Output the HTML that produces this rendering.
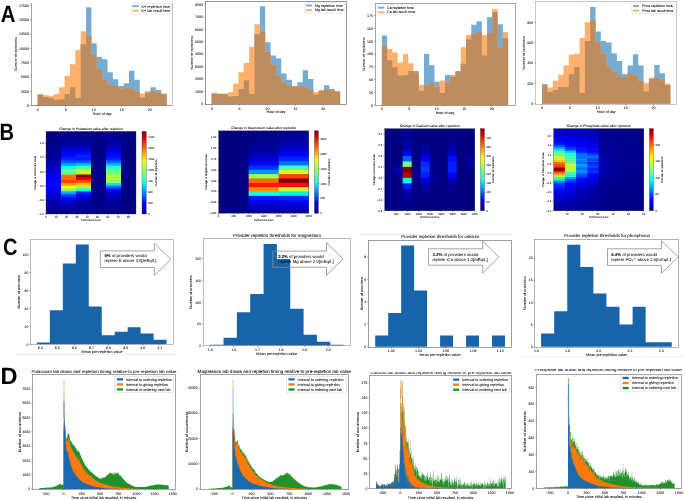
<!DOCTYPE html>
<html><head><meta charset="utf-8"><title>Electrolyte repletion figure</title>
<style>html,body{margin:0;padding:0;background:#fff}body{width:685px;height:501px;overflow:hidden;font-family:"Liberation Sans",sans-serif}svg{display:block}</style>
</head><body>
<svg width="685" height="501" viewBox="0 0 685 501" font-family="Liberation Sans, sans-serif" text-rendering="geometricPrecision">
<path d="M37.7 105.55V94.68H43.07V96.97H48.44V98.11H53.81V99.83H59.18V99.26H64.55V94.11H69.92V87.25H75.3V98.11H80.67V44.35H86.04V7.17H91.41V43.2H96.78V56.93H102.15V59.22H107.52V72.37H112.89V79.24H118.26V86.1H123.63V83.24H129V70.66H134.38V79.81H139.75V97.54H145.12V92.39H150.49V87.25H155.86V90.11H161.23V94.11H166.6V105.55Z" fill="#76acd3"/>
<path d="M37.7 105.55V94.11H43.07V95.25H48.44V95.83H53.81V94.11H59.18V87.25H64.55V75.81H69.92V64.37H75.3V50.07H80.67V31.19H86.04V35.77H91.41V54.64H96.78V68.94H102.15V79.24H107.52V84.96H112.89V86.1H118.26V88.39H123.63V87.82H129V88.39H134.38V91.82H139.75V93.54H145.12V91.25H150.49V90.68H155.86V92.39H161.23V93.54H166.6V105.55Z" fill="#ffb16c"/>
<path d="M37.7 105.55V94.68H43.07V96.97H48.44V98.11H53.81V99.83H59.18V99.26H64.55V94.11H69.92V87.25H75.3V98.11H80.67V44.35H86.04V35.77H91.41V54.64H96.78V68.94H102.15V79.24H107.52V84.96H112.89V86.1H118.26V88.39H123.63V87.82H129V88.39H134.38V91.82H139.75V97.54H145.12V92.39H150.49V90.68H155.86V92.39H161.23V94.11H166.6V105.55Z" fill="#bd8d5f"/>
<line x1="31.5" y1="3" x2="31.5" y2="105.8" stroke="#8c8c8c" stroke-width="0.8"/>
<line x1="31.1" y1="105.5" x2="172" y2="105.5" stroke="#777" stroke-width="0.75"/>
<line x1="37.7" y1="105.55" x2="37.7" y2="106.85" stroke="#444" stroke-width="0.45"/>
<text transform="translate(37.7 110.75) scale(0.1)" font-size="36" text-anchor="middle" fill="#000" stroke="#000" stroke-width="0.5">0</text>
<line x1="65.72" y1="105.55" x2="65.72" y2="106.85" stroke="#444" stroke-width="0.45"/>
<text transform="translate(65.72 110.75) scale(0.1)" font-size="36" text-anchor="middle" fill="#000" stroke="#000" stroke-width="0.5">5</text>
<line x1="93.74" y1="105.55" x2="93.74" y2="106.85" stroke="#444" stroke-width="0.45"/>
<text transform="translate(93.74 110.75) scale(0.1)" font-size="36" text-anchor="middle" fill="#000" stroke="#000" stroke-width="0.5">10</text>
<line x1="121.77" y1="105.55" x2="121.77" y2="106.85" stroke="#444" stroke-width="0.45"/>
<text transform="translate(121.77 110.75) scale(0.1)" font-size="36" text-anchor="middle" fill="#000" stroke="#000" stroke-width="0.5">15</text>
<line x1="149.79" y1="105.55" x2="149.79" y2="106.85" stroke="#444" stroke-width="0.45"/>
<text transform="translate(149.79 110.75) scale(0.1)" font-size="36" text-anchor="middle" fill="#000" stroke="#000" stroke-width="0.5">20</text>
<line x1="29.9" y1="105.55" x2="31.2" y2="105.55" stroke="#444" stroke-width="0.45"/>
<text transform="translate(28.9 106.85) scale(0.1)" font-size="36" text-anchor="end" fill="#000" stroke="#000" stroke-width="0.5">0</text>
<line x1="29.9" y1="91.25" x2="31.2" y2="91.25" stroke="#444" stroke-width="0.45"/>
<text transform="translate(28.9 92.55) scale(0.1)" font-size="36" text-anchor="end" fill="#000" stroke="#000" stroke-width="0.5">2500</text>
<line x1="29.9" y1="76.95" x2="31.2" y2="76.95" stroke="#444" stroke-width="0.45"/>
<text transform="translate(28.9 78.25) scale(0.1)" font-size="36" text-anchor="end" fill="#000" stroke="#000" stroke-width="0.5">5000</text>
<line x1="29.9" y1="62.65" x2="31.2" y2="62.65" stroke="#444" stroke-width="0.45"/>
<text transform="translate(28.9 63.95) scale(0.1)" font-size="36" text-anchor="end" fill="#000" stroke="#000" stroke-width="0.5">7500</text>
<line x1="29.9" y1="48.35" x2="31.2" y2="48.35" stroke="#444" stroke-width="0.45"/>
<text transform="translate(28.9 49.65) scale(0.1)" font-size="36" text-anchor="end" fill="#000" stroke="#000" stroke-width="0.5">10000</text>
<line x1="29.9" y1="34.05" x2="31.2" y2="34.05" stroke="#444" stroke-width="0.45"/>
<text transform="translate(28.9 35.35) scale(0.1)" font-size="36" text-anchor="end" fill="#000" stroke="#000" stroke-width="0.5">12500</text>
<line x1="29.9" y1="19.75" x2="31.2" y2="19.75" stroke="#444" stroke-width="0.45"/>
<text transform="translate(28.9 21.05) scale(0.1)" font-size="36" text-anchor="end" fill="#000" stroke="#000" stroke-width="0.5">15000</text>
<line x1="29.9" y1="5.45" x2="31.2" y2="5.45" stroke="#444" stroke-width="0.45"/>
<text transform="translate(28.9 6.75) scale(0.1)" font-size="36" text-anchor="end" fill="#000" stroke="#000" stroke-width="0.5">17500</text>
<text transform="translate(102.15 114.7) scale(0.1)" font-size="36" text-anchor="middle" fill="#000" stroke="#000" stroke-width="0.5">Hour of day</text>
<text transform="translate(16.8 54.27) rotate(-90) scale(0.1)" font-size="36" text-anchor="middle" fill="#000" stroke="#000" stroke-width="0.5">Number of repletions</text>
<rect x="131.2" y="3.3" width="40" height="10.7" fill="#fff" fill-opacity="0.8" stroke="#d4d4d4" stroke-width="0.5" rx="0.9"/>
<rect x="132.5" y="5.2" width="6.1" height="1.95" fill="#76acd3"/>
<rect x="132.5" y="9.8" width="6.1" height="1.95" fill="#ffb16c"/>
<text transform="translate(141.5 7.5) scale(0.1)" font-size="37.8" text-anchor="start" fill="#000" textLength="285" lengthAdjust="spacingAndGlyphs" stroke="#000" stroke-width="0.5">K+ repletion time</text>
<text transform="translate(141.5 11.85) scale(0.1)" font-size="37.3" text-anchor="start" fill="#000" textLength="289" lengthAdjust="spacingAndGlyphs" stroke="#000" stroke-width="0.5">K+ lab result time</text>
<line x1="172.5" y1="2.6" x2="172.5" y2="105.5" stroke="#c2c2c2" stroke-width="1.0"/>
<path d="M211.7 104V93.41H217.05V94.03H222.4V94.03H227.75V96.52H233.1V95.9H238.45V89.05H243.8V80.33H249.15V94.03H254.5V34.22H259.85V6.19H265.2V42.32H270.55V55.41H275.9V58.52H281.25V73.47H286.6V79.7H291.95V85.93H297.3V82.19H302.65V70.36H308V79.08H313.35V94.66H318.7V90.92H324.05V85.31H329.4V89.05H334.75V91.54H340.1V104Z" fill="#76acd3"/>
<path d="M211.7 104V92.79H217.05V93.41H222.4V93.41H227.75V92.16H233.1V83.44H238.45V72.23H243.8V62.88H249.15V46.68H254.5V24.26H259.85V31.73H265.2V51.67H270.55V64.75H275.9V75.97H281.25V82.82H286.6V85.31H291.95V86.56H297.3V85.93H302.65V86.56H308V89.67H313.35V92.16H318.7V89.67H324.05V89.67H329.4V90.29H334.75V91.54H340.1V104Z" fill="#ffb16c"/>
<path d="M211.7 104V93.41H217.05V94.03H222.4V94.03H227.75V96.52H233.1V95.9H238.45V89.05H243.8V80.33H249.15V94.03H254.5V34.22H259.85V31.73H265.2V51.67H270.55V64.75H275.9V75.97H281.25V82.82H286.6V85.31H291.95V86.56H297.3V85.93H302.65V86.56H308V89.67H313.35V94.66H318.7V90.92H324.05V89.67H329.4V90.29H334.75V91.54H340.1V104Z" fill="#bd8d5f"/>
<rect x="205.5" y="1.5" width="141" height="103" fill="none" stroke="#737373" stroke-width="0.75"/>
<line x1="211.7" y1="104.3" x2="211.7" y2="105.6" stroke="#444" stroke-width="0.45"/>
<text transform="translate(211.7 109.5) scale(0.1)" font-size="36" text-anchor="middle" fill="#000" stroke="#000" stroke-width="0.5">0</text>
<line x1="239.61" y1="104.3" x2="239.61" y2="105.6" stroke="#444" stroke-width="0.45"/>
<text transform="translate(239.61 109.5) scale(0.1)" font-size="36" text-anchor="middle" fill="#000" stroke="#000" stroke-width="0.5">5</text>
<line x1="267.53" y1="104.3" x2="267.53" y2="105.6" stroke="#444" stroke-width="0.45"/>
<text transform="translate(267.53 109.5) scale(0.1)" font-size="36" text-anchor="middle" fill="#000" stroke="#000" stroke-width="0.5">10</text>
<line x1="295.44" y1="104.3" x2="295.44" y2="105.6" stroke="#444" stroke-width="0.45"/>
<text transform="translate(295.44 109.5) scale(0.1)" font-size="36" text-anchor="middle" fill="#000" stroke="#000" stroke-width="0.5">15</text>
<line x1="323.35" y1="104.3" x2="323.35" y2="105.6" stroke="#444" stroke-width="0.45"/>
<text transform="translate(323.35 109.5) scale(0.1)" font-size="36" text-anchor="middle" fill="#000" stroke="#000" stroke-width="0.5">20</text>
<line x1="204.1" y1="104" x2="205.4" y2="104" stroke="#444" stroke-width="0.45"/>
<text transform="translate(203.1 105.3) scale(0.1)" font-size="36" text-anchor="end" fill="#000" stroke="#000" stroke-width="0.5">0</text>
<line x1="204.1" y1="91.54" x2="205.4" y2="91.54" stroke="#444" stroke-width="0.45"/>
<text transform="translate(203.1 92.84) scale(0.1)" font-size="36" text-anchor="end" fill="#000" stroke="#000" stroke-width="0.5">1000</text>
<line x1="204.1" y1="79.08" x2="205.4" y2="79.08" stroke="#444" stroke-width="0.45"/>
<text transform="translate(203.1 80.38) scale(0.1)" font-size="36" text-anchor="end" fill="#000" stroke="#000" stroke-width="0.5">2000</text>
<line x1="204.1" y1="66.62" x2="205.4" y2="66.62" stroke="#444" stroke-width="0.45"/>
<text transform="translate(203.1 67.92) scale(0.1)" font-size="36" text-anchor="end" fill="#000" stroke="#000" stroke-width="0.5">3000</text>
<line x1="204.1" y1="54.16" x2="205.4" y2="54.16" stroke="#444" stroke-width="0.45"/>
<text transform="translate(203.1 55.46) scale(0.1)" font-size="36" text-anchor="end" fill="#000" stroke="#000" stroke-width="0.5">4000</text>
<line x1="204.1" y1="41.7" x2="205.4" y2="41.7" stroke="#444" stroke-width="0.45"/>
<text transform="translate(203.1 43) scale(0.1)" font-size="36" text-anchor="end" fill="#000" stroke="#000" stroke-width="0.5">5000</text>
<line x1="204.1" y1="29.24" x2="205.4" y2="29.24" stroke="#444" stroke-width="0.45"/>
<text transform="translate(203.1 30.54) scale(0.1)" font-size="36" text-anchor="end" fill="#000" stroke="#000" stroke-width="0.5">6000</text>
<line x1="204.1" y1="16.78" x2="205.4" y2="16.78" stroke="#444" stroke-width="0.45"/>
<text transform="translate(203.1 18.08) scale(0.1)" font-size="36" text-anchor="end" fill="#000" stroke="#000" stroke-width="0.5">7000</text>
<line x1="204.1" y1="4.32" x2="205.4" y2="4.32" stroke="#444" stroke-width="0.45"/>
<text transform="translate(203.1 5.62) scale(0.1)" font-size="36" text-anchor="end" fill="#000" stroke="#000" stroke-width="0.5">8000</text>
<text transform="translate(275.9 113.3) scale(0.1)" font-size="36" text-anchor="middle" fill="#000" stroke="#000" stroke-width="0.5">Hour of day</text>
<text transform="translate(193 52.8) rotate(-90) scale(0.1)" font-size="36" text-anchor="middle" fill="#000" stroke="#000" stroke-width="0.5">Number of repletions</text>
<rect x="304.6" y="2.6" width="40.3" height="10.5" fill="#fff" fill-opacity="0.8" stroke="#d4d4d4" stroke-width="0.5" rx="0.9"/>
<rect x="305.9" y="4.5" width="6.1" height="1.95" fill="#76acd3"/>
<rect x="305.9" y="9.1" width="6.1" height="1.95" fill="#ffb16c"/>
<text transform="translate(314.9 6.8) scale(0.1)" font-size="36.5" text-anchor="start" fill="#000" textLength="280" lengthAdjust="spacingAndGlyphs" stroke="#000" stroke-width="0.5">Mg repletion time</text>
<text transform="translate(314.9 11.15) scale(0.1)" font-size="36.2" text-anchor="start" fill="#000" textLength="286" lengthAdjust="spacingAndGlyphs" stroke="#000" stroke-width="0.5">Mg lab result time</text>
<path d="M381.9 105.2V35.57H387.16V60.14H392.42V67.31H397.67V75.5H402.93V74.99H408.19V70.9H413.45V70.9H418.71V90.86H423.97V54H429.23V65.26H434.48V81.65H439.74V92.91H445V74.99H450.26V76.53H455.52V70.9H460.77V63.73H466.03V39.15H471.29V24.82H476.55V21.23H481.81V55.54H487.07V17.14H492.33V12.02H497.58V24.3H502.84V38.13H508.1V105.2Z" fill="#76acd3"/>
<path d="M381.9 105.2V45.81H387.16V48.88H392.42V52.46H397.67V62.7H402.93V54H408.19V63.22H413.45V72.43H418.71V84.72H423.97V85.23H429.23V82.67H434.48V86.77H439.74V80.62H445V82.16H450.26V74.99H455.52V71.92H460.77V47.34H466.03V35.06H471.29V33.52H476.55V31.98H481.81V35.06H487.07V33.01H492.33V8.94H497.58V47.34H502.84V31.98H508.1V105.2Z" fill="#ffb16c"/>
<path d="M381.9 105.2V45.81H387.16V60.14H392.42V67.31H397.67V75.5H402.93V74.99H408.19V70.9H413.45V72.43H418.71V90.86H423.97V85.23H429.23V82.67H434.48V86.77H439.74V92.91H445V82.16H450.26V76.53H455.52V71.92H460.77V63.73H466.03V39.15H471.29V33.52H476.55V31.98H481.81V55.54H487.07V33.01H492.33V12.02H497.58V47.34H502.84V38.13H508.1V105.2Z" fill="#bd8d5f"/>
<rect x="375.5" y="3.5" width="140" height="102" fill="none" stroke="#8c8c8c" stroke-width="0.75"/>
<line x1="381.9" y1="105.2" x2="381.9" y2="106.5" stroke="#444" stroke-width="0.45"/>
<text transform="translate(381.9 110.4) scale(0.1)" font-size="36" text-anchor="middle" fill="#000" stroke="#000" stroke-width="0.5">0</text>
<line x1="409.33" y1="105.2" x2="409.33" y2="106.5" stroke="#444" stroke-width="0.45"/>
<text transform="translate(409.33 110.4) scale(0.1)" font-size="36" text-anchor="middle" fill="#000" stroke="#000" stroke-width="0.5">5</text>
<line x1="436.77" y1="105.2" x2="436.77" y2="106.5" stroke="#444" stroke-width="0.45"/>
<text transform="translate(436.77 110.4) scale(0.1)" font-size="36" text-anchor="middle" fill="#000" stroke="#000" stroke-width="0.5">10</text>
<line x1="464.2" y1="105.2" x2="464.2" y2="106.5" stroke="#444" stroke-width="0.45"/>
<text transform="translate(464.2 110.4) scale(0.1)" font-size="36" text-anchor="middle" fill="#000" stroke="#000" stroke-width="0.5">15</text>
<line x1="491.64" y1="105.2" x2="491.64" y2="106.5" stroke="#444" stroke-width="0.45"/>
<text transform="translate(491.64 110.4) scale(0.1)" font-size="36" text-anchor="middle" fill="#000" stroke="#000" stroke-width="0.5">20</text>
<line x1="374.05" y1="105.2" x2="375.35" y2="105.2" stroke="#444" stroke-width="0.45"/>
<text transform="translate(373.05 106.5) scale(0.1)" font-size="36" text-anchor="end" fill="#000" stroke="#000" stroke-width="0.5">0</text>
<line x1="374.05" y1="92.4" x2="375.35" y2="92.4" stroke="#444" stroke-width="0.45"/>
<text transform="translate(373.05 93.7) scale(0.1)" font-size="36" text-anchor="end" fill="#000" stroke="#000" stroke-width="0.5">25</text>
<line x1="374.05" y1="79.6" x2="375.35" y2="79.6" stroke="#444" stroke-width="0.45"/>
<text transform="translate(373.05 80.9) scale(0.1)" font-size="36" text-anchor="end" fill="#000" stroke="#000" stroke-width="0.5">50</text>
<line x1="374.05" y1="66.8" x2="375.35" y2="66.8" stroke="#444" stroke-width="0.45"/>
<text transform="translate(373.05 68.1) scale(0.1)" font-size="36" text-anchor="end" fill="#000" stroke="#000" stroke-width="0.5">75</text>
<line x1="374.05" y1="54" x2="375.35" y2="54" stroke="#444" stroke-width="0.45"/>
<text transform="translate(373.05 55.3) scale(0.1)" font-size="36" text-anchor="end" fill="#000" stroke="#000" stroke-width="0.5">100</text>
<line x1="374.05" y1="41.2" x2="375.35" y2="41.2" stroke="#444" stroke-width="0.45"/>
<text transform="translate(373.05 42.5) scale(0.1)" font-size="36" text-anchor="end" fill="#000" stroke="#000" stroke-width="0.5">125</text>
<line x1="374.05" y1="28.4" x2="375.35" y2="28.4" stroke="#444" stroke-width="0.45"/>
<text transform="translate(373.05 29.7) scale(0.1)" font-size="36" text-anchor="end" fill="#000" stroke="#000" stroke-width="0.5">150</text>
<line x1="374.05" y1="15.6" x2="375.35" y2="15.6" stroke="#444" stroke-width="0.45"/>
<text transform="translate(373.05 16.9) scale(0.1)" font-size="36" text-anchor="end" fill="#000" stroke="#000" stroke-width="0.5">175</text>
<text transform="translate(445 114.1) scale(0.1)" font-size="36" text-anchor="middle" fill="#000" stroke="#000" stroke-width="0.5">Hour of day</text>
<text transform="translate(364.5 54.35) rotate(-90) scale(0.1)" font-size="36" text-anchor="middle" fill="#000" stroke="#000" stroke-width="0.5">Number of repletions</text>
<rect x="376.8" y="4.8" width="38.8" height="10.1" fill="#fff" fill-opacity="0.8" stroke="#d4d4d4" stroke-width="0.5" rx="0.9"/>
<rect x="378.1" y="6.7" width="6.1" height="1.95" fill="#76acd3"/>
<rect x="378.1" y="11.3" width="6.1" height="1.95" fill="#ffb16c"/>
<text transform="translate(387.1 9) scale(0.1)" font-size="35.3" text-anchor="start" fill="#000" textLength="267" lengthAdjust="spacingAndGlyphs" stroke="#000" stroke-width="0.5">Ca repletion time</text>
<text transform="translate(387.1 13.35) scale(0.1)" font-size="35.7" text-anchor="start" fill="#000" textLength="278" lengthAdjust="spacingAndGlyphs" stroke="#000" stroke-width="0.5">Ca lab result time</text>
<path d="M542.1 103.8V83.91H547.44V92.07H552.78V90.03H558.12V86.97H563.47V86.97H568.81V74.22H574.15V67.08H579.49V93.09H584.83V41.07H590.17V6.9H595.52V31.38H600.86V41.07H606.2V42.6H611.54V53.31H616.88V60.96H622.23V74.22H627.57V65.55H632.91V54.33H638.25V65.55H643.59V91.56H648.93V78.81H654.27V65.04H659.62V73.2H664.96V84.93H670.3V103.8Z" fill="#76acd3"/>
<path d="M542.1 103.8V85.44H547.44V87.48H552.78V80.85H558.12V74.73H563.47V65.55H568.81V54.84H574.15V53.82H579.49V38.01H584.83V22.2H590.17V20.16H595.52V42.6H600.86V53.82H606.2V66.57H611.54V71.67H616.88V76.77H622.23V77.28H627.57V73.2H632.91V75.75H638.25V80.85H643.59V82.89H648.93V77.79H654.27V77.79H659.62V80.34H664.96V83.4H670.3V103.8Z" fill="#ffb16c"/>
<path d="M542.1 103.8V85.44H547.44V92.07H552.78V90.03H558.12V86.97H563.47V86.97H568.81V74.22H574.15V67.08H579.49V93.09H584.83V41.07H590.17V20.16H595.52V42.6H600.86V53.82H606.2V66.57H611.54V71.67H616.88V76.77H622.23V77.28H627.57V73.2H632.91V75.75H638.25V80.85H643.59V91.56H648.93V78.81H654.27V77.79H659.62V80.34H664.96V84.93H670.3V103.8Z" fill="#bd8d5f"/>
<rect x="535.5" y="1.5" width="141" height="103" fill="none" stroke="#b4b4b4" stroke-width="0.75"/>
<line x1="542.1" y1="104" x2="542.1" y2="105.3" stroke="#444" stroke-width="0.45"/>
<text transform="translate(542.1 109.2) scale(0.1)" font-size="36" text-anchor="middle" fill="#000" stroke="#000" stroke-width="0.5">0</text>
<line x1="569.97" y1="104" x2="569.97" y2="105.3" stroke="#444" stroke-width="0.45"/>
<text transform="translate(569.97 109.2) scale(0.1)" font-size="36" text-anchor="middle" fill="#000" stroke="#000" stroke-width="0.5">5</text>
<line x1="597.84" y1="104" x2="597.84" y2="105.3" stroke="#444" stroke-width="0.45"/>
<text transform="translate(597.84 109.2) scale(0.1)" font-size="36" text-anchor="middle" fill="#000" stroke="#000" stroke-width="0.5">10</text>
<line x1="625.71" y1="104" x2="625.71" y2="105.3" stroke="#444" stroke-width="0.45"/>
<text transform="translate(625.71 109.2) scale(0.1)" font-size="36" text-anchor="middle" fill="#000" stroke="#000" stroke-width="0.5">15</text>
<line x1="653.58" y1="104" x2="653.58" y2="105.3" stroke="#444" stroke-width="0.45"/>
<text transform="translate(653.58 109.2) scale(0.1)" font-size="36" text-anchor="middle" fill="#000" stroke="#000" stroke-width="0.5">20</text>
<line x1="534.3" y1="103.8" x2="535.6" y2="103.8" stroke="#444" stroke-width="0.45"/>
<text transform="translate(533.3 105.1) scale(0.1)" font-size="36" text-anchor="end" fill="#000" stroke="#000" stroke-width="0.5">0</text>
<line x1="534.3" y1="83.4" x2="535.6" y2="83.4" stroke="#444" stroke-width="0.45"/>
<text transform="translate(533.3 84.7) scale(0.1)" font-size="36" text-anchor="end" fill="#000" stroke="#000" stroke-width="0.5">200</text>
<line x1="534.3" y1="63" x2="535.6" y2="63" stroke="#444" stroke-width="0.45"/>
<text transform="translate(533.3 64.3) scale(0.1)" font-size="36" text-anchor="end" fill="#000" stroke="#000" stroke-width="0.5">400</text>
<line x1="534.3" y1="42.6" x2="535.6" y2="42.6" stroke="#444" stroke-width="0.45"/>
<text transform="translate(533.3 43.9) scale(0.1)" font-size="36" text-anchor="end" fill="#000" stroke="#000" stroke-width="0.5">600</text>
<line x1="534.3" y1="22.2" x2="535.6" y2="22.2" stroke="#444" stroke-width="0.45"/>
<text transform="translate(533.3 23.5) scale(0.1)" font-size="36" text-anchor="end" fill="#000" stroke="#000" stroke-width="0.5">800</text>
<text transform="translate(606.2 112.9) scale(0.1)" font-size="36" text-anchor="middle" fill="#000" stroke="#000" stroke-width="0.5">Hour of day</text>
<text transform="translate(525.3 52.8) rotate(-90) scale(0.1)" font-size="36" text-anchor="middle" fill="#000" stroke="#000" stroke-width="0.5">Number of repletions</text>
<rect x="631.8" y="3.1" width="42.2" height="10.5" fill="#fff" fill-opacity="0.8" stroke="#d4d4d4" stroke-width="0.5" rx="0.9"/>
<rect x="633.1" y="5" width="6.1" height="1.95" fill="#76acd3"/>
<rect x="633.1" y="9.6" width="6.1" height="1.95" fill="#ffb16c"/>
<text transform="translate(642.1 7.3) scale(0.1)" font-size="35.7" text-anchor="start" fill="#000" textLength="306" lengthAdjust="spacingAndGlyphs" stroke="#000" stroke-width="0.5">Phos repletion time</text>
<text transform="translate(642.1 11.65) scale(0.1)" font-size="35.4" text-anchor="start" fill="#000" textLength="311" lengthAdjust="spacingAndGlyphs" stroke="#000" stroke-width="0.5">Phos lab result time</text>
<defs><linearGradient id="jet" x1="0" y1="1" x2="0" y2="0">
<stop offset="0.000" stop-color="#000080"/>
<stop offset="0.025" stop-color="#00009c"/>
<stop offset="0.050" stop-color="#0000b9"/>
<stop offset="0.075" stop-color="#0000d6"/>
<stop offset="0.100" stop-color="#0000f3"/>
<stop offset="0.125" stop-color="#0000ff"/>
<stop offset="0.150" stop-color="#0019ff"/>
<stop offset="0.175" stop-color="#0033ff"/>
<stop offset="0.200" stop-color="#004dff"/>
<stop offset="0.225" stop-color="#0066ff"/>
<stop offset="0.250" stop-color="#0080ff"/>
<stop offset="0.275" stop-color="#0099ff"/>
<stop offset="0.300" stop-color="#00b3ff"/>
<stop offset="0.325" stop-color="#00ccff"/>
<stop offset="0.350" stop-color="#00e5f7"/>
<stop offset="0.375" stop-color="#15ffe2"/>
<stop offset="0.400" stop-color="#29ffce"/>
<stop offset="0.425" stop-color="#3effb9"/>
<stop offset="0.450" stop-color="#52ffa5"/>
<stop offset="0.475" stop-color="#67ff90"/>
<stop offset="0.500" stop-color="#7bff7b"/>
<stop offset="0.525" stop-color="#90ff67"/>
<stop offset="0.550" stop-color="#a5ff52"/>
<stop offset="0.575" stop-color="#b9ff3e"/>
<stop offset="0.600" stop-color="#ceff29"/>
<stop offset="0.625" stop-color="#e2ff15"/>
<stop offset="0.650" stop-color="#f7f600"/>
<stop offset="0.675" stop-color="#ffde00"/>
<stop offset="0.700" stop-color="#ffc600"/>
<stop offset="0.725" stop-color="#ffaf00"/>
<stop offset="0.750" stop-color="#ff9700"/>
<stop offset="0.775" stop-color="#ff8000"/>
<stop offset="0.800" stop-color="#ff6800"/>
<stop offset="0.825" stop-color="#ff5000"/>
<stop offset="0.850" stop-color="#ff3900"/>
<stop offset="0.875" stop-color="#ff2100"/>
<stop offset="0.900" stop-color="#f30900"/>
<stop offset="0.925" stop-color="#d60000"/>
<stop offset="0.950" stop-color="#b90000"/>
<stop offset="0.975" stop-color="#9c0000"/>
<stop offset="1.000" stop-color="#800000"/>
</linearGradient><clipPath id="cpD"><rect x="0" y="369.7" width="685" height="140"/></clipPath></defs>
<clipPath id="h46"><rect x="46" y="131.4" width="90" height="82.6"/></clipPath><g clip-path="url(#h46)">
<rect x="46" y="131.4" width="90" height="82.6" fill="#000080"/>
<rect x="46" y="129.31" width="15.5" height="3.32" fill="#000086"/>
<rect x="46" y="132.13" width="15.5" height="3.32" fill="#000086"/>
<rect x="46" y="134.96" width="15.5" height="3.32" fill="#000086"/>
<rect x="46" y="137.78" width="15.5" height="3.32" fill="#000086"/>
<rect x="46" y="140.6" width="15.5" height="3.32" fill="#000086"/>
<rect x="46" y="143.43" width="15.5" height="3.32" fill="#000089"/>
<rect x="46" y="146.25" width="15.5" height="3.32" fill="#00008c"/>
<rect x="46" y="149.07" width="15.5" height="3.32" fill="#00008f"/>
<rect x="46" y="151.89" width="15.5" height="3.32" fill="#000092"/>
<rect x="46" y="154.72" width="15.5" height="3.32" fill="#000098"/>
<rect x="46" y="157.54" width="15.5" height="3.32" fill="#00009e"/>
<rect x="46" y="160.36" width="15.5" height="3.32" fill="#0000ab"/>
<rect x="46" y="163.19" width="15.5" height="3.32" fill="#0000bd"/>
<rect x="46" y="166.01" width="15.5" height="3.32" fill="#0000c3"/>
<rect x="46" y="168.83" width="15.5" height="3.32" fill="#0000ca"/>
<rect x="46" y="171.66" width="15.5" height="3.32" fill="#0000d0"/>
<rect x="46" y="174.48" width="15.5" height="3.32" fill="#0000ff"/>
<rect x="46" y="177.3" width="15.5" height="3.32" fill="#0000ff"/>
<rect x="46" y="180.12" width="15.5" height="3.32" fill="#0003ff"/>
<rect x="46" y="182.95" width="15.5" height="3.32" fill="#0008ff"/>
<rect x="46" y="185.77" width="15.5" height="3.32" fill="#0003ff"/>
<rect x="46" y="188.59" width="15.5" height="3.32" fill="#0000ff"/>
<rect x="46" y="191.42" width="15.5" height="3.32" fill="#0000dc"/>
<rect x="46" y="194.24" width="15.5" height="3.32" fill="#0000d6"/>
<rect x="46" y="197.06" width="15.5" height="3.32" fill="#0000d0"/>
<rect x="46" y="199.89" width="15.5" height="3.32" fill="#0000a5"/>
<rect x="46" y="202.71" width="15.5" height="3.32" fill="#0000b7"/>
<rect x="46" y="205.53" width="15.5" height="3.32" fill="#00009e"/>
<rect x="46" y="208.35" width="15.5" height="3.32" fill="#000098"/>
<rect x="46" y="211.18" width="15.5" height="3.32" fill="#000092"/>
<rect x="61" y="129.31" width="15.5" height="3.32" fill="#00008c"/>
<rect x="61" y="132.13" width="15.5" height="3.32" fill="#00008f"/>
<rect x="61" y="134.96" width="15.5" height="3.32" fill="#000092"/>
<rect x="61" y="137.78" width="15.5" height="3.32" fill="#000098"/>
<rect x="61" y="140.6" width="15.5" height="3.32" fill="#00009e"/>
<rect x="61" y="143.43" width="15.5" height="3.32" fill="#0000ab"/>
<rect x="61" y="146.25" width="15.5" height="3.32" fill="#0000bd"/>
<rect x="61" y="149.07" width="15.5" height="3.32" fill="#0000dc"/>
<rect x="61" y="151.89" width="15.5" height="3.32" fill="#0000fb"/>
<rect x="61" y="154.72" width="15.5" height="3.32" fill="#0008ff"/>
<rect x="61" y="157.54" width="15.5" height="3.32" fill="#0024ff"/>
<rect x="61" y="160.36" width="15.5" height="3.32" fill="#005aff"/>
<rect x="61" y="163.19" width="15.5" height="3.32" fill="#00abff"/>
<rect x="61" y="166.01" width="15.5" height="3.32" fill="#13fde4"/>
<rect x="61" y="168.83" width="15.5" height="3.32" fill="#55ffa2"/>
<rect x="61" y="171.66" width="15.5" height="3.32" fill="#6bff8c"/>
<rect x="61" y="174.48" width="15.5" height="3.32" fill="#ff7300"/>
<rect x="61" y="177.3" width="15.5" height="3.32" fill="#ff6900"/>
<rect x="61" y="180.12" width="15.5" height="3.32" fill="#ff4000"/>
<rect x="61" y="182.95" width="15.5" height="3.32" fill="#ff9b00"/>
<rect x="61" y="185.77" width="15.5" height="3.32" fill="#eeff09"/>
<rect x="61" y="188.59" width="15.5" height="3.32" fill="#80ff76"/>
<rect x="61" y="191.42" width="15.5" height="3.32" fill="#00abff"/>
<rect x="61" y="194.24" width="15.5" height="3.32" fill="#003fff"/>
<rect x="61" y="197.06" width="15.5" height="3.32" fill="#0008ff"/>
<rect x="61" y="199.89" width="15.5" height="3.32" fill="#0000dc"/>
<rect x="61" y="202.71" width="15.5" height="3.32" fill="#0000bd"/>
<rect x="61" y="205.53" width="15.5" height="3.32" fill="#0000a5"/>
<rect x="61" y="208.35" width="15.5" height="3.32" fill="#00009e"/>
<rect x="61" y="211.18" width="15.5" height="3.32" fill="#000098"/>
<rect x="76" y="129.31" width="15.5" height="3.32" fill="#000089"/>
<rect x="76" y="132.13" width="15.5" height="3.32" fill="#00008c"/>
<rect x="76" y="134.96" width="15.5" height="3.32" fill="#00008f"/>
<rect x="76" y="137.78" width="15.5" height="3.32" fill="#000092"/>
<rect x="76" y="140.6" width="15.5" height="3.32" fill="#000098"/>
<rect x="76" y="143.43" width="15.5" height="3.32" fill="#0000a5"/>
<rect x="76" y="146.25" width="15.5" height="3.32" fill="#0000bd"/>
<rect x="76" y="149.07" width="15.5" height="3.32" fill="#0000dc"/>
<rect x="76" y="151.89" width="15.5" height="3.32" fill="#0008ff"/>
<rect x="76" y="154.72" width="15.5" height="3.32" fill="#0024ff"/>
<rect x="76" y="157.54" width="15.5" height="3.32" fill="#0019ff"/>
<rect x="76" y="160.36" width="15.5" height="3.32" fill="#005aff"/>
<rect x="76" y="163.19" width="15.5" height="3.32" fill="#00c7ff"/>
<rect x="76" y="166.01" width="15.5" height="3.32" fill="#3fffb8"/>
<rect x="76" y="168.83" width="15.5" height="3.32" fill="#cbff2c"/>
<rect x="76" y="171.66" width="15.5" height="3.32" fill="#b9ff3d"/>
<rect x="76" y="174.48" width="15.5" height="3.32" fill="#900000"/>
<rect x="76" y="177.3" width="15.5" height="3.32" fill="#ed0400"/>
<rect x="76" y="180.12" width="15.5" height="3.32" fill="#ff5000"/>
<rect x="76" y="182.95" width="15.5" height="3.32" fill="#ffbe00"/>
<rect x="76" y="185.77" width="15.5" height="3.32" fill="#96ff60"/>
<rect x="76" y="188.59" width="15.5" height="3.32" fill="#13fde4"/>
<rect x="76" y="191.42" width="15.5" height="3.32" fill="#0024ff"/>
<rect x="76" y="194.24" width="15.5" height="3.32" fill="#0000fb"/>
<rect x="76" y="197.06" width="15.5" height="3.32" fill="#0000ca"/>
<rect x="76" y="199.89" width="15.5" height="3.32" fill="#0000ab"/>
<rect x="76" y="202.71" width="15.5" height="3.32" fill="#00009e"/>
<rect x="76" y="205.53" width="15.5" height="3.32" fill="#000098"/>
<rect x="76" y="208.35" width="15.5" height="3.32" fill="#000092"/>
<rect x="76" y="211.18" width="15.5" height="3.32" fill="#000092"/>
<rect x="91" y="129.31" width="15.5" height="3.32" fill="#000088"/>
<rect x="91" y="132.13" width="15.5" height="3.32" fill="#000088"/>
<rect x="91" y="134.96" width="15.5" height="3.32" fill="#000088"/>
<rect x="91" y="137.78" width="15.5" height="3.32" fill="#000088"/>
<rect x="91" y="140.6" width="15.5" height="3.32" fill="#000088"/>
<rect x="91" y="143.43" width="15.5" height="3.32" fill="#000088"/>
<rect x="91" y="146.25" width="15.5" height="3.32" fill="#000088"/>
<rect x="91" y="149.07" width="15.5" height="3.32" fill="#000088"/>
<rect x="91" y="151.89" width="15.5" height="3.32" fill="#000088"/>
<rect x="91" y="154.72" width="15.5" height="3.32" fill="#000088"/>
<rect x="91" y="157.54" width="15.5" height="3.32" fill="#000088"/>
<rect x="91" y="160.36" width="15.5" height="3.32" fill="#000088"/>
<rect x="91" y="163.19" width="15.5" height="3.32" fill="#000088"/>
<rect x="91" y="166.01" width="15.5" height="3.32" fill="#000088"/>
<rect x="91" y="168.83" width="15.5" height="3.32" fill="#000088"/>
<rect x="91" y="171.66" width="15.5" height="3.32" fill="#000088"/>
<rect x="91" y="174.48" width="15.5" height="3.32" fill="#000088"/>
<rect x="91" y="177.3" width="15.5" height="3.32" fill="#000088"/>
<rect x="91" y="180.12" width="15.5" height="3.32" fill="#000088"/>
<rect x="91" y="182.95" width="15.5" height="3.32" fill="#000088"/>
<rect x="91" y="185.77" width="15.5" height="3.32" fill="#000088"/>
<rect x="91" y="188.59" width="15.5" height="3.32" fill="#000088"/>
<rect x="91" y="191.42" width="15.5" height="3.32" fill="#000088"/>
<rect x="91" y="194.24" width="15.5" height="3.32" fill="#000088"/>
<rect x="91" y="197.06" width="15.5" height="3.32" fill="#000088"/>
<rect x="91" y="199.89" width="15.5" height="3.32" fill="#000088"/>
<rect x="91" y="202.71" width="15.5" height="3.32" fill="#000088"/>
<rect x="91" y="205.53" width="15.5" height="3.32" fill="#000088"/>
<rect x="91" y="208.35" width="15.5" height="3.32" fill="#000088"/>
<rect x="91" y="211.18" width="15.5" height="3.32" fill="#000088"/>
<rect x="106" y="129.31" width="15.5" height="3.32" fill="#00008c"/>
<rect x="106" y="132.13" width="15.5" height="3.32" fill="#00008f"/>
<rect x="106" y="134.96" width="15.5" height="3.32" fill="#000092"/>
<rect x="106" y="137.78" width="15.5" height="3.32" fill="#000098"/>
<rect x="106" y="140.6" width="15.5" height="3.32" fill="#0000a5"/>
<rect x="106" y="143.43" width="15.5" height="3.32" fill="#0000b1"/>
<rect x="106" y="146.25" width="15.5" height="3.32" fill="#0000bd"/>
<rect x="106" y="149.07" width="15.5" height="3.32" fill="#0000dc"/>
<rect x="106" y="151.89" width="15.5" height="3.32" fill="#0000fb"/>
<rect x="106" y="154.72" width="15.5" height="3.32" fill="#0008ff"/>
<rect x="106" y="157.54" width="15.5" height="3.32" fill="#0024ff"/>
<rect x="106" y="160.36" width="15.5" height="3.32" fill="#0065ff"/>
<rect x="106" y="163.19" width="15.5" height="3.32" fill="#00bcff"/>
<rect x="106" y="166.01" width="15.5" height="3.32" fill="#1cffdb"/>
<rect x="106" y="168.83" width="15.5" height="3.32" fill="#6bff8c"/>
<rect x="106" y="171.66" width="15.5" height="3.32" fill="#6bff8c"/>
<rect x="106" y="174.48" width="15.5" height="3.32" fill="#b1ff46"/>
<rect x="106" y="177.3" width="15.5" height="3.32" fill="#acff4b"/>
<rect x="106" y="180.12" width="15.5" height="3.32" fill="#9fff58"/>
<rect x="106" y="182.95" width="15.5" height="3.32" fill="#00e2fa"/>
<rect x="106" y="185.77" width="15.5" height="3.32" fill="#0065ff"/>
<rect x="106" y="188.59" width="15.5" height="3.32" fill="#0008ff"/>
<rect x="106" y="191.42" width="15.5" height="3.32" fill="#0000dc"/>
<rect x="106" y="194.24" width="15.5" height="3.32" fill="#0000bd"/>
<rect x="106" y="197.06" width="15.5" height="3.32" fill="#0000ab"/>
<rect x="106" y="199.89" width="15.5" height="3.32" fill="#00009e"/>
<rect x="106" y="202.71" width="15.5" height="3.32" fill="#000098"/>
<rect x="106" y="205.53" width="15.5" height="3.32" fill="#000092"/>
<rect x="106" y="208.35" width="15.5" height="3.32" fill="#00008f"/>
<rect x="106" y="211.18" width="15.5" height="3.32" fill="#00008c"/>
<rect x="121" y="129.31" width="15.5" height="3.32" fill="#000082"/>
<rect x="121" y="132.13" width="15.5" height="3.32" fill="#000082"/>
<rect x="121" y="134.96" width="15.5" height="3.32" fill="#000082"/>
<rect x="121" y="137.78" width="15.5" height="3.32" fill="#000082"/>
<rect x="121" y="140.6" width="15.5" height="3.32" fill="#000082"/>
<rect x="121" y="143.43" width="15.5" height="3.32" fill="#000082"/>
<rect x="121" y="146.25" width="15.5" height="3.32" fill="#000082"/>
<rect x="121" y="149.07" width="15.5" height="3.32" fill="#000082"/>
<rect x="121" y="151.89" width="15.5" height="3.32" fill="#000082"/>
<rect x="121" y="154.72" width="15.5" height="3.32" fill="#000082"/>
<rect x="121" y="157.54" width="15.5" height="3.32" fill="#000082"/>
<rect x="121" y="160.36" width="15.5" height="3.32" fill="#000082"/>
<rect x="121" y="163.19" width="15.5" height="3.32" fill="#000082"/>
<rect x="121" y="166.01" width="15.5" height="3.32" fill="#000082"/>
<rect x="121" y="168.83" width="15.5" height="3.32" fill="#000082"/>
<rect x="121" y="171.66" width="15.5" height="3.32" fill="#000082"/>
<rect x="121" y="174.48" width="15.5" height="3.32" fill="#000082"/>
<rect x="121" y="177.3" width="15.5" height="3.32" fill="#000082"/>
<rect x="121" y="180.12" width="15.5" height="3.32" fill="#000082"/>
<rect x="121" y="182.95" width="15.5" height="3.32" fill="#000082"/>
<rect x="121" y="185.77" width="15.5" height="3.32" fill="#000082"/>
<rect x="121" y="188.59" width="15.5" height="3.32" fill="#000082"/>
<rect x="121" y="191.42" width="15.5" height="3.32" fill="#000082"/>
<rect x="121" y="194.24" width="15.5" height="3.32" fill="#000082"/>
<rect x="121" y="197.06" width="15.5" height="3.32" fill="#000082"/>
<rect x="121" y="199.89" width="15.5" height="3.32" fill="#000082"/>
<rect x="121" y="202.71" width="15.5" height="3.32" fill="#000082"/>
<rect x="121" y="205.53" width="15.5" height="3.32" fill="#000082"/>
<rect x="121" y="208.35" width="15.5" height="3.32" fill="#000082"/>
<rect x="121" y="211.18" width="15.5" height="3.32" fill="#000082"/>
</g>
<rect x="46" y="131.4" width="90" height="82.6" fill="none" stroke="#444" stroke-width="0.35"/>
<line x1="46" y1="214" x2="46" y2="215.3" stroke="#444" stroke-width="0.45"/>
<text transform="translate(46 217.7) scale(0.1)" font-size="27" text-anchor="middle" fill="#000" stroke="#000" stroke-width="0.5">0</text>
<line x1="56.3" y1="214" x2="56.3" y2="215.3" stroke="#444" stroke-width="0.45"/>
<text transform="translate(56.3 217.7) scale(0.1)" font-size="27" text-anchor="middle" fill="#000" stroke="#000" stroke-width="0.5">10</text>
<line x1="66.6" y1="214" x2="66.6" y2="215.3" stroke="#444" stroke-width="0.45"/>
<text transform="translate(66.6 217.7) scale(0.1)" font-size="27" text-anchor="middle" fill="#000" stroke="#000" stroke-width="0.5">20</text>
<line x1="76.9" y1="214" x2="76.9" y2="215.3" stroke="#444" stroke-width="0.45"/>
<text transform="translate(76.9 217.7) scale(0.1)" font-size="27" text-anchor="middle" fill="#000" stroke="#000" stroke-width="0.5">30</text>
<line x1="87.2" y1="214" x2="87.2" y2="215.3" stroke="#444" stroke-width="0.45"/>
<text transform="translate(87.2 217.7) scale(0.1)" font-size="27" text-anchor="middle" fill="#000" stroke="#000" stroke-width="0.5">40</text>
<line x1="97.5" y1="214" x2="97.5" y2="215.3" stroke="#444" stroke-width="0.45"/>
<text transform="translate(97.5 217.7) scale(0.1)" font-size="27" text-anchor="middle" fill="#000" stroke="#000" stroke-width="0.5">50</text>
<line x1="107.8" y1="214" x2="107.8" y2="215.3" stroke="#444" stroke-width="0.45"/>
<text transform="translate(107.8 217.7) scale(0.1)" font-size="27" text-anchor="middle" fill="#000" stroke="#000" stroke-width="0.5">60</text>
<line x1="118.1" y1="214" x2="118.1" y2="215.3" stroke="#444" stroke-width="0.45"/>
<text transform="translate(118.1 217.7) scale(0.1)" font-size="27" text-anchor="middle" fill="#000" stroke="#000" stroke-width="0.5">70</text>
<line x1="128.4" y1="214" x2="128.4" y2="215.3" stroke="#444" stroke-width="0.45"/>
<text transform="translate(128.4 217.7) scale(0.1)" font-size="27" text-anchor="middle" fill="#000" stroke="#000" stroke-width="0.5">80</text>
<line x1="44.7" y1="214" x2="46" y2="214" stroke="#444" stroke-width="0.45"/>
<text transform="translate(43.7 214.97) scale(0.1)" font-size="27" text-anchor="end" fill="#000" stroke="#000" stroke-width="0.5">−1.0</text>
<line x1="44.7" y1="199.85" x2="46" y2="199.85" stroke="#444" stroke-width="0.45"/>
<text transform="translate(43.7 200.82) scale(0.1)" font-size="27" text-anchor="end" fill="#000" stroke="#000" stroke-width="0.5">−0.5</text>
<line x1="44.7" y1="185.7" x2="46" y2="185.7" stroke="#444" stroke-width="0.45"/>
<text transform="translate(43.7 186.67) scale(0.1)" font-size="27" text-anchor="end" fill="#000" stroke="#000" stroke-width="0.5">0.0</text>
<line x1="44.7" y1="171.55" x2="46" y2="171.55" stroke="#444" stroke-width="0.45"/>
<text transform="translate(43.7 172.52) scale(0.1)" font-size="27" text-anchor="end" fill="#000" stroke="#000" stroke-width="0.5">0.5</text>
<line x1="44.7" y1="157.4" x2="46" y2="157.4" stroke="#444" stroke-width="0.45"/>
<text transform="translate(43.7 158.37) scale(0.1)" font-size="27" text-anchor="end" fill="#000" stroke="#000" stroke-width="0.5">1.0</text>
<line x1="44.7" y1="143.25" x2="46" y2="143.25" stroke="#444" stroke-width="0.45"/>
<text transform="translate(43.7 144.22) scale(0.1)" font-size="27" text-anchor="end" fill="#000" stroke="#000" stroke-width="0.5">1.5</text>
<text transform="translate(91 129.9) scale(0.1)" font-size="34.3" text-anchor="middle" fill="#000" textLength="636" lengthAdjust="spacingAndGlyphs" stroke="#000" stroke-width="0.5">Change in Potassium value after repletion</text>
<text transform="translate(91 221.3) scale(0.1)" font-size="27.5" text-anchor="middle" fill="#000" stroke="#000" stroke-width="0.5">Performed dose</text>
<text transform="translate(36.2 172.7) rotate(-90) scale(0.1)" font-size="28" text-anchor="middle" fill="#000" stroke="#000" stroke-width="0.5">Change in Potassium value</text>
<rect x="142" y="131.4" width="4.2" height="82.6" fill="url(#jet)" stroke="#444" stroke-width="0.35"/>
<line x1="146.2" y1="214" x2="147.4" y2="214" stroke="#444" stroke-width="0.45"/>
<text transform="translate(148.2 215) scale(0.1)" font-size="27" text-anchor="start" fill="#000" stroke="#000" stroke-width="0.5">0</text>
<line x1="146.2" y1="203" x2="147.4" y2="203" stroke="#444" stroke-width="0.45"/>
<text transform="translate(148.2 204) scale(0.1)" font-size="27" text-anchor="start" fill="#000" stroke="#000" stroke-width="0.5">250</text>
<line x1="146.2" y1="192" x2="147.4" y2="192" stroke="#444" stroke-width="0.45"/>
<text transform="translate(148.2 193) scale(0.1)" font-size="27" text-anchor="start" fill="#000" stroke="#000" stroke-width="0.5">500</text>
<line x1="146.2" y1="181" x2="147.4" y2="181" stroke="#444" stroke-width="0.45"/>
<text transform="translate(148.2 182) scale(0.1)" font-size="27" text-anchor="start" fill="#000" stroke="#000" stroke-width="0.5">750</text>
<line x1="146.2" y1="169.99" x2="147.4" y2="169.99" stroke="#444" stroke-width="0.45"/>
<text transform="translate(148.2 170.99) scale(0.1)" font-size="27" text-anchor="start" fill="#000" stroke="#000" stroke-width="0.5">1000</text>
<line x1="146.2" y1="158.99" x2="147.4" y2="158.99" stroke="#444" stroke-width="0.45"/>
<text transform="translate(148.2 159.99) scale(0.1)" font-size="27" text-anchor="start" fill="#000" stroke="#000" stroke-width="0.5">1250</text>
<line x1="146.2" y1="147.99" x2="147.4" y2="147.99" stroke="#444" stroke-width="0.45"/>
<text transform="translate(148.2 148.99) scale(0.1)" font-size="27" text-anchor="start" fill="#000" stroke="#000" stroke-width="0.5">1500</text>
<line x1="146.2" y1="136.99" x2="147.4" y2="136.99" stroke="#444" stroke-width="0.45"/>
<text transform="translate(148.2 137.99) scale(0.1)" font-size="27" text-anchor="start" fill="#000" stroke="#000" stroke-width="0.5">1750</text>
<text transform="translate(156.9 172.7) rotate(-90) scale(0.1)" font-size="29" text-anchor="middle" fill="#000" stroke="#000" stroke-width="0.5">Number of repletions</text>
<clipPath id="h218"><rect x="218.6" y="130.8" width="90.2" height="82.4"/></clipPath><g clip-path="url(#h218)">
<rect x="218.6" y="130.8" width="90.2" height="82.4" fill="#000080"/>
<rect x="218.6" y="130.67" width="30.57" height="4.84" fill="#000080"/>
<rect x="218.6" y="135.01" width="30.57" height="4.84" fill="#000080"/>
<rect x="218.6" y="139.36" width="30.57" height="4.84" fill="#000080"/>
<rect x="218.6" y="143.7" width="30.57" height="4.84" fill="#000080"/>
<rect x="218.6" y="148.04" width="30.57" height="4.84" fill="#000080"/>
<rect x="218.6" y="152.39" width="30.57" height="4.84" fill="#000080"/>
<rect x="218.6" y="156.73" width="30.57" height="4.84" fill="#000080"/>
<rect x="218.6" y="161.08" width="30.57" height="4.84" fill="#000080"/>
<rect x="218.6" y="165.42" width="30.57" height="4.84" fill="#000080"/>
<rect x="218.6" y="169.76" width="30.57" height="4.84" fill="#000080"/>
<rect x="218.6" y="174.11" width="30.57" height="4.84" fill="#000080"/>
<rect x="218.6" y="178.45" width="30.57" height="4.84" fill="#000080"/>
<rect x="218.6" y="182.79" width="30.57" height="4.84" fill="#000080"/>
<rect x="218.6" y="187.14" width="30.57" height="4.84" fill="#000080"/>
<rect x="218.6" y="191.48" width="30.57" height="4.84" fill="#000080"/>
<rect x="218.6" y="195.83" width="30.57" height="4.84" fill="#000080"/>
<rect x="218.6" y="200.17" width="30.57" height="4.84" fill="#000080"/>
<rect x="218.6" y="204.51" width="30.57" height="4.84" fill="#000080"/>
<rect x="218.6" y="208.86" width="30.57" height="4.84" fill="#000080"/>
<rect x="248.67" y="130.67" width="30.57" height="4.84" fill="#000084"/>
<rect x="248.67" y="135.01" width="30.57" height="4.84" fill="#000088"/>
<rect x="248.67" y="139.36" width="30.57" height="4.84" fill="#00008c"/>
<rect x="248.67" y="143.7" width="30.57" height="4.84" fill="#000094"/>
<rect x="248.67" y="148.04" width="30.57" height="4.84" fill="#0000a1"/>
<rect x="248.67" y="152.39" width="30.57" height="4.84" fill="#0000b6"/>
<rect x="248.67" y="156.73" width="30.57" height="4.84" fill="#0000d3"/>
<rect x="248.67" y="161.08" width="30.57" height="4.84" fill="#0000fd"/>
<rect x="248.67" y="165.42" width="30.57" height="4.84" fill="#0031ff"/>
<rect x="248.67" y="169.76" width="30.57" height="4.84" fill="#0094ff"/>
<rect x="248.67" y="174.11" width="30.57" height="4.84" fill="#9dff5a"/>
<rect x="248.67" y="178.45" width="30.57" height="4.84" fill="#ff6f00"/>
<rect x="248.67" y="182.79" width="30.57" height="4.84" fill="#ff1a00"/>
<rect x="248.67" y="187.14" width="30.57" height="4.84" fill="#ff9100"/>
<rect x="248.67" y="191.48" width="30.57" height="4.84" fill="#17ffdf"/>
<rect x="248.67" y="195.83" width="30.57" height="4.84" fill="#0014ff"/>
<rect x="248.67" y="200.17" width="30.57" height="4.84" fill="#0000ff"/>
<rect x="248.67" y="204.51" width="30.57" height="4.84" fill="#0000b6"/>
<rect x="248.67" y="208.86" width="30.57" height="4.84" fill="#0000a1"/>
<rect x="278.73" y="130.67" width="30.57" height="4.84" fill="#000090"/>
<rect x="278.73" y="135.01" width="30.57" height="4.84" fill="#000099"/>
<rect x="278.73" y="139.36" width="30.57" height="4.84" fill="#0000a5"/>
<rect x="278.73" y="143.7" width="30.57" height="4.84" fill="#0000b6"/>
<rect x="278.73" y="148.04" width="30.57" height="4.84" fill="#0000d3"/>
<rect x="278.73" y="152.39" width="30.57" height="4.84" fill="#0000fd"/>
<rect x="278.73" y="156.73" width="30.57" height="4.84" fill="#0026ff"/>
<rect x="278.73" y="161.08" width="30.57" height="4.84" fill="#006fff"/>
<rect x="278.73" y="165.42" width="30.57" height="4.84" fill="#44ffb3"/>
<rect x="278.73" y="169.76" width="30.57" height="4.84" fill="#d8ff1f"/>
<rect x="278.73" y="174.11" width="30.57" height="4.84" fill="#ff4200"/>
<rect x="278.73" y="178.45" width="30.57" height="4.84" fill="#800000"/>
<rect x="278.73" y="182.79" width="30.57" height="4.84" fill="#fb0f00"/>
<rect x="278.73" y="187.14" width="30.57" height="4.84" fill="#baff3c"/>
<rect x="278.73" y="191.48" width="30.57" height="4.84" fill="#09f0ee"/>
<rect x="278.73" y="195.83" width="30.57" height="4.84" fill="#0026ff"/>
<rect x="278.73" y="200.17" width="30.57" height="4.84" fill="#0000ff"/>
<rect x="278.73" y="204.51" width="30.57" height="4.84" fill="#0000be"/>
<rect x="278.73" y="208.86" width="30.57" height="4.84" fill="#0000a9"/>
</g>
<rect x="218.6" y="130.8" width="90.2" height="82.4" fill="none" stroke="#444" stroke-width="0.35"/>
<line x1="218.6" y1="213.2" x2="218.6" y2="214.5" stroke="#444" stroke-width="0.45"/>
<text transform="translate(218.6 216.9) scale(0.1)" font-size="27" text-anchor="middle" fill="#000" stroke="#000" stroke-width="0.5">0</text>
<line x1="233.63" y1="213.2" x2="233.63" y2="214.5" stroke="#444" stroke-width="0.45"/>
<text transform="translate(233.63 216.9) scale(0.1)" font-size="27" text-anchor="middle" fill="#000" stroke="#000" stroke-width="0.5">500</text>
<line x1="248.66" y1="213.2" x2="248.66" y2="214.5" stroke="#444" stroke-width="0.45"/>
<text transform="translate(248.66 216.9) scale(0.1)" font-size="27" text-anchor="middle" fill="#000" stroke="#000" stroke-width="0.5">1000</text>
<line x1="263.69" y1="213.2" x2="263.69" y2="214.5" stroke="#444" stroke-width="0.45"/>
<text transform="translate(263.69 216.9) scale(0.1)" font-size="27" text-anchor="middle" fill="#000" stroke="#000" stroke-width="0.5">1500</text>
<line x1="278.72" y1="213.2" x2="278.72" y2="214.5" stroke="#444" stroke-width="0.45"/>
<text transform="translate(278.72 216.9) scale(0.1)" font-size="27" text-anchor="middle" fill="#000" stroke="#000" stroke-width="0.5">2000</text>
<line x1="293.75" y1="213.2" x2="293.75" y2="214.5" stroke="#444" stroke-width="0.45"/>
<text transform="translate(293.75 216.9) scale(0.1)" font-size="27" text-anchor="middle" fill="#000" stroke="#000" stroke-width="0.5">2500</text>
<line x1="308.78" y1="213.2" x2="308.78" y2="214.5" stroke="#444" stroke-width="0.45"/>
<text transform="translate(308.78 216.9) scale(0.1)" font-size="27" text-anchor="middle" fill="#000" stroke="#000" stroke-width="0.5">3000</text>
<line x1="217.3" y1="213.2" x2="218.6" y2="213.2" stroke="#444" stroke-width="0.45"/>
<text transform="translate(216.3 214.17) scale(0.1)" font-size="27" text-anchor="end" fill="#000" stroke="#000" stroke-width="0.5">−0.50</text>
<line x1="217.3" y1="202.34" x2="218.6" y2="202.34" stroke="#444" stroke-width="0.45"/>
<text transform="translate(216.3 203.31) scale(0.1)" font-size="27" text-anchor="end" fill="#000" stroke="#000" stroke-width="0.5">−0.25</text>
<line x1="217.3" y1="191.48" x2="218.6" y2="191.48" stroke="#444" stroke-width="0.45"/>
<text transform="translate(216.3 192.46) scale(0.1)" font-size="27" text-anchor="end" fill="#000" stroke="#000" stroke-width="0.5">0.00</text>
<line x1="217.3" y1="180.63" x2="218.6" y2="180.63" stroke="#444" stroke-width="0.45"/>
<text transform="translate(216.3 181.6) scale(0.1)" font-size="27" text-anchor="end" fill="#000" stroke="#000" stroke-width="0.5">0.25</text>
<line x1="217.3" y1="169.77" x2="218.6" y2="169.77" stroke="#444" stroke-width="0.45"/>
<text transform="translate(216.3 170.74) scale(0.1)" font-size="27" text-anchor="end" fill="#000" stroke="#000" stroke-width="0.5">0.50</text>
<line x1="217.3" y1="158.91" x2="218.6" y2="158.91" stroke="#444" stroke-width="0.45"/>
<text transform="translate(216.3 159.88) scale(0.1)" font-size="27" text-anchor="end" fill="#000" stroke="#000" stroke-width="0.5">0.75</text>
<line x1="217.3" y1="148.06" x2="218.6" y2="148.06" stroke="#444" stroke-width="0.45"/>
<text transform="translate(216.3 149.03) scale(0.1)" font-size="27" text-anchor="end" fill="#000" stroke="#000" stroke-width="0.5">1.00</text>
<line x1="217.3" y1="137.2" x2="218.6" y2="137.2" stroke="#444" stroke-width="0.45"/>
<text transform="translate(216.3 138.17) scale(0.1)" font-size="27" text-anchor="end" fill="#000" stroke="#000" stroke-width="0.5">1.25</text>
<text transform="translate(263.7 129.3) scale(0.1)" font-size="34.1" text-anchor="middle" fill="#000" textLength="650" lengthAdjust="spacingAndGlyphs" stroke="#000" stroke-width="0.5">Change in Magnesium value after repletion</text>
<text transform="translate(263.7 220.5) scale(0.1)" font-size="27.5" text-anchor="middle" fill="#000" stroke="#000" stroke-width="0.5">Performed dose</text>
<text transform="translate(206.6 172) rotate(-90) scale(0.1)" font-size="28" text-anchor="middle" fill="#000" stroke="#000" stroke-width="0.5">Change in Magnesium value</text>
<rect x="314.4" y="130.8" width="4" height="82.4" fill="url(#jet)" stroke="#444" stroke-width="0.35"/>
<line x1="318.4" y1="213.2" x2="319.6" y2="213.2" stroke="#444" stroke-width="0.45"/>
<text transform="translate(320.4 214.2) scale(0.1)" font-size="27" text-anchor="start" fill="#000" stroke="#000" stroke-width="0.5">0</text>
<line x1="318.4" y1="198.35" x2="319.6" y2="198.35" stroke="#444" stroke-width="0.45"/>
<text transform="translate(320.4 199.35) scale(0.1)" font-size="27" text-anchor="start" fill="#000" stroke="#000" stroke-width="0.5">500</text>
<line x1="318.4" y1="183.51" x2="319.6" y2="183.51" stroke="#444" stroke-width="0.45"/>
<text transform="translate(320.4 184.51) scale(0.1)" font-size="27" text-anchor="start" fill="#000" stroke="#000" stroke-width="0.5">1000</text>
<line x1="318.4" y1="168.66" x2="319.6" y2="168.66" stroke="#444" stroke-width="0.45"/>
<text transform="translate(320.4 169.66) scale(0.1)" font-size="27" text-anchor="start" fill="#000" stroke="#000" stroke-width="0.5">1500</text>
<line x1="318.4" y1="153.81" x2="319.6" y2="153.81" stroke="#444" stroke-width="0.45"/>
<text transform="translate(320.4 154.81) scale(0.1)" font-size="27" text-anchor="start" fill="#000" stroke="#000" stroke-width="0.5">2000</text>
<line x1="318.4" y1="138.97" x2="319.6" y2="138.97" stroke="#444" stroke-width="0.45"/>
<text transform="translate(320.4 139.97) scale(0.1)" font-size="27" text-anchor="start" fill="#000" stroke="#000" stroke-width="0.5">2500</text>
<text transform="translate(329.5 172) rotate(-90) scale(0.1)" font-size="29" text-anchor="middle" fill="#000" stroke="#000" stroke-width="0.5">Number of repletions</text>
<clipPath id="h384"><rect x="384.6" y="128.6" width="90.2" height="82.2"/></clipPath><g clip-path="url(#h384)">
<rect x="384.6" y="128.6" width="90.2" height="82.2" fill="#000080"/>
<rect x="384.6" y="128.6" width="9.52" height="5.98" fill="#000080"/>
<rect x="384.6" y="134.08" width="9.52" height="5.98" fill="#000080"/>
<rect x="384.6" y="139.56" width="9.52" height="5.98" fill="#000080"/>
<rect x="384.6" y="145.04" width="9.52" height="5.98" fill="#000080"/>
<rect x="384.6" y="150.52" width="9.52" height="5.98" fill="#000080"/>
<rect x="384.6" y="156" width="9.52" height="5.98" fill="#000080"/>
<rect x="384.6" y="161.48" width="9.52" height="5.98" fill="#000080"/>
<rect x="384.6" y="166.96" width="9.52" height="5.98" fill="#000080"/>
<rect x="384.6" y="172.44" width="9.52" height="5.98" fill="#000080"/>
<rect x="384.6" y="177.92" width="9.52" height="5.98" fill="#000080"/>
<rect x="384.6" y="183.4" width="9.52" height="5.98" fill="#000080"/>
<rect x="384.6" y="188.88" width="9.52" height="5.98" fill="#000080"/>
<rect x="384.6" y="194.36" width="9.52" height="5.98" fill="#000080"/>
<rect x="384.6" y="199.84" width="9.52" height="5.98" fill="#000080"/>
<rect x="384.6" y="205.32" width="9.52" height="5.98" fill="#000080"/>
<rect x="393.62" y="128.6" width="9.52" height="5.98" fill="#000080"/>
<rect x="393.62" y="134.08" width="9.52" height="5.98" fill="#000080"/>
<rect x="393.62" y="139.56" width="9.52" height="5.98" fill="#000080"/>
<rect x="393.62" y="145.04" width="9.52" height="5.98" fill="#000080"/>
<rect x="393.62" y="150.52" width="9.52" height="5.98" fill="#000080"/>
<rect x="393.62" y="156" width="9.52" height="5.98" fill="#000080"/>
<rect x="393.62" y="161.48" width="9.52" height="5.98" fill="#000080"/>
<rect x="393.62" y="166.96" width="9.52" height="5.98" fill="#0000ae"/>
<rect x="393.62" y="172.44" width="9.52" height="5.98" fill="#00008f"/>
<rect x="393.62" y="177.92" width="9.52" height="5.98" fill="#000080"/>
<rect x="393.62" y="183.4" width="9.52" height="5.98" fill="#000080"/>
<rect x="393.62" y="188.88" width="9.52" height="5.98" fill="#000080"/>
<rect x="393.62" y="194.36" width="9.52" height="5.98" fill="#000080"/>
<rect x="393.62" y="199.84" width="9.52" height="5.98" fill="#000080"/>
<rect x="393.62" y="205.32" width="9.52" height="5.98" fill="#000080"/>
<rect x="402.64" y="128.6" width="9.52" height="5.98" fill="#000094"/>
<rect x="402.64" y="134.08" width="9.52" height="5.98" fill="#00008c"/>
<rect x="402.64" y="139.56" width="9.52" height="5.98" fill="#0000ae"/>
<rect x="402.64" y="145.04" width="9.52" height="5.98" fill="#0000a6"/>
<rect x="402.64" y="150.52" width="9.52" height="5.98" fill="#0000fb"/>
<rect x="402.64" y="156" width="9.52" height="5.98" fill="#0064ff"/>
<rect x="402.64" y="161.48" width="9.52" height="5.98" fill="#7cff7a"/>
<rect x="402.64" y="166.96" width="9.52" height="5.98" fill="#800000"/>
<rect x="402.64" y="172.44" width="9.52" height="5.98" fill="#ca0000"/>
<rect x="402.64" y="177.92" width="9.52" height="5.98" fill="#0ef7e8"/>
<rect x="402.64" y="183.4" width="9.52" height="5.98" fill="#001bff"/>
<rect x="402.64" y="188.88" width="9.52" height="5.98" fill="#0000ae"/>
<rect x="402.64" y="194.36" width="9.52" height="5.98" fill="#00009e"/>
<rect x="402.64" y="199.84" width="9.52" height="5.98" fill="#00008c"/>
<rect x="402.64" y="205.32" width="9.52" height="5.98" fill="#000085"/>
<rect x="411.66" y="128.6" width="9.52" height="5.98" fill="#000080"/>
<rect x="411.66" y="134.08" width="9.52" height="5.98" fill="#000080"/>
<rect x="411.66" y="139.56" width="9.52" height="5.98" fill="#000080"/>
<rect x="411.66" y="145.04" width="9.52" height="5.98" fill="#000080"/>
<rect x="411.66" y="150.52" width="9.52" height="5.98" fill="#000080"/>
<rect x="411.66" y="156" width="9.52" height="5.98" fill="#000080"/>
<rect x="411.66" y="161.48" width="9.52" height="5.98" fill="#000080"/>
<rect x="411.66" y="166.96" width="9.52" height="5.98" fill="#00008f"/>
<rect x="411.66" y="172.44" width="9.52" height="5.98" fill="#00008f"/>
<rect x="411.66" y="177.92" width="9.52" height="5.98" fill="#00008a"/>
<rect x="411.66" y="183.4" width="9.52" height="5.98" fill="#000080"/>
<rect x="411.66" y="188.88" width="9.52" height="5.98" fill="#000080"/>
<rect x="411.66" y="194.36" width="9.52" height="5.98" fill="#000080"/>
<rect x="411.66" y="199.84" width="9.52" height="5.98" fill="#000080"/>
<rect x="411.66" y="205.32" width="9.52" height="5.98" fill="#000080"/>
<rect x="420.68" y="128.6" width="9.52" height="5.98" fill="#000080"/>
<rect x="420.68" y="134.08" width="9.52" height="5.98" fill="#000080"/>
<rect x="420.68" y="139.56" width="9.52" height="5.98" fill="#000080"/>
<rect x="420.68" y="145.04" width="9.52" height="5.98" fill="#00009e"/>
<rect x="420.68" y="150.52" width="9.52" height="5.98" fill="#0000b3"/>
<rect x="420.68" y="156" width="9.52" height="5.98" fill="#0000f4"/>
<rect x="420.68" y="161.48" width="9.52" height="5.98" fill="#002bff"/>
<rect x="420.68" y="166.96" width="9.52" height="5.98" fill="#0036ff"/>
<rect x="420.68" y="172.44" width="9.52" height="5.98" fill="#001bff"/>
<rect x="420.68" y="177.92" width="9.52" height="5.98" fill="#0000da"/>
<rect x="420.68" y="183.4" width="9.52" height="5.98" fill="#0000a6"/>
<rect x="420.68" y="188.88" width="9.52" height="5.98" fill="#000094"/>
<rect x="420.68" y="194.36" width="9.52" height="5.98" fill="#000080"/>
<rect x="420.68" y="199.84" width="9.52" height="5.98" fill="#000080"/>
<rect x="420.68" y="205.32" width="9.52" height="5.98" fill="#000080"/>
<rect x="429.7" y="128.6" width="9.52" height="5.98" fill="#000080"/>
<rect x="429.7" y="134.08" width="9.52" height="5.98" fill="#000080"/>
<rect x="429.7" y="139.56" width="9.52" height="5.98" fill="#000080"/>
<rect x="429.7" y="145.04" width="9.52" height="5.98" fill="#000080"/>
<rect x="429.7" y="150.52" width="9.52" height="5.98" fill="#000080"/>
<rect x="429.7" y="156" width="9.52" height="5.98" fill="#000080"/>
<rect x="429.7" y="161.48" width="9.52" height="5.98" fill="#00008f"/>
<rect x="429.7" y="166.96" width="9.52" height="5.98" fill="#00008f"/>
<rect x="429.7" y="172.44" width="9.52" height="5.98" fill="#00008f"/>
<rect x="429.7" y="177.92" width="9.52" height="5.98" fill="#00008a"/>
<rect x="429.7" y="183.4" width="9.52" height="5.98" fill="#000080"/>
<rect x="429.7" y="188.88" width="9.52" height="5.98" fill="#000080"/>
<rect x="429.7" y="194.36" width="9.52" height="5.98" fill="#000080"/>
<rect x="429.7" y="199.84" width="9.52" height="5.98" fill="#000080"/>
<rect x="429.7" y="205.32" width="9.52" height="5.98" fill="#000080"/>
<rect x="438.72" y="128.6" width="9.52" height="5.98" fill="#000080"/>
<rect x="438.72" y="134.08" width="9.52" height="5.98" fill="#000080"/>
<rect x="438.72" y="139.56" width="9.52" height="5.98" fill="#000080"/>
<rect x="438.72" y="145.04" width="9.52" height="5.98" fill="#000080"/>
<rect x="438.72" y="150.52" width="9.52" height="5.98" fill="#000080"/>
<rect x="438.72" y="156" width="9.52" height="5.98" fill="#000080"/>
<rect x="438.72" y="161.48" width="9.52" height="5.98" fill="#000080"/>
<rect x="438.72" y="166.96" width="9.52" height="5.98" fill="#000080"/>
<rect x="438.72" y="172.44" width="9.52" height="5.98" fill="#000080"/>
<rect x="438.72" y="177.92" width="9.52" height="5.98" fill="#000080"/>
<rect x="438.72" y="183.4" width="9.52" height="5.98" fill="#000080"/>
<rect x="438.72" y="188.88" width="9.52" height="5.98" fill="#000080"/>
<rect x="438.72" y="194.36" width="9.52" height="5.98" fill="#000080"/>
<rect x="438.72" y="199.84" width="9.52" height="5.98" fill="#000080"/>
<rect x="438.72" y="205.32" width="9.52" height="5.98" fill="#000080"/>
<rect x="447.74" y="128.6" width="9.52" height="5.98" fill="#000080"/>
<rect x="447.74" y="134.08" width="9.52" height="5.98" fill="#000080"/>
<rect x="447.74" y="139.56" width="9.52" height="5.98" fill="#00008c"/>
<rect x="447.74" y="145.04" width="9.52" height="5.98" fill="#0000a6"/>
<rect x="447.74" y="150.52" width="9.52" height="5.98" fill="#0000c0"/>
<rect x="447.74" y="156" width="9.52" height="5.98" fill="#000dff"/>
<rect x="447.74" y="161.48" width="9.52" height="5.98" fill="#0020ff"/>
<rect x="447.74" y="166.96" width="9.52" height="5.98" fill="#0020ff"/>
<rect x="447.74" y="172.44" width="9.52" height="5.98" fill="#0000ff"/>
<rect x="447.74" y="177.92" width="9.52" height="5.98" fill="#0000ae"/>
<rect x="447.74" y="183.4" width="9.52" height="5.98" fill="#00008f"/>
<rect x="447.74" y="188.88" width="9.52" height="5.98" fill="#000080"/>
<rect x="447.74" y="194.36" width="9.52" height="5.98" fill="#000080"/>
<rect x="447.74" y="199.84" width="9.52" height="5.98" fill="#000080"/>
<rect x="447.74" y="205.32" width="9.52" height="5.98" fill="#000080"/>
<rect x="456.76" y="128.6" width="9.52" height="5.98" fill="#000080"/>
<rect x="456.76" y="134.08" width="9.52" height="5.98" fill="#000080"/>
<rect x="456.76" y="139.56" width="9.52" height="5.98" fill="#000080"/>
<rect x="456.76" y="145.04" width="9.52" height="5.98" fill="#000080"/>
<rect x="456.76" y="150.52" width="9.52" height="5.98" fill="#000080"/>
<rect x="456.76" y="156" width="9.52" height="5.98" fill="#000080"/>
<rect x="456.76" y="161.48" width="9.52" height="5.98" fill="#000080"/>
<rect x="456.76" y="166.96" width="9.52" height="5.98" fill="#000080"/>
<rect x="456.76" y="172.44" width="9.52" height="5.98" fill="#000080"/>
<rect x="456.76" y="177.92" width="9.52" height="5.98" fill="#000080"/>
<rect x="456.76" y="183.4" width="9.52" height="5.98" fill="#000080"/>
<rect x="456.76" y="188.88" width="9.52" height="5.98" fill="#000080"/>
<rect x="456.76" y="194.36" width="9.52" height="5.98" fill="#000080"/>
<rect x="456.76" y="199.84" width="9.52" height="5.98" fill="#000080"/>
<rect x="456.76" y="205.32" width="9.52" height="5.98" fill="#000080"/>
<rect x="465.78" y="128.6" width="9.52" height="5.98" fill="#000080"/>
<rect x="465.78" y="134.08" width="9.52" height="5.98" fill="#000080"/>
<rect x="465.78" y="139.56" width="9.52" height="5.98" fill="#000080"/>
<rect x="465.78" y="145.04" width="9.52" height="5.98" fill="#000080"/>
<rect x="465.78" y="150.52" width="9.52" height="5.98" fill="#000080"/>
<rect x="465.78" y="156" width="9.52" height="5.98" fill="#00009e"/>
<rect x="465.78" y="161.48" width="9.52" height="5.98" fill="#00009e"/>
<rect x="465.78" y="166.96" width="9.52" height="5.98" fill="#000080"/>
<rect x="465.78" y="172.44" width="9.52" height="5.98" fill="#000080"/>
<rect x="465.78" y="177.92" width="9.52" height="5.98" fill="#000080"/>
<rect x="465.78" y="183.4" width="9.52" height="5.98" fill="#000080"/>
<rect x="465.78" y="188.88" width="9.52" height="5.98" fill="#000080"/>
<rect x="465.78" y="194.36" width="9.52" height="5.98" fill="#000080"/>
<rect x="465.78" y="199.84" width="9.52" height="5.98" fill="#000080"/>
<rect x="465.78" y="205.32" width="9.52" height="5.98" fill="#000080"/>
</g>
<rect x="384.6" y="128.6" width="90.2" height="82.2" fill="none" stroke="#444" stroke-width="0.35"/>
<line x1="396.32" y1="210.8" x2="396.32" y2="212.1" stroke="#444" stroke-width="0.45"/>
<text transform="translate(396.32 214.5) scale(0.1)" font-size="27" text-anchor="middle" fill="#000" stroke="#000" stroke-width="0.5">500</text>
<line x1="407.54" y1="210.8" x2="407.54" y2="212.1" stroke="#444" stroke-width="0.45"/>
<text transform="translate(407.54 214.5) scale(0.1)" font-size="27" text-anchor="middle" fill="#000" stroke="#000" stroke-width="0.5">1000</text>
<line x1="418.76" y1="210.8" x2="418.76" y2="212.1" stroke="#444" stroke-width="0.45"/>
<text transform="translate(418.76 214.5) scale(0.1)" font-size="27" text-anchor="middle" fill="#000" stroke="#000" stroke-width="0.5">1500</text>
<line x1="429.98" y1="210.8" x2="429.98" y2="212.1" stroke="#444" stroke-width="0.45"/>
<text transform="translate(429.98 214.5) scale(0.1)" font-size="27" text-anchor="middle" fill="#000" stroke="#000" stroke-width="0.5">2000</text>
<line x1="441.2" y1="210.8" x2="441.2" y2="212.1" stroke="#444" stroke-width="0.45"/>
<text transform="translate(441.2 214.5) scale(0.1)" font-size="27" text-anchor="middle" fill="#000" stroke="#000" stroke-width="0.5">2500</text>
<line x1="452.42" y1="210.8" x2="452.42" y2="212.1" stroke="#444" stroke-width="0.45"/>
<text transform="translate(452.42 214.5) scale(0.1)" font-size="27" text-anchor="middle" fill="#000" stroke="#000" stroke-width="0.5">3000</text>
<line x1="463.64" y1="210.8" x2="463.64" y2="212.1" stroke="#444" stroke-width="0.45"/>
<text transform="translate(463.64 214.5) scale(0.1)" font-size="27" text-anchor="middle" fill="#000" stroke="#000" stroke-width="0.5">3500</text>
<line x1="474.86" y1="210.8" x2="474.86" y2="212.1" stroke="#444" stroke-width="0.45"/>
<text transform="translate(474.86 214.5) scale(0.1)" font-size="27" text-anchor="middle" fill="#000" stroke="#000" stroke-width="0.5">4000</text>
<line x1="383.3" y1="210.8" x2="384.6" y2="210.8" stroke="#444" stroke-width="0.45"/>
<text transform="translate(382.3 211.77) scale(0.1)" font-size="27" text-anchor="end" fill="#000" stroke="#000" stroke-width="0.5">−0.3</text>
<line x1="383.3" y1="199.84" x2="384.6" y2="199.84" stroke="#444" stroke-width="0.45"/>
<text transform="translate(382.3 200.81) scale(0.1)" font-size="27" text-anchor="end" fill="#000" stroke="#000" stroke-width="0.5">−0.2</text>
<line x1="383.3" y1="188.88" x2="384.6" y2="188.88" stroke="#444" stroke-width="0.45"/>
<text transform="translate(382.3 189.85) scale(0.1)" font-size="27" text-anchor="end" fill="#000" stroke="#000" stroke-width="0.5">−0.1</text>
<line x1="383.3" y1="177.92" x2="384.6" y2="177.92" stroke="#444" stroke-width="0.45"/>
<text transform="translate(382.3 178.89) scale(0.1)" font-size="27" text-anchor="end" fill="#000" stroke="#000" stroke-width="0.5">0.0</text>
<line x1="383.3" y1="166.96" x2="384.6" y2="166.96" stroke="#444" stroke-width="0.45"/>
<text transform="translate(382.3 167.93) scale(0.1)" font-size="27" text-anchor="end" fill="#000" stroke="#000" stroke-width="0.5">0.1</text>
<line x1="383.3" y1="156" x2="384.6" y2="156" stroke="#444" stroke-width="0.45"/>
<text transform="translate(382.3 156.97) scale(0.1)" font-size="27" text-anchor="end" fill="#000" stroke="#000" stroke-width="0.5">0.2</text>
<line x1="383.3" y1="145.04" x2="384.6" y2="145.04" stroke="#444" stroke-width="0.45"/>
<text transform="translate(382.3 146.01) scale(0.1)" font-size="27" text-anchor="end" fill="#000" stroke="#000" stroke-width="0.5">0.3</text>
<line x1="383.3" y1="134.08" x2="384.6" y2="134.08" stroke="#444" stroke-width="0.45"/>
<text transform="translate(382.3 135.05) scale(0.1)" font-size="27" text-anchor="end" fill="#000" stroke="#000" stroke-width="0.5">0.4</text>
<text transform="translate(429.7 127.1) scale(0.1)" font-size="34.3" text-anchor="middle" fill="#000" textLength="600" lengthAdjust="spacingAndGlyphs" stroke="#000" stroke-width="0.5">Change in Calcium value after repletion</text>
<text transform="translate(429.7 218.1) scale(0.1)" font-size="27.5" text-anchor="middle" fill="#000" stroke="#000" stroke-width="0.5">Performed dose</text>
<text transform="translate(374.8 169.7) rotate(-90) scale(0.1)" font-size="28" text-anchor="middle" fill="#000" stroke="#000" stroke-width="0.5">Change in Calcium value</text>
<rect x="480.4" y="128.6" width="4" height="82.2" fill="url(#jet)" stroke="#444" stroke-width="0.35"/>
<line x1="484.4" y1="210.8" x2="485.6" y2="210.8" stroke="#444" stroke-width="0.45"/>
<text transform="translate(486.4 211.8) scale(0.1)" font-size="27" text-anchor="start" fill="#000" stroke="#000" stroke-width="0.5">0</text>
<line x1="484.4" y1="201.65" x2="485.6" y2="201.65" stroke="#444" stroke-width="0.45"/>
<text transform="translate(486.4 202.65) scale(0.1)" font-size="27" text-anchor="start" fill="#000" stroke="#000" stroke-width="0.5">50</text>
<line x1="484.4" y1="192.49" x2="485.6" y2="192.49" stroke="#444" stroke-width="0.45"/>
<text transform="translate(486.4 193.49) scale(0.1)" font-size="27" text-anchor="start" fill="#000" stroke="#000" stroke-width="0.5">100</text>
<line x1="484.4" y1="183.34" x2="485.6" y2="183.34" stroke="#444" stroke-width="0.45"/>
<text transform="translate(486.4 184.34) scale(0.1)" font-size="27" text-anchor="start" fill="#000" stroke="#000" stroke-width="0.5">150</text>
<line x1="484.4" y1="174.19" x2="485.6" y2="174.19" stroke="#444" stroke-width="0.45"/>
<text transform="translate(486.4 175.19) scale(0.1)" font-size="27" text-anchor="start" fill="#000" stroke="#000" stroke-width="0.5">200</text>
<line x1="484.4" y1="165.03" x2="485.6" y2="165.03" stroke="#444" stroke-width="0.45"/>
<text transform="translate(486.4 166.03) scale(0.1)" font-size="27" text-anchor="start" fill="#000" stroke="#000" stroke-width="0.5">250</text>
<line x1="484.4" y1="155.88" x2="485.6" y2="155.88" stroke="#444" stroke-width="0.45"/>
<text transform="translate(486.4 156.88) scale(0.1)" font-size="27" text-anchor="start" fill="#000" stroke="#000" stroke-width="0.5">300</text>
<line x1="484.4" y1="146.72" x2="485.6" y2="146.72" stroke="#444" stroke-width="0.45"/>
<text transform="translate(486.4 147.72) scale(0.1)" font-size="27" text-anchor="start" fill="#000" stroke="#000" stroke-width="0.5">350</text>
<line x1="484.4" y1="137.57" x2="485.6" y2="137.57" stroke="#444" stroke-width="0.45"/>
<text transform="translate(486.4 138.57) scale(0.1)" font-size="27" text-anchor="start" fill="#000" stroke="#000" stroke-width="0.5">400</text>
<text transform="translate(494.1 169.7) rotate(-90) scale(0.1)" font-size="29" text-anchor="middle" fill="#000" stroke="#000" stroke-width="0.5">Number of repletions</text>
<clipPath id="h553"><rect x="553.6" y="128.6" width="90.2" height="82.2"/></clipPath><g clip-path="url(#h553)">
<rect x="553.6" y="128.6" width="90.2" height="82.2" fill="#000080"/>
<rect x="553.6" y="128.41" width="11.77" height="2.37" fill="#0000c8"/>
<rect x="553.6" y="130.29" width="11.77" height="2.37" fill="#0000d0"/>
<rect x="553.6" y="132.16" width="11.77" height="2.37" fill="#0000d4"/>
<rect x="553.6" y="134.03" width="11.77" height="2.37" fill="#0000e5"/>
<rect x="553.6" y="135.9" width="11.77" height="2.37" fill="#0000ed"/>
<rect x="553.6" y="137.77" width="11.77" height="2.37" fill="#0000f3"/>
<rect x="553.6" y="139.65" width="11.77" height="2.37" fill="#0000ff"/>
<rect x="553.6" y="141.52" width="11.77" height="2.37" fill="#000cff"/>
<rect x="553.6" y="143.39" width="11.77" height="2.37" fill="#0021ff"/>
<rect x="553.6" y="145.26" width="11.77" height="2.37" fill="#0060ff"/>
<rect x="553.6" y="147.14" width="11.77" height="2.37" fill="#00a2ff"/>
<rect x="553.6" y="149.01" width="11.77" height="2.37" fill="#00e0fb"/>
<rect x="553.6" y="150.88" width="11.77" height="2.37" fill="#51ffa6"/>
<rect x="553.6" y="152.75" width="11.77" height="2.37" fill="#70ff87"/>
<rect x="553.6" y="154.63" width="11.77" height="2.37" fill="#79ff7d"/>
<rect x="553.6" y="156.5" width="11.77" height="2.37" fill="#cdff2a"/>
<rect x="553.6" y="158.37" width="11.77" height="2.37" fill="#ffeb00"/>
<rect x="553.6" y="160.24" width="11.77" height="2.37" fill="#ffd000"/>
<rect x="553.6" y="162.12" width="11.77" height="2.37" fill="#ff6e00"/>
<rect x="553.6" y="163.99" width="11.77" height="2.37" fill="#ff4d00"/>
<rect x="553.6" y="165.86" width="11.77" height="2.37" fill="#ff2d00"/>
<rect x="553.6" y="167.73" width="11.77" height="2.37" fill="#800000"/>
<rect x="553.6" y="169.61" width="11.77" height="2.37" fill="#970000"/>
<rect x="553.6" y="171.48" width="11.77" height="2.37" fill="#ff5900"/>
<rect x="553.6" y="173.35" width="11.77" height="2.37" fill="#ffa900"/>
<rect x="553.6" y="175.22" width="11.77" height="2.37" fill="#b9ff3e"/>
<rect x="553.6" y="177.1" width="11.77" height="2.37" fill="#3bffbc"/>
<rect x="553.6" y="178.97" width="11.77" height="2.37" fill="#04ebf2"/>
<rect x="553.6" y="180.84" width="11.77" height="2.37" fill="#0086ff"/>
<rect x="553.6" y="182.71" width="11.77" height="2.37" fill="#0038ff"/>
<rect x="553.6" y="184.59" width="11.77" height="2.37" fill="#0027ff"/>
<rect x="553.6" y="186.46" width="11.77" height="2.37" fill="#0025ff"/>
<rect x="553.6" y="188.33" width="11.77" height="2.37" fill="#0011ff"/>
<rect x="553.6" y="190.2" width="11.77" height="2.37" fill="#0000ff"/>
<rect x="553.6" y="192.08" width="11.77" height="2.37" fill="#0000ee"/>
<rect x="553.6" y="193.95" width="11.77" height="2.37" fill="#0000de"/>
<rect x="553.6" y="195.82" width="11.77" height="2.37" fill="#0000da"/>
<rect x="553.6" y="197.69" width="11.77" height="2.37" fill="#0000ca"/>
<rect x="553.6" y="199.57" width="11.77" height="2.37" fill="#0000bb"/>
<rect x="553.6" y="201.44" width="11.77" height="2.37" fill="#0000b6"/>
<rect x="553.6" y="203.31" width="11.77" height="2.37" fill="#0000ae"/>
<rect x="553.6" y="205.18" width="11.77" height="2.37" fill="#0000a5"/>
<rect x="553.6" y="207.06" width="11.77" height="2.37" fill="#0000a2"/>
<rect x="553.6" y="208.93" width="11.77" height="2.37" fill="#00009a"/>
<rect x="564.88" y="128.41" width="11.77" height="2.37" fill="#0000b6"/>
<rect x="564.88" y="130.29" width="11.77" height="2.37" fill="#0000c4"/>
<rect x="564.88" y="132.16" width="11.77" height="2.37" fill="#0000c3"/>
<rect x="564.88" y="134.03" width="11.77" height="2.37" fill="#0000ce"/>
<rect x="564.88" y="135.9" width="11.77" height="2.37" fill="#0000df"/>
<rect x="564.88" y="137.77" width="11.77" height="2.37" fill="#0000dd"/>
<rect x="564.88" y="139.65" width="11.77" height="2.37" fill="#0000ed"/>
<rect x="564.88" y="141.52" width="11.77" height="2.37" fill="#0000ff"/>
<rect x="564.88" y="143.39" width="11.77" height="2.37" fill="#0000ff"/>
<rect x="564.88" y="145.26" width="11.77" height="2.37" fill="#000fff"/>
<rect x="564.88" y="147.14" width="11.77" height="2.37" fill="#0038ff"/>
<rect x="564.88" y="149.01" width="11.77" height="2.37" fill="#005dff"/>
<rect x="564.88" y="150.88" width="11.77" height="2.37" fill="#00c5ff"/>
<rect x="564.88" y="152.75" width="11.77" height="2.37" fill="#31ffc6"/>
<rect x="564.88" y="154.63" width="11.77" height="2.37" fill="#1dffda"/>
<rect x="564.88" y="156.5" width="11.77" height="2.37" fill="#38ffbf"/>
<rect x="564.88" y="158.37" width="11.77" height="2.37" fill="#66ff91"/>
<rect x="564.88" y="160.24" width="11.77" height="2.37" fill="#53ffa4"/>
<rect x="564.88" y="162.12" width="11.77" height="2.37" fill="#8aff6c"/>
<rect x="564.88" y="163.99" width="11.77" height="2.37" fill="#d0ff27"/>
<rect x="564.88" y="165.86" width="11.77" height="2.37" fill="#a0ff57"/>
<rect x="564.88" y="167.73" width="11.77" height="2.37" fill="#b4ff43"/>
<rect x="564.88" y="169.61" width="11.77" height="2.37" fill="#beff39"/>
<rect x="564.88" y="171.48" width="11.77" height="2.37" fill="#52ffa5"/>
<rect x="564.88" y="173.35" width="11.77" height="2.37" fill="#31ffc6"/>
<rect x="564.88" y="175.22" width="11.77" height="2.37" fill="#27ffcf"/>
<rect x="564.88" y="177.1" width="11.77" height="2.37" fill="#009fff"/>
<rect x="564.88" y="178.97" width="11.77" height="2.37" fill="#0057ff"/>
<rect x="564.88" y="180.84" width="11.77" height="2.37" fill="#0030ff"/>
<rect x="564.88" y="182.71" width="11.77" height="2.37" fill="#0000ff"/>
<rect x="564.88" y="184.59" width="11.77" height="2.37" fill="#0000ff"/>
<rect x="564.88" y="186.46" width="11.77" height="2.37" fill="#0000ff"/>
<rect x="564.88" y="188.33" width="11.77" height="2.37" fill="#0000e6"/>
<rect x="564.88" y="190.2" width="11.77" height="2.37" fill="#0000e2"/>
<rect x="564.88" y="192.08" width="11.77" height="2.37" fill="#0000de"/>
<rect x="564.88" y="193.95" width="11.77" height="2.37" fill="#0000c9"/>
<rect x="564.88" y="195.82" width="11.77" height="2.37" fill="#0000c5"/>
<rect x="564.88" y="197.69" width="11.77" height="2.37" fill="#0000c0"/>
<rect x="564.88" y="199.57" width="11.77" height="2.37" fill="#0000af"/>
<rect x="564.88" y="201.44" width="11.77" height="2.37" fill="#0000ac"/>
<rect x="564.88" y="203.31" width="11.77" height="2.37" fill="#0000aa"/>
<rect x="564.88" y="205.18" width="11.77" height="2.37" fill="#0000a0"/>
<rect x="564.88" y="207.06" width="11.77" height="2.37" fill="#00009e"/>
<rect x="564.88" y="208.93" width="11.77" height="2.37" fill="#00009b"/>
<rect x="576.15" y="128.41" width="11.77" height="2.37" fill="#0000b2"/>
<rect x="576.15" y="130.29" width="11.77" height="2.37" fill="#0000c4"/>
<rect x="576.15" y="132.16" width="11.77" height="2.37" fill="#0000c7"/>
<rect x="576.15" y="134.03" width="11.77" height="2.37" fill="#0000c5"/>
<rect x="576.15" y="135.9" width="11.77" height="2.37" fill="#0000db"/>
<rect x="576.15" y="137.77" width="11.77" height="2.37" fill="#0000dc"/>
<rect x="576.15" y="139.65" width="11.77" height="2.37" fill="#0000d8"/>
<rect x="576.15" y="141.52" width="11.77" height="2.37" fill="#0000f3"/>
<rect x="576.15" y="143.39" width="11.77" height="2.37" fill="#0000f2"/>
<rect x="576.15" y="145.26" width="11.77" height="2.37" fill="#0000f1"/>
<rect x="576.15" y="147.14" width="11.77" height="2.37" fill="#000dff"/>
<rect x="576.15" y="149.01" width="11.77" height="2.37" fill="#0015ff"/>
<rect x="576.15" y="150.88" width="11.77" height="2.37" fill="#001cff"/>
<rect x="576.15" y="152.75" width="11.77" height="2.37" fill="#0063ff"/>
<rect x="576.15" y="154.63" width="11.77" height="2.37" fill="#0078ff"/>
<rect x="576.15" y="156.5" width="11.77" height="2.37" fill="#0067ff"/>
<rect x="576.15" y="158.37" width="11.77" height="2.37" fill="#0091ff"/>
<rect x="576.15" y="160.24" width="11.77" height="2.37" fill="#0082ff"/>
<rect x="576.15" y="162.12" width="11.77" height="2.37" fill="#006eff"/>
<rect x="576.15" y="163.99" width="11.77" height="2.37" fill="#00a4ff"/>
<rect x="576.15" y="165.86" width="11.77" height="2.37" fill="#008cff"/>
<rect x="576.15" y="167.73" width="11.77" height="2.37" fill="#006cff"/>
<rect x="576.15" y="169.61" width="11.77" height="2.37" fill="#0093ff"/>
<rect x="576.15" y="171.48" width="11.77" height="2.37" fill="#008bff"/>
<rect x="576.15" y="173.35" width="11.77" height="2.37" fill="#005fff"/>
<rect x="576.15" y="175.22" width="11.77" height="2.37" fill="#004aff"/>
<rect x="576.15" y="177.1" width="11.77" height="2.37" fill="#0018ff"/>
<rect x="576.15" y="178.97" width="11.77" height="2.37" fill="#0000ff"/>
<rect x="576.15" y="180.84" width="11.77" height="2.37" fill="#0000ff"/>
<rect x="576.15" y="182.71" width="11.77" height="2.37" fill="#0000ed"/>
<rect x="576.15" y="184.59" width="11.77" height="2.37" fill="#0000d7"/>
<rect x="576.15" y="186.46" width="11.77" height="2.37" fill="#0000dd"/>
<rect x="576.15" y="188.33" width="11.77" height="2.37" fill="#0000c9"/>
<rect x="576.15" y="190.2" width="11.77" height="2.37" fill="#0000b7"/>
<rect x="576.15" y="192.08" width="11.77" height="2.37" fill="#0000bb"/>
<rect x="576.15" y="193.95" width="11.77" height="2.37" fill="#0000b1"/>
<rect x="576.15" y="195.82" width="11.77" height="2.37" fill="#0000aa"/>
<rect x="576.15" y="197.69" width="11.77" height="2.37" fill="#0000af"/>
<rect x="576.15" y="199.57" width="11.77" height="2.37" fill="#0000a6"/>
<rect x="576.15" y="201.44" width="11.77" height="2.37" fill="#0000a0"/>
<rect x="576.15" y="203.31" width="11.77" height="2.37" fill="#0000a2"/>
<rect x="576.15" y="205.18" width="11.77" height="2.37" fill="#00009b"/>
<rect x="576.15" y="207.06" width="11.77" height="2.37" fill="#000096"/>
<rect x="576.15" y="208.93" width="11.77" height="2.37" fill="#000096"/>
<rect x="587.42" y="128.41" width="11.77" height="2.37" fill="#0000a9"/>
<rect x="587.42" y="130.29" width="11.77" height="2.37" fill="#0000b4"/>
<rect x="587.42" y="132.16" width="11.77" height="2.37" fill="#0000c3"/>
<rect x="587.42" y="134.03" width="11.77" height="2.37" fill="#0000ba"/>
<rect x="587.42" y="135.9" width="11.77" height="2.37" fill="#0000c8"/>
<rect x="587.42" y="137.77" width="11.77" height="2.37" fill="#0000d9"/>
<rect x="587.42" y="139.65" width="11.77" height="2.37" fill="#0000cb"/>
<rect x="587.42" y="141.52" width="11.77" height="2.37" fill="#0000db"/>
<rect x="587.42" y="143.39" width="11.77" height="2.37" fill="#0000ef"/>
<rect x="587.42" y="145.26" width="11.77" height="2.37" fill="#0000e1"/>
<rect x="587.42" y="147.14" width="11.77" height="2.37" fill="#0000ff"/>
<rect x="587.42" y="149.01" width="11.77" height="2.37" fill="#0010ff"/>
<rect x="587.42" y="150.88" width="11.77" height="2.37" fill="#0002ff"/>
<rect x="587.42" y="152.75" width="11.77" height="2.37" fill="#002cff"/>
<rect x="587.42" y="154.63" width="11.77" height="2.37" fill="#005bff"/>
<rect x="587.42" y="156.5" width="11.77" height="2.37" fill="#007dff"/>
<rect x="587.42" y="158.37" width="11.77" height="2.37" fill="#003dff"/>
<rect x="587.42" y="160.24" width="11.77" height="2.37" fill="#0052ff"/>
<rect x="587.42" y="162.12" width="11.77" height="2.37" fill="#0023ff"/>
<rect x="587.42" y="163.99" width="11.77" height="2.37" fill="#0039ff"/>
<rect x="587.42" y="165.86" width="11.77" height="2.37" fill="#004fff"/>
<rect x="587.42" y="167.73" width="11.77" height="2.37" fill="#001eff"/>
<rect x="587.42" y="169.61" width="11.77" height="2.37" fill="#002aff"/>
<rect x="587.42" y="171.48" width="11.77" height="2.37" fill="#0030ff"/>
<rect x="587.42" y="173.35" width="11.77" height="2.37" fill="#0000ff"/>
<rect x="587.42" y="175.22" width="11.77" height="2.37" fill="#0000ff"/>
<rect x="587.42" y="177.1" width="11.77" height="2.37" fill="#0000ff"/>
<rect x="587.42" y="178.97" width="11.77" height="2.37" fill="#0000d3"/>
<rect x="587.42" y="180.84" width="11.77" height="2.37" fill="#0000d2"/>
<rect x="587.42" y="182.71" width="11.77" height="2.37" fill="#0000cf"/>
<rect x="587.42" y="184.59" width="11.77" height="2.37" fill="#0000b7"/>
<rect x="587.42" y="186.46" width="11.77" height="2.37" fill="#0000b8"/>
<rect x="587.42" y="188.33" width="11.77" height="2.37" fill="#0000b5"/>
<rect x="587.42" y="190.2" width="11.77" height="2.37" fill="#0000a3"/>
<rect x="587.42" y="192.08" width="11.77" height="2.37" fill="#0000a4"/>
<rect x="587.42" y="193.95" width="11.77" height="2.37" fill="#0000a5"/>
<rect x="587.42" y="195.82" width="11.77" height="2.37" fill="#00009b"/>
<rect x="587.42" y="197.69" width="11.77" height="2.37" fill="#00009d"/>
<rect x="587.42" y="199.57" width="11.77" height="2.37" fill="#00009d"/>
<rect x="587.42" y="201.44" width="11.77" height="2.37" fill="#000095"/>
<rect x="587.42" y="203.31" width="11.77" height="2.37" fill="#000096"/>
<rect x="587.42" y="205.18" width="11.77" height="2.37" fill="#000095"/>
<rect x="587.42" y="207.06" width="11.77" height="2.37" fill="#00008f"/>
<rect x="587.42" y="208.93" width="11.77" height="2.37" fill="#00008f"/>
<rect x="598.7" y="128.41" width="11.77" height="2.37" fill="#00008d"/>
<rect x="598.7" y="130.29" width="11.77" height="2.37" fill="#00008f"/>
<rect x="598.7" y="132.16" width="11.77" height="2.37" fill="#000090"/>
<rect x="598.7" y="134.03" width="11.77" height="2.37" fill="#000091"/>
<rect x="598.7" y="135.9" width="11.77" height="2.37" fill="#000092"/>
<rect x="598.7" y="137.77" width="11.77" height="2.37" fill="#000094"/>
<rect x="598.7" y="139.65" width="11.77" height="2.37" fill="#000095"/>
<rect x="598.7" y="141.52" width="11.77" height="2.37" fill="#000096"/>
<rect x="598.7" y="143.39" width="11.77" height="2.37" fill="#000097"/>
<rect x="598.7" y="145.26" width="11.77" height="2.37" fill="#000098"/>
<rect x="598.7" y="147.14" width="11.77" height="2.37" fill="#00009a"/>
<rect x="598.7" y="149.01" width="11.77" height="2.37" fill="#00009b"/>
<rect x="598.7" y="150.88" width="11.77" height="2.37" fill="#00009d"/>
<rect x="598.7" y="152.75" width="11.77" height="2.37" fill="#00009f"/>
<rect x="598.7" y="154.63" width="11.77" height="2.37" fill="#0000a2"/>
<rect x="598.7" y="156.5" width="11.77" height="2.37" fill="#0000a5"/>
<rect x="598.7" y="158.37" width="11.77" height="2.37" fill="#0000a7"/>
<rect x="598.7" y="160.24" width="11.77" height="2.37" fill="#0000aa"/>
<rect x="598.7" y="162.12" width="11.77" height="2.37" fill="#0000ad"/>
<rect x="598.7" y="163.99" width="11.77" height="2.37" fill="#0000ad"/>
<rect x="598.7" y="165.86" width="11.77" height="2.37" fill="#0000ab"/>
<rect x="598.7" y="167.73" width="11.77" height="2.37" fill="#0000a9"/>
<rect x="598.7" y="169.61" width="11.77" height="2.37" fill="#0000a8"/>
<rect x="598.7" y="171.48" width="11.77" height="2.37" fill="#0000a6"/>
<rect x="598.7" y="173.35" width="11.77" height="2.37" fill="#0000a3"/>
<rect x="598.7" y="175.22" width="11.77" height="2.37" fill="#00009f"/>
<rect x="598.7" y="177.1" width="11.77" height="2.37" fill="#00009b"/>
<rect x="598.7" y="178.97" width="11.77" height="2.37" fill="#000098"/>
<rect x="598.7" y="180.84" width="11.77" height="2.37" fill="#000094"/>
<rect x="598.7" y="182.71" width="11.77" height="2.37" fill="#000092"/>
<rect x="598.7" y="184.59" width="11.77" height="2.37" fill="#000091"/>
<rect x="598.7" y="186.46" width="11.77" height="2.37" fill="#000091"/>
<rect x="598.7" y="188.33" width="11.77" height="2.37" fill="#000090"/>
<rect x="598.7" y="190.2" width="11.77" height="2.37" fill="#00008f"/>
<rect x="598.7" y="192.08" width="11.77" height="2.37" fill="#00008f"/>
<rect x="598.7" y="193.95" width="11.77" height="2.37" fill="#00008e"/>
<rect x="598.7" y="195.82" width="11.77" height="2.37" fill="#00008d"/>
<rect x="598.7" y="197.69" width="11.77" height="2.37" fill="#00008d"/>
<rect x="598.7" y="199.57" width="11.77" height="2.37" fill="#00008c"/>
<rect x="598.7" y="201.44" width="11.77" height="2.37" fill="#00008c"/>
<rect x="598.7" y="203.31" width="11.77" height="2.37" fill="#00008b"/>
<rect x="598.7" y="205.18" width="11.77" height="2.37" fill="#00008a"/>
<rect x="598.7" y="207.06" width="11.77" height="2.37" fill="#00008a"/>
<rect x="598.7" y="208.93" width="11.77" height="2.37" fill="#000089"/>
<rect x="609.98" y="128.41" width="11.77" height="2.37" fill="#000089"/>
<rect x="609.98" y="130.29" width="11.77" height="2.37" fill="#00008a"/>
<rect x="609.98" y="132.16" width="11.77" height="2.37" fill="#00008b"/>
<rect x="609.98" y="134.03" width="11.77" height="2.37" fill="#00008c"/>
<rect x="609.98" y="135.9" width="11.77" height="2.37" fill="#00008d"/>
<rect x="609.98" y="137.77" width="11.77" height="2.37" fill="#00008e"/>
<rect x="609.98" y="139.65" width="11.77" height="2.37" fill="#00008f"/>
<rect x="609.98" y="141.52" width="11.77" height="2.37" fill="#000090"/>
<rect x="609.98" y="143.39" width="11.77" height="2.37" fill="#000091"/>
<rect x="609.98" y="145.26" width="11.77" height="2.37" fill="#000092"/>
<rect x="609.98" y="147.14" width="11.77" height="2.37" fill="#000093"/>
<rect x="609.98" y="149.01" width="11.77" height="2.37" fill="#000094"/>
<rect x="609.98" y="150.88" width="11.77" height="2.37" fill="#000095"/>
<rect x="609.98" y="152.75" width="11.77" height="2.37" fill="#000096"/>
<rect x="609.98" y="154.63" width="11.77" height="2.37" fill="#000097"/>
<rect x="609.98" y="156.5" width="11.77" height="2.37" fill="#000099"/>
<rect x="609.98" y="158.37" width="11.77" height="2.37" fill="#00009a"/>
<rect x="609.98" y="160.24" width="11.77" height="2.37" fill="#00009b"/>
<rect x="609.98" y="162.12" width="11.77" height="2.37" fill="#00009d"/>
<rect x="609.98" y="163.99" width="11.77" height="2.37" fill="#00009e"/>
<rect x="609.98" y="165.86" width="11.77" height="2.37" fill="#00009f"/>
<rect x="609.98" y="167.73" width="11.77" height="2.37" fill="#00009f"/>
<rect x="609.98" y="169.61" width="11.77" height="2.37" fill="#00009d"/>
<rect x="609.98" y="171.48" width="11.77" height="2.37" fill="#00009a"/>
<rect x="609.98" y="173.35" width="11.77" height="2.37" fill="#000098"/>
<rect x="609.98" y="175.22" width="11.77" height="2.37" fill="#000096"/>
<rect x="609.98" y="177.1" width="11.77" height="2.37" fill="#000093"/>
<rect x="609.98" y="178.97" width="11.77" height="2.37" fill="#000091"/>
<rect x="609.98" y="180.84" width="11.77" height="2.37" fill="#00008f"/>
<rect x="609.98" y="182.71" width="11.77" height="2.37" fill="#00008d"/>
<rect x="609.98" y="184.59" width="11.77" height="2.37" fill="#00008d"/>
<rect x="609.98" y="186.46" width="11.77" height="2.37" fill="#00008c"/>
<rect x="609.98" y="188.33" width="11.77" height="2.37" fill="#00008b"/>
<rect x="609.98" y="190.2" width="11.77" height="2.37" fill="#00008b"/>
<rect x="609.98" y="192.08" width="11.77" height="2.37" fill="#00008a"/>
<rect x="609.98" y="193.95" width="11.77" height="2.37" fill="#000089"/>
<rect x="609.98" y="195.82" width="11.77" height="2.37" fill="#000089"/>
<rect x="609.98" y="197.69" width="11.77" height="2.37" fill="#000088"/>
<rect x="609.98" y="199.57" width="11.77" height="2.37" fill="#000088"/>
<rect x="609.98" y="201.44" width="11.77" height="2.37" fill="#000087"/>
<rect x="609.98" y="203.31" width="11.77" height="2.37" fill="#000086"/>
<rect x="609.98" y="205.18" width="11.77" height="2.37" fill="#000086"/>
<rect x="609.98" y="207.06" width="11.77" height="2.37" fill="#000085"/>
<rect x="609.98" y="208.93" width="11.77" height="2.37" fill="#000084"/>
<rect x="621.25" y="128.41" width="11.77" height="2.37" fill="#000089"/>
<rect x="621.25" y="130.29" width="11.77" height="2.37" fill="#000089"/>
<rect x="621.25" y="132.16" width="11.77" height="2.37" fill="#00008a"/>
<rect x="621.25" y="134.03" width="11.77" height="2.37" fill="#00008a"/>
<rect x="621.25" y="135.9" width="11.77" height="2.37" fill="#00008b"/>
<rect x="621.25" y="137.77" width="11.77" height="2.37" fill="#00008b"/>
<rect x="621.25" y="139.65" width="11.77" height="2.37" fill="#00008c"/>
<rect x="621.25" y="141.52" width="11.77" height="2.37" fill="#00008c"/>
<rect x="621.25" y="143.39" width="11.77" height="2.37" fill="#00008d"/>
<rect x="621.25" y="145.26" width="11.77" height="2.37" fill="#00008d"/>
<rect x="621.25" y="147.14" width="11.77" height="2.37" fill="#00008e"/>
<rect x="621.25" y="149.01" width="11.77" height="2.37" fill="#00008e"/>
<rect x="621.25" y="150.88" width="11.77" height="2.37" fill="#00008f"/>
<rect x="621.25" y="152.75" width="11.77" height="2.37" fill="#00008f"/>
<rect x="621.25" y="154.63" width="11.77" height="2.37" fill="#000090"/>
<rect x="621.25" y="156.5" width="11.77" height="2.37" fill="#000090"/>
<rect x="621.25" y="158.37" width="11.77" height="2.37" fill="#000091"/>
<rect x="621.25" y="160.24" width="11.77" height="2.37" fill="#000091"/>
<rect x="621.25" y="162.12" width="11.77" height="2.37" fill="#000092"/>
<rect x="621.25" y="163.99" width="11.77" height="2.37" fill="#000092"/>
<rect x="621.25" y="165.86" width="11.77" height="2.37" fill="#000091"/>
<rect x="621.25" y="167.73" width="11.77" height="2.37" fill="#000091"/>
<rect x="621.25" y="169.61" width="11.77" height="2.37" fill="#000090"/>
<rect x="621.25" y="171.48" width="11.77" height="2.37" fill="#000090"/>
<rect x="621.25" y="173.35" width="11.77" height="2.37" fill="#00008f"/>
<rect x="621.25" y="175.22" width="11.77" height="2.37" fill="#00008e"/>
<rect x="621.25" y="177.1" width="11.77" height="2.37" fill="#00008e"/>
<rect x="621.25" y="178.97" width="11.77" height="2.37" fill="#00008d"/>
<rect x="621.25" y="180.84" width="11.77" height="2.37" fill="#00008d"/>
<rect x="621.25" y="182.71" width="11.77" height="2.37" fill="#00008c"/>
<rect x="621.25" y="184.59" width="11.77" height="2.37" fill="#00008c"/>
<rect x="621.25" y="186.46" width="11.77" height="2.37" fill="#00008b"/>
<rect x="621.25" y="188.33" width="11.77" height="2.37" fill="#00008b"/>
<rect x="621.25" y="190.2" width="11.77" height="2.37" fill="#00008a"/>
<rect x="621.25" y="192.08" width="11.77" height="2.37" fill="#000089"/>
<rect x="621.25" y="193.95" width="11.77" height="2.37" fill="#000089"/>
<rect x="621.25" y="195.82" width="11.77" height="2.37" fill="#000088"/>
<rect x="621.25" y="197.69" width="11.77" height="2.37" fill="#000088"/>
<rect x="621.25" y="199.57" width="11.77" height="2.37" fill="#000087"/>
<rect x="621.25" y="201.44" width="11.77" height="2.37" fill="#000087"/>
<rect x="621.25" y="203.31" width="11.77" height="2.37" fill="#000086"/>
<rect x="621.25" y="205.18" width="11.77" height="2.37" fill="#000086"/>
<rect x="621.25" y="207.06" width="11.77" height="2.37" fill="#000085"/>
<rect x="621.25" y="208.93" width="11.77" height="2.37" fill="#000084"/>
<rect x="632.52" y="128.41" width="11.77" height="2.37" fill="#000089"/>
<rect x="632.52" y="130.29" width="11.77" height="2.37" fill="#000089"/>
<rect x="632.52" y="132.16" width="11.77" height="2.37" fill="#00008a"/>
<rect x="632.52" y="134.03" width="11.77" height="2.37" fill="#00008a"/>
<rect x="632.52" y="135.9" width="11.77" height="2.37" fill="#00008b"/>
<rect x="632.52" y="137.77" width="11.77" height="2.37" fill="#00008b"/>
<rect x="632.52" y="139.65" width="11.77" height="2.37" fill="#00008c"/>
<rect x="632.52" y="141.52" width="11.77" height="2.37" fill="#00008c"/>
<rect x="632.52" y="143.39" width="11.77" height="2.37" fill="#00008d"/>
<rect x="632.52" y="145.26" width="11.77" height="2.37" fill="#00008d"/>
<rect x="632.52" y="147.14" width="11.77" height="2.37" fill="#00008e"/>
<rect x="632.52" y="149.01" width="11.77" height="2.37" fill="#00008e"/>
<rect x="632.52" y="150.88" width="11.77" height="2.37" fill="#00008f"/>
<rect x="632.52" y="152.75" width="11.77" height="2.37" fill="#00008f"/>
<rect x="632.52" y="154.63" width="11.77" height="2.37" fill="#000090"/>
<rect x="632.52" y="156.5" width="11.77" height="2.37" fill="#000090"/>
<rect x="632.52" y="158.37" width="11.77" height="2.37" fill="#000091"/>
<rect x="632.52" y="160.24" width="11.77" height="2.37" fill="#000091"/>
<rect x="632.52" y="162.12" width="11.77" height="2.37" fill="#000092"/>
<rect x="632.52" y="163.99" width="11.77" height="2.37" fill="#000092"/>
<rect x="632.52" y="165.86" width="11.77" height="2.37" fill="#000091"/>
<rect x="632.52" y="167.73" width="11.77" height="2.37" fill="#000091"/>
<rect x="632.52" y="169.61" width="11.77" height="2.37" fill="#000090"/>
<rect x="632.52" y="171.48" width="11.77" height="2.37" fill="#000090"/>
<rect x="632.52" y="173.35" width="11.77" height="2.37" fill="#00008f"/>
<rect x="632.52" y="175.22" width="11.77" height="2.37" fill="#00008e"/>
<rect x="632.52" y="177.1" width="11.77" height="2.37" fill="#00008e"/>
<rect x="632.52" y="178.97" width="11.77" height="2.37" fill="#00008d"/>
<rect x="632.52" y="180.84" width="11.77" height="2.37" fill="#00008d"/>
<rect x="632.52" y="182.71" width="11.77" height="2.37" fill="#00008c"/>
<rect x="632.52" y="184.59" width="11.77" height="2.37" fill="#00008c"/>
<rect x="632.52" y="186.46" width="11.77" height="2.37" fill="#00008b"/>
<rect x="632.52" y="188.33" width="11.77" height="2.37" fill="#00008b"/>
<rect x="632.52" y="190.2" width="11.77" height="2.37" fill="#00008a"/>
<rect x="632.52" y="192.08" width="11.77" height="2.37" fill="#000089"/>
<rect x="632.52" y="193.95" width="11.77" height="2.37" fill="#000089"/>
<rect x="632.52" y="195.82" width="11.77" height="2.37" fill="#000088"/>
<rect x="632.52" y="197.69" width="11.77" height="2.37" fill="#000088"/>
<rect x="632.52" y="199.57" width="11.77" height="2.37" fill="#000087"/>
<rect x="632.52" y="201.44" width="11.77" height="2.37" fill="#000087"/>
<rect x="632.52" y="203.31" width="11.77" height="2.37" fill="#000086"/>
<rect x="632.52" y="205.18" width="11.77" height="2.37" fill="#000086"/>
<rect x="632.52" y="207.06" width="11.77" height="2.37" fill="#000085"/>
<rect x="632.52" y="208.93" width="11.77" height="2.37" fill="#000084"/>
</g>
<rect x="553.6" y="128.6" width="90.2" height="82.2" fill="none" stroke="#444" stroke-width="0.35"/>
<line x1="566.97" y1="210.8" x2="566.97" y2="212.1" stroke="#444" stroke-width="0.45"/>
<text transform="translate(566.97 214.5) scale(0.1)" font-size="27" text-anchor="middle" fill="#000" stroke="#000" stroke-width="0.5">10</text>
<line x1="582.33" y1="210.8" x2="582.33" y2="212.1" stroke="#444" stroke-width="0.45"/>
<text transform="translate(582.33 214.5) scale(0.1)" font-size="27" text-anchor="middle" fill="#000" stroke="#000" stroke-width="0.5">20</text>
<line x1="597.7" y1="210.8" x2="597.7" y2="212.1" stroke="#444" stroke-width="0.45"/>
<text transform="translate(597.7 214.5) scale(0.1)" font-size="27" text-anchor="middle" fill="#000" stroke="#000" stroke-width="0.5">30</text>
<line x1="613.07" y1="210.8" x2="613.07" y2="212.1" stroke="#444" stroke-width="0.45"/>
<text transform="translate(613.07 214.5) scale(0.1)" font-size="27" text-anchor="middle" fill="#000" stroke="#000" stroke-width="0.5">40</text>
<line x1="628.43" y1="210.8" x2="628.43" y2="212.1" stroke="#444" stroke-width="0.45"/>
<text transform="translate(628.43 214.5) scale(0.1)" font-size="27" text-anchor="middle" fill="#000" stroke="#000" stroke-width="0.5">50</text>
<line x1="643.8" y1="210.8" x2="643.8" y2="212.1" stroke="#444" stroke-width="0.45"/>
<text transform="translate(643.8 214.5) scale(0.1)" font-size="27" text-anchor="middle" fill="#000" stroke="#000" stroke-width="0.5">60</text>
<line x1="552.3" y1="210.8" x2="553.6" y2="210.8" stroke="#444" stroke-width="0.45"/>
<text transform="translate(551.3 211.77) scale(0.1)" font-size="27" text-anchor="end" fill="#000" stroke="#000" stroke-width="0.5">−2.0</text>
<line x1="552.3" y1="201.44" x2="553.6" y2="201.44" stroke="#444" stroke-width="0.45"/>
<text transform="translate(551.3 202.41) scale(0.1)" font-size="27" text-anchor="end" fill="#000" stroke="#000" stroke-width="0.5">−1.5</text>
<line x1="552.3" y1="192.08" x2="553.6" y2="192.08" stroke="#444" stroke-width="0.45"/>
<text transform="translate(551.3 193.05) scale(0.1)" font-size="27" text-anchor="end" fill="#000" stroke="#000" stroke-width="0.5">−1.0</text>
<line x1="552.3" y1="182.72" x2="553.6" y2="182.72" stroke="#444" stroke-width="0.45"/>
<text transform="translate(551.3 183.69) scale(0.1)" font-size="27" text-anchor="end" fill="#000" stroke="#000" stroke-width="0.5">−0.5</text>
<line x1="552.3" y1="173.36" x2="553.6" y2="173.36" stroke="#444" stroke-width="0.45"/>
<text transform="translate(551.3 174.33) scale(0.1)" font-size="27" text-anchor="end" fill="#000" stroke="#000" stroke-width="0.5">0.0</text>
<line x1="552.3" y1="164" x2="553.6" y2="164" stroke="#444" stroke-width="0.45"/>
<text transform="translate(551.3 164.97) scale(0.1)" font-size="27" text-anchor="end" fill="#000" stroke="#000" stroke-width="0.5">0.5</text>
<line x1="552.3" y1="154.64" x2="553.6" y2="154.64" stroke="#444" stroke-width="0.45"/>
<text transform="translate(551.3 155.61) scale(0.1)" font-size="27" text-anchor="end" fill="#000" stroke="#000" stroke-width="0.5">1.0</text>
<line x1="552.3" y1="145.28" x2="553.6" y2="145.28" stroke="#444" stroke-width="0.45"/>
<text transform="translate(551.3 146.25) scale(0.1)" font-size="27" text-anchor="end" fill="#000" stroke="#000" stroke-width="0.5">1.5</text>
<line x1="552.3" y1="135.92" x2="553.6" y2="135.92" stroke="#444" stroke-width="0.45"/>
<text transform="translate(551.3 136.89) scale(0.1)" font-size="27" text-anchor="end" fill="#000" stroke="#000" stroke-width="0.5">2.0</text>
<text transform="translate(598.7 127.1) scale(0.1)" font-size="34.3" text-anchor="middle" fill="#000" textLength="640" lengthAdjust="spacingAndGlyphs" stroke="#000" stroke-width="0.5">Change in Phosphate value after repletion</text>
<text transform="translate(598.7 218.1) scale(0.1)" font-size="27.5" text-anchor="middle" fill="#000" stroke="#000" stroke-width="0.5">Performed dose</text>
<text transform="translate(543.8 169.7) rotate(-90) scale(0.1)" font-size="28" text-anchor="middle" fill="#000" stroke="#000" stroke-width="0.5">Change in Phosphate value</text>
<rect x="649.4" y="128.6" width="4" height="82.2" fill="url(#jet)" stroke="#444" stroke-width="0.35"/>
<line x1="653.4" y1="210.8" x2="654.6" y2="210.8" stroke="#444" stroke-width="0.45"/>
<text transform="translate(655.4 211.8) scale(0.1)" font-size="27" text-anchor="start" fill="#000" stroke="#000" stroke-width="0.5">0</text>
<line x1="653.4" y1="194.29" x2="654.6" y2="194.29" stroke="#444" stroke-width="0.45"/>
<text transform="translate(655.4 195.29) scale(0.1)" font-size="27" text-anchor="start" fill="#000" stroke="#000" stroke-width="0.5">50</text>
<line x1="653.4" y1="177.79" x2="654.6" y2="177.79" stroke="#444" stroke-width="0.45"/>
<text transform="translate(655.4 178.79) scale(0.1)" font-size="27" text-anchor="start" fill="#000" stroke="#000" stroke-width="0.5">100</text>
<line x1="653.4" y1="161.28" x2="654.6" y2="161.28" stroke="#444" stroke-width="0.45"/>
<text transform="translate(655.4 162.28) scale(0.1)" font-size="27" text-anchor="start" fill="#000" stroke="#000" stroke-width="0.5">150</text>
<line x1="653.4" y1="144.78" x2="654.6" y2="144.78" stroke="#444" stroke-width="0.45"/>
<text transform="translate(655.4 145.78) scale(0.1)" font-size="27" text-anchor="start" fill="#000" stroke="#000" stroke-width="0.5">200</text>
<text transform="translate(663.1 169.7) rotate(-90) scale(0.1)" font-size="29" text-anchor="middle" fill="#000" stroke="#000" stroke-width="0.5">Number of repletions</text>
<path d="M36.9 344.3V342.5H49.87V310.18H62.84V263.48H75.81V244.62H88.78V306.58H101.75V335.32H114.72V331.73H127.69V327.24H140.66V333.52H153.63V339.81H166.6V344.3Z" fill="#1764ab"/>
<rect x="30.5" y="239.5" width="143" height="105" fill="none" stroke="#a6a6a6" stroke-width="0.75"/>
<line x1="40.2" y1="344.1" x2="40.2" y2="345.4" stroke="#444" stroke-width="0.45"/>
<text transform="translate(40.2 349) scale(0.1)" font-size="36" text-anchor="middle" fill="#000" stroke="#000" stroke-width="0.5">3.4</text>
<line x1="57.29" y1="344.1" x2="57.29" y2="345.4" stroke="#444" stroke-width="0.45"/>
<text transform="translate(57.29 349) scale(0.1)" font-size="36" text-anchor="middle" fill="#000" stroke="#000" stroke-width="0.5">3.5</text>
<line x1="74.38" y1="344.1" x2="74.38" y2="345.4" stroke="#444" stroke-width="0.45"/>
<text transform="translate(74.38 349) scale(0.1)" font-size="36" text-anchor="middle" fill="#000" stroke="#000" stroke-width="0.5">3.6</text>
<line x1="91.47" y1="344.1" x2="91.47" y2="345.4" stroke="#444" stroke-width="0.45"/>
<text transform="translate(91.47 349) scale(0.1)" font-size="36" text-anchor="middle" fill="#000" stroke="#000" stroke-width="0.5">3.7</text>
<line x1="108.56" y1="344.1" x2="108.56" y2="345.4" stroke="#444" stroke-width="0.45"/>
<text transform="translate(108.56 349) scale(0.1)" font-size="36" text-anchor="middle" fill="#000" stroke="#000" stroke-width="0.5">3.8</text>
<line x1="125.65" y1="344.1" x2="125.65" y2="345.4" stroke="#444" stroke-width="0.45"/>
<text transform="translate(125.65 349) scale(0.1)" font-size="36" text-anchor="middle" fill="#000" stroke="#000" stroke-width="0.5">3.9</text>
<line x1="142.74" y1="344.1" x2="142.74" y2="345.4" stroke="#444" stroke-width="0.45"/>
<text transform="translate(142.74 349) scale(0.1)" font-size="36" text-anchor="middle" fill="#000" stroke="#000" stroke-width="0.5">4.0</text>
<line x1="159.83" y1="344.1" x2="159.83" y2="345.4" stroke="#444" stroke-width="0.45"/>
<text transform="translate(159.83 349) scale(0.1)" font-size="36" text-anchor="middle" fill="#000" stroke="#000" stroke-width="0.5">4.1</text>
<line x1="29.3" y1="344.3" x2="30.6" y2="344.3" stroke="#444" stroke-width="0.45"/>
<text transform="translate(28.3 345.52) scale(0.1)" font-size="34" text-anchor="end" fill="#000" stroke="#000" stroke-width="0.5">0</text>
<line x1="29.3" y1="326.34" x2="30.6" y2="326.34" stroke="#444" stroke-width="0.45"/>
<text transform="translate(28.3 327.56) scale(0.1)" font-size="34" text-anchor="end" fill="#000" stroke="#000" stroke-width="0.5">20</text>
<line x1="29.3" y1="308.38" x2="30.6" y2="308.38" stroke="#444" stroke-width="0.45"/>
<text transform="translate(28.3 309.6) scale(0.1)" font-size="34" text-anchor="end" fill="#000" stroke="#000" stroke-width="0.5">40</text>
<line x1="29.3" y1="290.42" x2="30.6" y2="290.42" stroke="#444" stroke-width="0.45"/>
<text transform="translate(28.3 291.64) scale(0.1)" font-size="34" text-anchor="end" fill="#000" stroke="#000" stroke-width="0.5">60</text>
<line x1="29.3" y1="272.46" x2="30.6" y2="272.46" stroke="#444" stroke-width="0.45"/>
<text transform="translate(28.3 273.68) scale(0.1)" font-size="34" text-anchor="end" fill="#000" stroke="#000" stroke-width="0.5">80</text>
<line x1="29.3" y1="254.5" x2="30.6" y2="254.5" stroke="#444" stroke-width="0.45"/>
<text transform="translate(28.3 255.72) scale(0.1)" font-size="34" text-anchor="end" fill="#000" stroke="#000" stroke-width="0.5">100</text>
<text transform="translate(102.05 353.4) scale(0.1)" font-size="37.1" text-anchor="middle" fill="#000" textLength="410" lengthAdjust="spacingAndGlyphs" stroke="#000" stroke-width="0.5">Mean pre-repletion value</text>
<text transform="translate(19.8 291.8) rotate(-90) scale(0.1)" font-size="37" text-anchor="middle" fill="#000" stroke="#000" stroke-width="0.5">Number of providers</text>
<polygon points="100.3,250.9 154.3,250.9 154.3,243.3 171,259.3 154.3,275.4 154.3,267.5 100.3,267.5" fill="#fff" stroke="#8c8c8c" stroke-width="0.8" stroke-linejoin="miter"/>
<text transform="translate(104.4 256.6) scale(0.1)" font-size="43" text-anchor="start" fill="#000" textLength="423" lengthAdjust="spacingAndGlyphs" stroke="#000" stroke-width="0.3"><tspan font-weight="bold">6%</tspan> of providers would</text>
<text transform="translate(104.4 262.2) scale(0.1)" font-size="42.9" text-anchor="start" fill="#000" textLength="520" lengthAdjust="spacingAndGlyphs" stroke="#000" stroke-width="0.3">replete K above 4.5[mEq/L]</text>
<path d="M210.2 346.1V344.79H223.54V337.78H236.88V312.37H250.22V293.98H263.56V244.05H276.9V258.94H290.24V308.87H303.58V334.71H316.92V341.72H330.26V344.79H343.6V346.1Z" fill="#1764ab"/>
<rect x="203.5" y="238.5" width="147" height="107" fill="none" stroke="#a8a8a8" stroke-width="0.75"/>
<line x1="210.2" y1="345.9" x2="210.2" y2="347.2" stroke="#444" stroke-width="0.45"/>
<text transform="translate(210.2 350.8) scale(0.1)" font-size="36" text-anchor="middle" fill="#000" stroke="#000" stroke-width="0.5">1.5</text>
<line x1="233.8" y1="345.9" x2="233.8" y2="347.2" stroke="#444" stroke-width="0.45"/>
<text transform="translate(233.8 350.8) scale(0.1)" font-size="36" text-anchor="middle" fill="#000" stroke="#000" stroke-width="0.5">1.6</text>
<line x1="257.4" y1="345.9" x2="257.4" y2="347.2" stroke="#444" stroke-width="0.45"/>
<text transform="translate(257.4 350.8) scale(0.1)" font-size="36" text-anchor="middle" fill="#000" stroke="#000" stroke-width="0.5">1.7</text>
<line x1="281" y1="345.9" x2="281" y2="347.2" stroke="#444" stroke-width="0.45"/>
<text transform="translate(281 350.8) scale(0.1)" font-size="36" text-anchor="middle" fill="#000" stroke="#000" stroke-width="0.5">1.8</text>
<line x1="304.6" y1="345.9" x2="304.6" y2="347.2" stroke="#444" stroke-width="0.45"/>
<text transform="translate(304.6 350.8) scale(0.1)" font-size="36" text-anchor="middle" fill="#000" stroke="#000" stroke-width="0.5">1.9</text>
<line x1="328.2" y1="345.9" x2="328.2" y2="347.2" stroke="#444" stroke-width="0.45"/>
<text transform="translate(328.2 350.8) scale(0.1)" font-size="36" text-anchor="middle" fill="#000" stroke="#000" stroke-width="0.5">2.0</text>
<line x1="201.9" y1="346.1" x2="203.2" y2="346.1" stroke="#444" stroke-width="0.45"/>
<text transform="translate(200.9 347.32) scale(0.1)" font-size="34" text-anchor="end" fill="#000" stroke="#000" stroke-width="0.5">0</text>
<line x1="201.9" y1="324.2" x2="203.2" y2="324.2" stroke="#444" stroke-width="0.45"/>
<text transform="translate(200.9 325.42) scale(0.1)" font-size="34" text-anchor="end" fill="#000" stroke="#000" stroke-width="0.5">50</text>
<line x1="201.9" y1="302.3" x2="203.2" y2="302.3" stroke="#444" stroke-width="0.45"/>
<text transform="translate(200.9 303.52) scale(0.1)" font-size="34" text-anchor="end" fill="#000" stroke="#000" stroke-width="0.5">100</text>
<line x1="201.9" y1="280.4" x2="203.2" y2="280.4" stroke="#444" stroke-width="0.45"/>
<text transform="translate(200.9 281.62) scale(0.1)" font-size="34" text-anchor="end" fill="#000" stroke="#000" stroke-width="0.5">150</text>
<line x1="201.9" y1="258.5" x2="203.2" y2="258.5" stroke="#444" stroke-width="0.45"/>
<text transform="translate(200.9 259.72) scale(0.1)" font-size="34" text-anchor="end" fill="#000" stroke="#000" stroke-width="0.5">200</text>
<text transform="translate(277 236.5) scale(0.1)" font-size="44.9" text-anchor="middle" fill="#000" textLength="880" lengthAdjust="spacingAndGlyphs" stroke="#000" stroke-width="0.5">Provider repletion thresholds for magnesium</text>
<text transform="translate(276.85 355.1) scale(0.1)" font-size="37.1" text-anchor="middle" fill="#000" textLength="410" lengthAdjust="spacingAndGlyphs" stroke="#000" stroke-width="0.5">Mean pre-repletion value</text>
<text transform="translate(192.3 292.2) rotate(-90) scale(0.1)" font-size="37" text-anchor="middle" fill="#000" stroke="#000" stroke-width="0.5">Number of providers</text>
<polygon points="272.8,251.1 326.5,251.1 326.5,242.6 343.1,259 326.5,275.4 326.5,267.3 272.8,267.3" fill="none" stroke="#8c8c8c" stroke-width="0.8" stroke-linejoin="miter"/>
<text transform="translate(278.2 257.6) scale(0.1)" font-size="42.5" text-anchor="start" fill="#000" textLength="454" lengthAdjust="spacingAndGlyphs" stroke="#000" stroke-width="0.3"><tspan font-weight="bold">2.2%</tspan> of providers would</text>
<text transform="translate(278.2 262.9) scale(0.1)" font-size="43.3" text-anchor="start" fill="#000" textLength="556" lengthAdjust="spacingAndGlyphs" stroke="#000" stroke-width="0.3">replete Mg above 2.0[mEq/L]</text>
<path d="M375.2 346.8V335.55H388.18V313.05H401.16V245.55H414.14V290.55H427.12V346.8H440.1V335.55H453.08V346.8H466.06V335.55H479.04V346.8H492.02V335.55H505V346.8Z" fill="#1764ab"/>
<rect x="368.5" y="240.5" width="143" height="107" fill="none" stroke="#7d7d7d" stroke-width="0.75"/>
<line x1="391.2" y1="347" x2="391.2" y2="348.3" stroke="#444" stroke-width="0.45"/>
<text transform="translate(391.2 351.9) scale(0.1)" font-size="36" text-anchor="middle" fill="#000" stroke="#000" stroke-width="0.5">1.02</text>
<line x1="418.45" y1="347" x2="418.45" y2="348.3" stroke="#444" stroke-width="0.45"/>
<text transform="translate(418.45 351.9) scale(0.1)" font-size="36" text-anchor="middle" fill="#000" stroke="#000" stroke-width="0.5">1.04</text>
<line x1="445.7" y1="347" x2="445.7" y2="348.3" stroke="#444" stroke-width="0.45"/>
<text transform="translate(445.7 351.9) scale(0.1)" font-size="36" text-anchor="middle" fill="#000" stroke="#000" stroke-width="0.5">1.06</text>
<line x1="472.95" y1="347" x2="472.95" y2="348.3" stroke="#444" stroke-width="0.45"/>
<text transform="translate(472.95 351.9) scale(0.1)" font-size="36" text-anchor="middle" fill="#000" stroke="#000" stroke-width="0.5">1.08</text>
<line x1="500.2" y1="347" x2="500.2" y2="348.3" stroke="#444" stroke-width="0.45"/>
<text transform="translate(500.2 351.9) scale(0.1)" font-size="36" text-anchor="middle" fill="#000" stroke="#000" stroke-width="0.5">1.10</text>
<line x1="367.1" y1="346.8" x2="368.4" y2="346.8" stroke="#444" stroke-width="0.45"/>
<text transform="translate(366.1 348.02) scale(0.1)" font-size="34" text-anchor="end" fill="#000" stroke="#000" stroke-width="0.5">0</text>
<line x1="367.1" y1="324.3" x2="368.4" y2="324.3" stroke="#444" stroke-width="0.45"/>
<text transform="translate(366.1 325.52) scale(0.1)" font-size="34" text-anchor="end" fill="#000" stroke="#000" stroke-width="0.5">2</text>
<line x1="367.1" y1="301.8" x2="368.4" y2="301.8" stroke="#444" stroke-width="0.45"/>
<text transform="translate(366.1 303.02) scale(0.1)" font-size="34" text-anchor="end" fill="#000" stroke="#000" stroke-width="0.5">4</text>
<line x1="367.1" y1="279.3" x2="368.4" y2="279.3" stroke="#444" stroke-width="0.45"/>
<text transform="translate(366.1 280.52) scale(0.1)" font-size="34" text-anchor="end" fill="#000" stroke="#000" stroke-width="0.5">6</text>
<line x1="367.1" y1="256.8" x2="368.4" y2="256.8" stroke="#444" stroke-width="0.45"/>
<text transform="translate(366.1 258.02) scale(0.1)" font-size="34" text-anchor="end" fill="#000" stroke="#000" stroke-width="0.5">8</text>
<text transform="translate(440.2 237.8) scale(0.1)" font-size="43.7" text-anchor="middle" fill="#000" textLength="780" lengthAdjust="spacingAndGlyphs" stroke="#000" stroke-width="0.5">Provider repletion thresholds for calcium</text>
<text transform="translate(440 356.3) scale(0.1)" font-size="37.1" text-anchor="middle" fill="#000" textLength="410" lengthAdjust="spacingAndGlyphs" stroke="#000" stroke-width="0.5">Mean pre-repletion value</text>
<text transform="translate(362.6 293.55) rotate(-90) scale(0.1)" font-size="37" text-anchor="middle" fill="#000" stroke="#000" stroke-width="0.5">Number of providers</text>
<polygon points="428.6,248.8 482.7,248.8 482.7,241 498.9,257.1 482.7,273.2 482.7,265.2 428.6,265.2" fill="#fff" stroke="#8c8c8c" stroke-width="0.8" stroke-linejoin="miter"/>
<text transform="translate(432.4 255.5) scale(0.1)" font-size="43" text-anchor="start" fill="#000" textLength="459" lengthAdjust="spacingAndGlyphs" stroke="#000" stroke-width="0.3"><tspan font-weight="bold">3.3%</tspan> of providers would</text>
<text transform="translate(432.4 261.3) scale(0.1)" font-size="42.7" text-anchor="start" fill="#000" textLength="553" lengthAdjust="spacingAndGlyphs" stroke="#000" stroke-width="0.3">replete iCa above 1.0[mEq/L]</text>
<path d="M541.1 346.8V333.48H554.17V311.28H567.24V244.68H580.31V266.88H593.38V293.52H606.45V306.84H619.52V324.6H632.59V306.84H645.66V342.36H658.73V342.36H671.8V346.8Z" fill="#1764ab"/>
<rect x="534.5" y="239.5" width="144" height="108" fill="none" stroke="#9a9a9a" stroke-width="0.75"/>
<line x1="536.4" y1="347" x2="536.4" y2="348.3" stroke="#444" stroke-width="0.45"/>
<text transform="translate(536.4 351.9) scale(0.1)" font-size="36" text-anchor="middle" fill="#000" stroke="#000" stroke-width="0.5">1.6</text>
<line x1="567.6" y1="347" x2="567.6" y2="348.3" stroke="#444" stroke-width="0.45"/>
<text transform="translate(567.6 351.9) scale(0.1)" font-size="36" text-anchor="middle" fill="#000" stroke="#000" stroke-width="0.5">1.8</text>
<line x1="598.8" y1="347" x2="598.8" y2="348.3" stroke="#444" stroke-width="0.45"/>
<text transform="translate(598.8 351.9) scale(0.1)" font-size="36" text-anchor="middle" fill="#000" stroke="#000" stroke-width="0.5">2.0</text>
<line x1="630" y1="347" x2="630" y2="348.3" stroke="#444" stroke-width="0.45"/>
<text transform="translate(630 351.9) scale(0.1)" font-size="36" text-anchor="middle" fill="#000" stroke="#000" stroke-width="0.5">2.2</text>
<line x1="661.2" y1="347" x2="661.2" y2="348.3" stroke="#444" stroke-width="0.45"/>
<text transform="translate(661.2 351.9) scale(0.1)" font-size="36" text-anchor="middle" fill="#000" stroke="#000" stroke-width="0.5">2.4</text>
<line x1="533.6" y1="346.8" x2="534.9" y2="346.8" stroke="#444" stroke-width="0.45"/>
<text transform="translate(532.6 348.02) scale(0.1)" font-size="34" text-anchor="end" fill="#000" stroke="#000" stroke-width="0.5">0</text>
<line x1="533.6" y1="324.6" x2="534.9" y2="324.6" stroke="#444" stroke-width="0.45"/>
<text transform="translate(532.6 325.82) scale(0.1)" font-size="34" text-anchor="end" fill="#000" stroke="#000" stroke-width="0.5">5</text>
<line x1="533.6" y1="302.4" x2="534.9" y2="302.4" stroke="#444" stroke-width="0.45"/>
<text transform="translate(532.6 303.62) scale(0.1)" font-size="34" text-anchor="end" fill="#000" stroke="#000" stroke-width="0.5">10</text>
<line x1="533.6" y1="280.2" x2="534.9" y2="280.2" stroke="#444" stroke-width="0.45"/>
<text transform="translate(532.6 281.42) scale(0.1)" font-size="34" text-anchor="end" fill="#000" stroke="#000" stroke-width="0.5">15</text>
<line x1="533.6" y1="258" x2="534.9" y2="258" stroke="#444" stroke-width="0.45"/>
<text transform="translate(532.6 259.22) scale(0.1)" font-size="34" text-anchor="end" fill="#000" stroke="#000" stroke-width="0.5">20</text>
<text transform="translate(607.2 236.9) scale(0.1)" font-size="43.7" text-anchor="middle" fill="#000" textLength="860" lengthAdjust="spacingAndGlyphs" stroke="#000" stroke-width="0.5">Provider repletion thresholds for phosphorus</text>
<text transform="translate(606.6 356.4) scale(0.1)" font-size="37.1" text-anchor="middle" fill="#000" textLength="410" lengthAdjust="spacingAndGlyphs" stroke="#000" stroke-width="0.5">Mean pre-repletion value</text>
<text transform="translate(525.7 293.2) rotate(-90) scale(0.1)" font-size="37" text-anchor="middle" fill="#000" stroke="#000" stroke-width="0.5">Number of providers</text>
<polygon points="607.5,248.8 661.5,248.8 661.5,241 678.3,257 661.5,273.3 661.5,265.4 607.5,265.4" fill="#fff" stroke="#8c8c8c" stroke-width="0.8" stroke-linejoin="miter"/>
<text transform="translate(611.2 255.5) scale(0.1)" font-size="42.9" text-anchor="start" fill="#000" textLength="458" lengthAdjust="spacingAndGlyphs" stroke="#000" stroke-width="0.3"><tspan font-weight="bold">6.4%</tspan> of providers would</text>
<text transform="translate(611.2 261.4) scale(0.1)" font-size="41.5" text-anchor="start" fill="#000" textLength="597" lengthAdjust="spacingAndGlyphs" stroke="#000" stroke-width="0.3">replete PO₄³⁻ above 2.5[mEq/L]</text>
<line x1="359.6" y1="234.4" x2="513" y2="234.4" stroke="#cfe0e8" stroke-width="0.6"/>
<line x1="15.6" y1="354.3" x2="176" y2="354.3" stroke="#dcdcdc" stroke-width="0.6"/>
<line x1="522" y1="356.8" x2="684" y2="356.8" stroke="#e2e2e2" stroke-width="0.6"/>
<line x1="15" y1="369.5" x2="30" y2="369.5" stroke="#e4e4e4" stroke-width="0.5"/>
<defs><clipPath id="cpT"><rect x="-100" y="-31" width="3000" height="60"/></clipPath></defs>
<path d="M39.14 489V488.7H39.4V488.1H39.7V488.1H40.0V488.1H40.3V488.0H40.6V488.1H40.9V488.0H41.2V488.0H41.5V488.0H41.8V487.9H42.1V488.0H42.3V487.9H42.6V487.9H42.9V487.9H43.2V487.9H43.5V487.9H43.8V487.8H44.1V487.7H44.4V487.7H44.7V487.8H45.0V487.8H45.3V487.7H45.5V487.8H45.8V487.7H46.1V487.7H46.4V487.6H46.7V487.6H47.0V487.6H47.3V487.7H47.6V487.6H47.9V487.6H48.2V487.5H48.5V487.6H48.7V487.5H49.0V487.6H49.3V487.6H49.6V487.5H49.9V487.6H50.2V487.4H50.5V487.6H50.8V487.4H51.1V487.5H51.4V487.5H51.7V487.4H52.0V487.1H52.2V487.2H52.5V487.1H52.8V487.3H53.1V486.9H53.4V486.7H53.7V486.4H54.0V486.6H54.3V486.9H54.6V486.6H54.9V486.2H55.2V486.3H55.4V486.0H55.7V486.3H56.0V485.9H56.3V485.8H56.6V485.7H56.9V485.5H57.2V485.1H57.5V485.0H57.8V485.2H58.1V484.9H58.4V484.3H58.6V484.6H58.9V484.0H59.2V483.6H59.5V484.4H59.8V484.2H60.1V483.8H60.4V484.0H60.7V484.7H61.0V484.6H61.3V485.3H61.6V484.6H61.9V484.8H62.1V484.5H62.4V484.4H62.7V484.5H63.0V485.1H63.3V484.6H63.6V423.5H63.9V413.1H64.2V416.5H64.5V422.2H64.8V425.5H65.1V424.8H65.3V429.1H65.6V432.4H65.9V436.1H66.2V438.1H66.5V439.6H66.8V438.4H67.1V438.3H67.4V435.5H67.7V433.8H68.0V434.2H68.3V432.6H68.6V433.8H68.8V433.9H69.1V435.0H69.4V437.1H69.7V438.7H70.0V440.6H70.3V440.6H70.6V441.5H70.9V441.6H71.2V441.3H71.5V442.5H71.8V443.8H72.0V442.9H72.3V444.9H72.6V444.7H72.9V443.5H73.2V444.3H73.5V444.3H73.8V446.7H74.1V445.8H74.4V445.7H74.7V446.3H75.0V446.9H75.2V447.6H75.5V447.6H75.8V448.6H76.1V448.1H76.4V450.1H76.7V449.5H77.0V451.8H77.3V450.5H77.6V450.4H77.9V450.1H78.2V450.6H78.5V451.6H78.7V452.2H79.0V452.0H79.3V451.9H79.6V453.0H79.9V453.9H80.2V455.6H80.5V454.9H80.8V455.8H81.1V456.9H81.4V458.0H81.7V458.8H81.9V459.1H82.2V459.2H82.5V459.2H82.8V460.6H83.1V460.7H83.4V461.7H83.7V463.4H84.0V463.3H84.3V462.9H84.6V463.8H84.9V465.3H85.1V465.0H85.4V466.1H85.7V466.0H86.0V466.0H86.3V466.8H86.6V467.6H86.9V467.4H87.2V468.0H87.5V467.8H87.8V468.6H88.1V468.8H88.4V469.6H88.6V469.8H88.9V469.8H89.2V469.8H89.5V470.9H89.8V470.8H90.1V470.7H90.4V471.2H90.7V472.0H91.0V472.1H91.3V472.2H91.6V472.6H91.8V472.5H92.1V472.4H92.4V473.3H92.7V473.4H93.0V473.8H93.3V474.1H93.6V474.1H93.9V474.3H94.2V474.4H94.5V475.4H94.8V475.1H95.0V475.5H95.3V475.7H95.6V476.0H95.9V476.1H96.2V476.5H96.5V476.2H96.8V476.8H97.1V477.2H97.4V476.9H97.7V477.2H98.0V477.7H98.3V477.5H98.5V477.7H98.8V478.3H99.1V478.4H99.4V478.2H99.7V478.2H100.0V478.7H100.3V478.7H100.6V478.5H100.9V478.5H101.2V478.2H101.5V478.4H101.7V478.1H102.0V478.1H102.3V477.9H102.6V477.6H102.9V478.4H103.2V477.3H103.5V477.0H103.8V477.5H104.1V477.9H104.4V477.6H104.7V476.9H105.0V477.0H105.2V476.6H105.5V476.4H105.8V476.2H106.1V476.7H106.4V475.7H106.7V475.8H107.0V475.0H107.3V475.0H107.6V475.1H107.9V474.7H108.2V473.7H108.4V474.6H108.7V473.6H109.0V473.8H109.3V472.2H109.6V473.0H109.9V474.1H110.2V472.9H110.5V471.6H110.8V473.4H111.1V472.7H111.4V473.3H111.6V473.3H111.9V474.0H112.2V473.9H112.5V474.4H112.8V472.9H113.1V474.5H113.4V473.8H113.7V473.2H114.0V475.0H114.3V472.6H114.6V472.4H114.9V472.3H115.1V473.8H115.4V473.2H115.7V473.5H116.0V473.9H116.3V473.2H116.6V472.5H116.9V473.4H117.2V473.1H117.5V472.3H117.8V472.8H118.1V472.2H118.3V474.1H118.6V473.8H118.9V474.4H119.2V475.4H119.5V475.1H119.8V475.5H120.1V475.4H120.4V475.3H120.7V476.5H121.0V475.4H121.3V476.5H121.5V477.1H121.8V476.9H122.1V477.7H122.4V477.5H122.7V478.7H123.0V479.0H123.3V479.3H123.6V479.4H123.9V479.6H124.2V480.2H124.5V480.3H124.8V480.8H125.0V481.4H125.3V481.6H125.6V481.7H125.9V482.0H126.2V481.4H126.5V482.5H126.8V483.2H127.1V482.7H127.4V482.8H127.7V483.5H128.0V483.3H128.2V483.8H128.5V483.5H128.8V483.8H129.1V484.2H129.4V484.1H129.7V484.3H130.0V484.6H130.3V484.8H130.6V484.8H130.9V485.1H131.2V485.1H131.4V485.2H131.7V485.4H132.0V485.9H132.3V485.8H132.6V486.0H132.9V486.1H133.2V486.0H133.5V486.3H133.8V486.3H134.1V486.4H134.4V486.5H134.7V486.6H134.9V486.7H135.2V486.9H135.5V487.1H135.8V487.1H136.1V487.0H136.4V487.0H136.7V486.8H137.0V486.9H137.3V487.2H137.6V487.0H137.9V487.0H138.1V487.2H138.4V486.9H138.7V486.9H139.0V486.8H139.3V486.9H139.6V486.9H139.9V486.9H140.2V487.1H140.5V487.1H140.8V487.1H141.1V487.1H141.4V487.0H141.6V487.0H141.9V487.2H142.2V487.0H142.5V487.0H142.8V487.2H143.1V486.9H143.4V486.9H143.7V486.9H144.0V487.1H144.3V487.1H144.6V487.0H144.8V486.9H145.1V487.0H145.4V486.9H145.7V486.9H146.0V486.8H146.3V486.6H146.6V486.6H146.9V486.4H147.2V486.5H147.5V486.6H147.8V486.4H148.0V486.0H148.3V486.4H148.6V486.1H148.9V486.2H149.2V486.0H149.5V485.7H149.8V485.9H150.1V485.8H150.4V485.7H150.7V485.7H151.0V485.6H151.3V485.9H151.5V485.3H151.8V485.0H152.1V485.6H152.4V485.2H152.7V485.5H153.0V485.3H153.3V484.8H153.6V485.0H153.9V485.1H154.2V485.0H154.5V485.0H154.7V484.8H155.0V484.6H155.3V484.6H155.6V484.6H155.9V484.6H156.2V484.9H156.5V484.7H156.8V484.5H157.1V484.2H157.4V484.5H157.7V484.2H157.9V484.2H158.2V484.4H158.5V484.6H158.8V484.5H159.1V484.4H159.4V484.5H159.7V484.3H160.0V484.6H160.3V484.9H160.6V484.1H160.9V484.8H161.2V484.5H161.4V484.9H161.7V484.9H162.0V484.7H162.3V484.8H162.6V484.6H162.9V484.6H163.2V485.2H163.5V485.2H163.8V484.8H164.1V485.3H164.4V485.0H164.6V484.9H164.9V485.1H165.2V485.5H165.5V485.2H165.8V485.2H166.1V484.9H166.4V485.0H166.7V485.0H167.0V485.5H167.3V485.3H167.6V485.4H167.8V485.5H168.1V485.6H168.4V485.7H168.7V489.0H169.0V489Z" fill="#23912a"/>
<path d="M39.14 489V489.0H39.4V489.0H39.7V489.0H40.0V489.0H40.3V489.0H40.6V489.0H40.9V489.0H41.2V489.0H41.5V489.0H41.8V489.0H42.1V489.0H42.3V489.0H42.6V489.0H42.9V489.0H43.2V489.0H43.5V489.0H43.8V489.0H44.1V489.0H44.4V489.0H44.7V489.0H45.0V489.0H45.3V489.0H45.5V489.0H45.8V489.0H46.1V489.0H46.4V489.0H46.7V489.0H47.0V489.0H47.3V489.0H47.6V489.0H47.9V489.0H48.2V489.0H48.5V489.0H48.7V489.0H49.0V489.0H49.3V489.0H49.6V489.0H49.9V489.0H50.2V489.0H50.5V489.0H50.8V489.0H51.1V489.0H51.4V489.0H51.7V489.0H52.0V489.0H52.2V489.0H52.5V489.0H52.8V489.0H53.1V489.0H53.4V489.0H53.7V489.0H54.0V489.0H54.3V489.0H54.6V489.0H54.9V489.0H55.2V489.0H55.4V489.0H55.7V489.0H56.0V489.0H56.3V489.0H56.6V489.0H56.9V489.0H57.2V489.0H57.5V489.0H57.8V489.0H58.1V489.0H58.4V489.0H58.6V489.0H58.9V489.0H59.2V489.0H59.5V489.0H59.8V489.0H60.1V489.0H60.4V489.0H60.7V489.0H61.0V489.0H61.3V489.0H61.6V489.0H61.9V489.0H62.1V489.0H62.4V489.0H62.7V489.0H63.0V489.0H63.3V489.0H63.6V427.0H63.9V413.1H64.2V419.4H64.5V425.2H64.8V428.4H65.1V426.8H65.3V430.5H65.6V433.8H65.9V437.3H66.2V439.4H66.5V441.8H66.8V441.7H67.1V442.7H67.4V441.0H67.7V439.9H68.0V439.5H68.3V438.6H68.6V439.4H68.8V439.5H69.1V440.5H69.4V442.0H69.7V443.7H70.0V444.9H70.3V445.6H70.6V447.4H70.9V446.3H71.2V447.3H71.5V448.3H71.8V449.8H72.0V449.6H72.3V451.6H72.6V451.3H72.9V450.4H73.2V452.4H73.5V451.8H73.8V454.3H74.1V453.6H74.4V454.0H74.7V454.3H75.0V454.7H75.2V455.6H75.5V455.8H75.8V456.9H76.1V456.1H76.4V457.4H76.7V457.9H77.0V459.4H77.3V458.0H77.6V458.6H77.9V458.3H78.2V459.2H78.5V459.2H78.7V460.1H79.0V460.4H79.3V460.3H79.6V462.0H79.9V462.2H80.2V463.5H80.5V463.0H80.8V463.7H81.1V464.5H81.4V465.4H81.7V466.2H81.9V466.7H82.2V466.4H82.5V466.5H82.8V467.5H83.1V467.9H83.4V468.7H83.7V469.7H84.0V469.8H84.3V469.5H84.6V469.6H84.9V471.0H85.1V471.1H85.4V472.1H85.7V471.9H86.0V472.0H86.3V472.6H86.6V473.4H86.9V473.2H87.2V473.6H87.5V473.5H87.8V474.1H88.1V474.2H88.4V474.9H88.6V475.0H88.9V475.0H89.2V475.2H89.5V475.3H89.8V475.8H90.1V475.8H90.4V476.0H90.7V476.4H91.0V476.9H91.3V476.9H91.6V477.2H91.8V477.4H92.1V477.5H92.4V477.9H92.7V478.3H93.0V478.6H93.3V478.6H93.6V478.9H93.9V478.9H94.2V479.3H94.5V479.7H94.8V479.6H95.0V480.5H95.3V480.3H95.6V480.6H95.9V480.7H96.2V480.7H96.5V481.0H96.8V481.0H97.1V481.4H97.4V481.3H97.7V481.5H98.0V481.8H98.3V481.8H98.5V482.0H98.8V482.4H99.1V482.4H99.4V482.5H99.7V482.6H100.0V482.9H100.3V482.9H100.6V483.1H100.9V483.1H101.2V483.0H101.5V483.4H101.7V483.6H102.0V483.7H102.3V483.6H102.6V483.8H102.9V484.0H103.2V484.0H103.5V484.0H103.8V484.3H104.1V484.4H104.4V484.4H104.7V484.6H105.0V484.6H105.2V484.6H105.5V484.8H105.8V484.7H106.1V484.9H106.4V485.0H106.7V485.2H107.0V485.2H107.3V485.3H107.6V485.3H107.9V485.3H108.2V485.4H108.4V485.3H108.7V485.5H109.0V485.8H109.3V485.7H109.6V485.8H109.9V485.7H110.2V486.1H110.5V485.9H110.8V486.0H111.1V486.1H111.4V486.1H111.6V486.1H111.9V486.2H112.2V486.2H112.5V486.3H112.8V486.3H113.1V486.4H113.4V486.5H113.7V486.5H114.0V486.6H114.3V486.6H114.6V486.7H114.9V486.7H115.1V486.7H115.4V486.8H115.7V486.7H116.0V486.9H116.3V486.9H116.6V487.1H116.9V487.1H117.2V487.0H117.5V487.1H117.8V487.2H118.1V487.3H118.3V487.3H118.6V487.3H118.9V487.4H119.2V487.4H119.5V487.5H119.8V487.5H120.1V487.5H120.4V487.5H120.7V487.5H121.0V487.7H121.3V487.6H121.5V487.6H121.8V487.7H122.1V487.7H122.4V487.7H122.7V487.8H123.0V487.8H123.3V487.8H123.6V487.9H123.9V487.9H124.2V487.9H124.5V487.9H124.8V488.0H125.0V488.0H125.3V488.0H125.6V488.1H125.9V488.1H126.2V488.2H126.5V488.1H126.8V488.1H127.1V488.2H127.4V488.2H127.7V488.2H128.0V488.3H128.2V488.3H128.5V488.3H128.8V488.3H129.1V488.4H129.4V488.4H129.7V488.4H130.0V488.4H130.3V488.4H130.6V488.5H130.9V488.5H131.2V488.5H131.4V488.5H131.7V488.6H132.0V488.6H132.3V488.6H132.6V488.6H132.9V488.7H133.2V488.7H133.5V488.7H133.8V488.7H134.1V488.7H134.4V488.7H134.7V488.7H134.9V488.7H135.2V488.7H135.5V488.8H135.8V488.8H136.1V488.8H136.4V488.8H136.7V488.8H137.0V488.8H137.3V488.8H137.6V488.8H137.9V488.8H138.1V488.9H138.4V488.9H138.7V488.9H139.0V488.9H139.3V488.9H139.6V488.9H139.9V488.9H140.2V488.9H140.5V488.9H140.8V488.9H141.1V489.0H141.4V489.0H141.6V489.0H141.9V489.0H142.2V489.0H142.5V489.0H142.8V489.0H143.1V489.0H143.4V489.0H143.7V489.0H144.0V489.0H144.3V489.0H144.6V489.0H144.8V489.0H145.1V489.0H145.4V489.0H145.7V489.0H146.0V489.0H146.3V489.0H146.6V489.0H146.9V489.0H147.2V489.0H147.5V489.0H147.8V489.0H148.0V489.0H148.3V489.0H148.6V489.0H148.9V489.0H149.2V489.0H149.5V489.0H149.8V489.0H150.1V489.0H150.4V489.0H150.7V489.0H151.0V489.0H151.3V489.0H151.5V489.0H151.8V489.0H152.1V489.0H152.4V489.0H152.7V489.0H153.0V489.0H153.3V489.0H153.6V489.0H153.9V489.0H154.2V489.0H154.5V489.0H154.7V489.0H155.0V489.0H155.3V489.0H155.6V489.0H155.9V489.0H156.2V489.0H156.5V489.0H156.8V489.0H157.1V489.0H157.4V489.0H157.7V489.0H157.9V489.0H158.2V489.0H158.5V489.0H158.8V489.0H159.1V489.0H159.4V489.0H159.7V489.0H160.0V489.0H160.3V489.0H160.6V489.0H160.9V489.0H161.2V489.0H161.4V489.0H161.7V489.0H162.0V489.0H162.3V489.0H162.6V489.0H162.9V489.0H163.2V489.0H163.5V489.0H163.8V489.0H164.1V489.0H164.4V489.0H164.6V489.0H164.9V489.0H165.2V489.0H165.5V489.0H165.8V489.0H166.1V489.0H166.4V489.0H166.7V489.0H167.0V489.0H167.3V489.0H167.6V489.0H167.8V489.0H168.1V489.0H168.4V489.0H168.7V489.0H169.0V489Z" fill="#ff7a0c"/>
<path d="M39.14 489V489.0H39.4V489.0H39.7V489.0H40.0V489.0H40.3V489.0H40.6V489.0H40.9V489.0H41.2V489.0H41.5V489.0H41.8V489.0H42.1V489.0H42.3V489.0H42.6V489.0H42.9V489.0H43.2V489.0H43.5V489.0H43.8V489.0H44.1V489.0H44.4V489.0H44.7V489.0H45.0V489.0H45.3V489.0H45.5V489.0H45.8V489.0H46.1V489.0H46.4V489.0H46.7V489.0H47.0V489.0H47.3V489.0H47.6V489.0H47.9V489.0H48.2V489.0H48.5V489.0H48.7V489.0H49.0V489.0H49.3V489.0H49.6V489.0H49.9V489.0H50.2V489.0H50.5V489.0H50.8V489.0H51.1V489.0H51.4V489.0H51.7V489.0H52.0V489.0H52.2V489.0H52.5V489.0H52.8V489.0H53.1V489.0H53.4V489.0H53.7V489.0H54.0V489.0H54.3V489.0H54.6V489.0H54.9V489.0H55.2V489.0H55.4V489.0H55.7V489.0H56.0V489.0H56.3V489.0H56.6V489.0H56.9V489.0H57.2V489.0H57.5V489.0H57.8V489.0H58.1V489.0H58.4V489.0H58.6V489.0H58.9V489.0H59.2V489.0H59.5V489.0H59.8V489.0H60.1V489.0H60.4V489.0H60.7V489.0H61.0V489.0H61.3V489.0H61.6V489.0H61.9V489.0H62.1V489.0H62.4V489.0H62.7V489.0H63.0V489.0H63.3V489.0H63.6V430.6H63.9V417.6H64.2V419.4H64.5V425.2H64.8V430.0H65.1V432.0H65.3V438.2H65.6V444.2H65.9V447.5H66.2V447.6H66.5V450.8H66.8V451.3H67.1V452.5H67.4V452.0H67.7V452.3H68.0V453.4H68.3V454.4H68.6V456.7H68.8V457.1H69.1V458.1H69.4V459.4H69.7V461.1H70.0V462.2H70.3V463.6H70.6V465.1H70.9V464.8H71.2V465.9H71.5V466.7H71.8V468.8H72.0V468.8H72.3V469.9H72.6V469.8H72.9V469.7H73.2V472.0H73.5V471.1H73.8V472.3H74.1V472.9H74.4V473.4H74.7V473.6H75.0V474.0H75.2V475.0H75.5V475.0H75.8V475.5H76.1V475.5H76.4V476.0H76.7V476.5H77.0V477.2H77.3V476.8H77.6V477.8H77.9V477.9H78.2V478.2H78.5V478.2H78.7V478.8H79.0V478.8H79.3V479.4H79.6V479.7H79.9V480.1H80.2V480.3H80.5V480.4H80.8V480.6H81.1V480.8H81.4V480.9H81.7V481.2H81.9V481.8H82.2V481.5H82.5V482.1H82.8V481.8H83.1V482.5H83.4V482.7H83.7V482.9H84.0V482.8H84.3V482.8H84.6V482.8H84.9V483.2H85.1V483.2H85.4V483.6H85.7V483.5H86.0V483.7H86.3V483.7H86.6V484.2H86.9V484.1H87.2V484.2H87.5V484.1H87.8V484.4H88.1V484.3H88.4V484.7H88.6V484.7H88.9V484.7H89.2V484.6H89.5V485.0H89.8V485.2H90.1V485.0H90.4V485.2H90.7V485.4H91.0V485.4H91.3V485.4H91.6V485.6H91.8V485.8H92.1V485.9H92.4V486.0H92.7V486.0H93.0V486.2H93.3V486.2H93.6V486.3H93.9V486.3H94.2V486.4H94.5V486.7H94.8V486.6H95.0V486.9H95.3V486.8H95.6V486.9H95.9V487.0H96.2V486.9H96.5V487.0H96.8V487.0H97.1V487.1H97.4V487.1H97.7V487.1H98.0V487.1H98.3V487.2H98.5V487.3H98.8V487.3H99.1V487.4H99.4V487.4H99.7V487.4H100.0V487.5H100.3V487.5H100.6V487.6H100.9V487.6H101.2V487.7H101.5V487.7H101.7V487.7H102.0V487.7H102.3V487.8H102.6V487.9H102.9V487.9H103.2V488.0H103.5V488.0H103.8V488.0H104.1V488.0H104.4V488.1H104.7V488.1H105.0V488.1H105.2V488.1H105.5V488.2H105.8V488.2H106.1V488.2H106.4V488.2H106.7V488.3H107.0V488.3H107.3V488.3H107.6V488.4H107.9V488.3H108.2V488.4H108.4V488.4H108.7V488.4H109.0V488.5H109.3V488.4H109.6V488.5H109.9V488.5H110.2V488.5H110.5V488.5H110.8V488.5H111.1V488.6H111.4V488.6H111.6V488.6H111.9V488.6H112.2V488.6H112.5V488.6H112.8V488.6H113.1V488.7H113.4V488.7H113.7V488.7H114.0V488.7H114.3V488.7H114.6V488.7H114.9V488.7H115.1V488.8H115.4V488.8H115.7V488.8H116.0V488.8H116.3V488.8H116.6V488.8H116.9V488.8H117.2V488.8H117.5V488.8H117.8V488.8H118.1V488.9H118.3V488.9H118.6V488.9H118.9V488.9H119.2V488.9H119.5V488.9H119.8V488.9H120.1V488.9H120.4V488.9H120.7V488.9H121.0V488.9H121.3V488.9H121.5V489.0H121.8V489.0H122.1V489.0H122.4V489.0H122.7V489.0H123.0V489.0H123.3V489.0H123.6V489.0H123.9V489.0H124.2V489.0H124.5V489.0H124.8V489.0H125.0V489.0H125.3V489.0H125.6V489.0H125.9V489.0H126.2V489.0H126.5V489.0H126.8V489.0H127.1V489.0H127.4V489.0H127.7V489.0H128.0V489.0H128.2V489.0H128.5V489.0H128.8V489.0H129.1V489.0H129.4V489.0H129.7V489.0H130.0V489.0H130.3V489.0H130.6V489.0H130.9V489.0H131.2V489.0H131.4V489.0H131.7V489.0H132.0V489.0H132.3V489.0H132.6V489.0H132.9V489.0H133.2V489.0H133.5V489.0H133.8V489.0H134.1V489.0H134.4V489.0H134.7V489.0H134.9V489.0H135.2V489.0H135.5V489.0H135.8V489.0H136.1V489.0H136.4V489.0H136.7V489.0H137.0V489.0H137.3V489.0H137.6V489.0H137.9V489.0H138.1V489.0H138.4V489.0H138.7V489.0H139.0V489.0H139.3V489.0H139.6V489.0H139.9V489.0H140.2V489.0H140.5V489.0H140.8V489.0H141.1V489.0H141.4V489.0H141.6V489.0H141.9V489.0H142.2V489.0H142.5V489.0H142.8V489.0H143.1V489.0H143.4V489.0H143.7V489.0H144.0V489.0H144.3V489.0H144.6V489.0H144.8V489.0H145.1V489.0H145.4V489.0H145.7V489.0H146.0V489.0H146.3V489.0H146.6V489.0H146.9V489.0H147.2V489.0H147.5V489.0H147.8V489.0H148.0V489.0H148.3V489.0H148.6V489.0H148.9V489.0H149.2V489.0H149.5V489.0H149.8V489.0H150.1V489.0H150.4V489.0H150.7V489.0H151.0V489.0H151.3V489.0H151.5V489.0H151.8V489.0H152.1V489.0H152.4V489.0H152.7V489.0H153.0V489.0H153.3V489.0H153.6V489.0H153.9V489.0H154.2V489.0H154.5V489.0H154.7V489.0H155.0V489.0H155.3V489.0H155.6V489.0H155.9V489.0H156.2V489.0H156.5V489.0H156.8V489.0H157.1V489.0H157.4V489.0H157.7V489.0H157.9V489.0H158.2V489.0H158.5V489.0H158.8V489.0H159.1V489.0H159.4V489.0H159.7V489.0H160.0V489.0H160.3V489.0H160.6V489.0H160.9V489.0H161.2V489.0H161.4V489.0H161.7V489.0H162.0V489.0H162.3V489.0H162.6V489.0H162.9V489.0H163.2V489.0H163.5V489.0H163.8V489.0H164.1V489.0H164.4V489.0H164.6V489.0H164.9V489.0H165.2V489.0H165.5V489.0H165.8V489.0H166.1V489.0H166.4V489.0H166.7V489.0H167.0V489.0H167.3V489.0H167.6V489.0H167.8V489.0H168.1V489.0H168.4V489.0H168.7V489.0H169.0V489Z" fill="#1a6aae"/>
<rect x="63.3" y="401.93" width="1.4" height="15.47" fill="#a39079" fill-opacity="1"/>
<rect x="63.3" y="401.36" width="1.4" height="1.29" fill="#6fb36f" fill-opacity="1"/>
<rect x="63.25" y="393.63" width="1.5" height="8.31" fill="#b0d0e8" fill-opacity="1"/>
<rect x="63.25" y="382.17" width="1.5" height="11.46" fill="#fad5ab" fill-opacity="1"/>
<rect x="63.25" y="380.1" width="1.5" height="2.08" fill="#b9deb4" fill-opacity="1"/>
<rect x="32.5" y="374.5" width="143" height="115" fill="none" stroke="#858585" stroke-width="0.75"/>
<line x1="45.4" y1="489" x2="45.4" y2="490.3" stroke="#444" stroke-width="0.45"/>
<text transform="translate(45.4 494.6) scale(0.1)" font-size="36" text-anchor="middle" fill="#000" stroke="#000" stroke-width="0.5">−250</text>
<line x1="63.6" y1="489" x2="63.6" y2="490.3" stroke="#444" stroke-width="0.45"/>
<text transform="translate(63.6 494.6) scale(0.1)" font-size="36" text-anchor="middle" fill="#000" stroke="#000" stroke-width="0.5">0</text>
<line x1="81.8" y1="489" x2="81.8" y2="490.3" stroke="#444" stroke-width="0.45"/>
<text transform="translate(81.8 494.6) scale(0.1)" font-size="36" text-anchor="middle" fill="#000" stroke="#000" stroke-width="0.5">250</text>
<line x1="100" y1="489" x2="100" y2="490.3" stroke="#444" stroke-width="0.45"/>
<text transform="translate(100 494.6) scale(0.1)" font-size="36" text-anchor="middle" fill="#000" stroke="#000" stroke-width="0.5">500</text>
<line x1="118.2" y1="489" x2="118.2" y2="490.3" stroke="#444" stroke-width="0.45"/>
<text transform="translate(118.2 494.6) scale(0.1)" font-size="36" text-anchor="middle" fill="#000" stroke="#000" stroke-width="0.5">750</text>
<line x1="136.4" y1="489" x2="136.4" y2="490.3" stroke="#444" stroke-width="0.45"/>
<text transform="translate(136.4 494.6) scale(0.1)" font-size="36" text-anchor="middle" fill="#000" stroke="#000" stroke-width="0.5">1000</text>
<line x1="154.6" y1="489" x2="154.6" y2="490.3" stroke="#444" stroke-width="0.45"/>
<text transform="translate(154.6 494.6) scale(0.1)" font-size="36" text-anchor="middle" fill="#000" stroke="#000" stroke-width="0.5">1250</text>
<line x1="172.8" y1="489" x2="172.8" y2="490.3" stroke="#444" stroke-width="0.45"/>
<text transform="translate(172.8 494.6) scale(0.1)" font-size="36" text-anchor="middle" fill="#000" stroke="#000" stroke-width="0.5">1500</text>
<line x1="31.1" y1="489" x2="32.4" y2="489" stroke="#444" stroke-width="0.45"/>
<text transform="translate(30.1 490.24) scale(0.1)" font-size="34.5" text-anchor="end" fill="#000" stroke="#000" stroke-width="0.5">0</text>
<line x1="31.1" y1="474.68" x2="32.4" y2="474.68" stroke="#444" stroke-width="0.45"/>
<text transform="translate(30.1 475.92) scale(0.1)" font-size="34.5" text-anchor="end" fill="#000" stroke="#000" stroke-width="0.5">1000</text>
<line x1="31.1" y1="460.36" x2="32.4" y2="460.36" stroke="#444" stroke-width="0.45"/>
<text transform="translate(30.1 461.6) scale(0.1)" font-size="34.5" text-anchor="end" fill="#000" stroke="#000" stroke-width="0.5">2000</text>
<line x1="31.1" y1="446.04" x2="32.4" y2="446.04" stroke="#444" stroke-width="0.45"/>
<text transform="translate(30.1 447.28) scale(0.1)" font-size="34.5" text-anchor="end" fill="#000" stroke="#000" stroke-width="0.5">3000</text>
<line x1="31.1" y1="431.72" x2="32.4" y2="431.72" stroke="#444" stroke-width="0.45"/>
<text transform="translate(30.1 432.96) scale(0.1)" font-size="34.5" text-anchor="end" fill="#000" stroke="#000" stroke-width="0.5">4000</text>
<line x1="31.1" y1="417.4" x2="32.4" y2="417.4" stroke="#444" stroke-width="0.45"/>
<text transform="translate(30.1 418.64) scale(0.1)" font-size="34.5" text-anchor="end" fill="#000" stroke="#000" stroke-width="0.5">5000</text>
<line x1="31.1" y1="403.08" x2="32.4" y2="403.08" stroke="#444" stroke-width="0.45"/>
<text transform="translate(30.1 404.32) scale(0.1)" font-size="34.5" text-anchor="end" fill="#000" stroke="#000" stroke-width="0.5">6000</text>
<line x1="31.1" y1="388.76" x2="32.4" y2="388.76" stroke="#444" stroke-width="0.45"/>
<text transform="translate(30.1 390) scale(0.1)" font-size="34.5" text-anchor="end" fill="#000" stroke="#000" stroke-width="0.5">7000</text>
<clipPath id="ct32"><rect x="-100" y="-29" width="3000" height="59"/></clipPath>
<text transform="translate(31.5 372.7) scale(0.1)" font-size="43.9" text-anchor="start" fill="#000" textLength="1450" lengthAdjust="spacingAndGlyphs" stroke="#000" stroke-width="0.5" clip-path="url(#ct32)">Potassium lab draws and repletion timing relative to pre-repletion lab value</text>
<text transform="translate(103.7 499) scale(0.1)" font-size="36.6" text-anchor="middle" fill="#000" textLength="655" lengthAdjust="spacingAndGlyphs" stroke="#000" stroke-width="0.5">Time since initial lab resulted, in minutes</text>
<text transform="translate(20.6 431.95) rotate(-90) scale(0.1)" font-size="39" text-anchor="middle" fill="#000" stroke="#000" stroke-width="0.5">Number of occurrences</text>
<rect x="114.8" y="376.3" width="58.6" height="16.3" fill="#fff" fill-opacity="0.85" stroke="#ccc" stroke-width="0.5" rx="0.9"/>
<rect x="116.9" y="378.2" width="6.1" height="2.3" fill="#1a6aae"/>
<text transform="translate(126 380.6) scale(0.1)" font-size="36.9" text-anchor="start" fill="#000" textLength="460" lengthAdjust="spacingAndGlyphs" stroke="#000" stroke-width="0.5">Interval to ordering repletion</text>
<rect x="116.9" y="383.25" width="6.1" height="2.3" fill="#ff7a0c"/>
<text transform="translate(126 385.65) scale(0.1)" font-size="36.9" text-anchor="start" fill="#000" textLength="420" lengthAdjust="spacingAndGlyphs" stroke="#000" stroke-width="0.5">Interval to giving repletion</text>
<rect x="116.9" y="388.3" width="6.1" height="2.3" fill="#23912a"/>
<text transform="translate(126 390.7) scale(0.1)" font-size="36.7" text-anchor="start" fill="#000" textLength="445" lengthAdjust="spacingAndGlyphs" stroke="#000" stroke-width="0.5">Interval to ordering next lab</text>
<path d="M207.2 489V489.0H207.5V489.0H207.8V488.9H208.1V488.9H208.4V488.9H208.7V488.9H209.0V488.8H209.3V488.8H209.6V488.8H209.9V488.8H210.2V488.7H210.5V488.7H210.8V488.7H211.1V488.7H211.4V488.6H211.7V488.6H212.0V488.6H212.3V488.5H212.6V488.6H212.9V488.5H213.2V488.5H213.5V488.4H213.9V488.4H214.2V488.4H214.5V488.4H214.8V488.4H215.1V488.4H215.4V488.4H215.7V488.3H216.0V488.3H216.3V488.3H216.6V488.2H216.9V488.2H217.2V488.1H217.5V488.2H217.8V488.2H218.1V488.0H218.4V488.0H218.7V487.9H219.0V488.1H219.3V488.0H219.6V488.0H219.9V487.9H220.2V488.0H220.5V487.9H220.8V487.8H221.1V488.0H221.4V487.8H221.7V487.8H222.0V487.8H222.3V487.9H222.6V487.7H222.9V487.7H223.2V487.5H223.5V487.5H223.8V487.3H224.1V487.4H224.4V487.2H224.7V487.1H225.0V486.9H225.3V487.1H225.6V486.7H225.9V486.7H226.2V486.8H226.6V486.9H226.9V486.7H227.2V486.4H227.5V486.3H227.8V485.7H228.1V485.6H228.4V485.2H228.7V485.6H229.0V485.8H229.3V486.0H229.6V486.2H229.9V486.4H230.2V486.6H230.5V487.0H230.8V487.2H231.1V487.1H231.4V487.4H231.7V487.3H232.0V487.4H232.3V487.5H232.6V427.4H232.9V430.4H233.2V429.4H233.5V429.7H233.8V427.3H234.1V428.5H234.4V433.8H234.7V437.7H235.0V437.6H235.3V441.9H235.6V442.6H235.9V441.1H236.2V442.8H236.5V442.2H236.8V441.5H237.1V440.4H237.4V441.2H237.7V441.0H238.0V443.4H238.3V445.5H238.6V445.2H239.0V445.3H239.3V448.1H239.6V445.9H239.9V448.6H240.2V448.3H240.5V450.1H240.8V449.1H241.1V449.7H241.4V449.8H241.7V451.2H242.0V450.7H242.3V452.8H242.6V452.6H242.9V451.1H243.2V453.4H243.5V453.1H243.8V452.8H244.1V452.8H244.4V455.4H244.7V454.8H245.0V454.6H245.3V454.6H245.6V456.2H245.9V456.3H246.2V456.6H246.5V458.2H246.8V458.7H247.1V458.0H247.4V460.2H247.7V460.4H248.0V460.8H248.3V461.2H248.6V461.6H248.9V463.4H249.2V462.7H249.5V463.6H249.8V463.5H250.1V465.6H250.4V465.3H250.7V465.2H251.0V465.7H251.3V466.5H251.7V466.9H252.0V468.2H252.3V467.9H252.6V468.6H252.9V468.4H253.2V469.0H253.5V469.4H253.8V470.0H254.1V469.8H254.4V470.0H254.7V471.2H255.0V471.0H255.3V472.4H255.6V472.7H255.9V472.9H256.2V473.4H256.5V473.4H256.8V473.8H257.1V474.3H257.4V474.3H257.7V474.5H258.0V475.7H258.3V475.7H258.6V475.5H258.9V476.1H259.2V476.6H259.5V476.9H259.8V477.2H260.1V477.3H260.4V477.3H260.7V477.9H261.0V477.6H261.3V478.1H261.6V478.5H261.9V478.7H262.2V478.8H262.5V478.9H262.8V479.1H263.1V479.2H263.4V479.3H263.7V479.6H264.0V479.5H264.4V480.0H264.7V480.1H265.0V480.0H265.3V480.7H265.6V480.6H265.9V480.4H266.2V481.0H266.5V480.9H266.8V481.0H267.1V480.9H267.4V481.4H267.7V481.4H268.0V481.6H268.3V481.6H268.6V481.7H268.9V481.7H269.2V482.0H269.5V481.7H269.8V482.0H270.1V481.8H270.4V481.9H270.7V481.9H271.0V481.8H271.3V481.8H271.6V481.6H271.9V481.6H272.2V481.7H272.5V481.7H272.8V481.3H273.1V480.6H273.4V480.9H273.7V480.3H274.0V480.2H274.3V480.0H274.6V479.6H274.9V479.4H275.2V478.7H275.5V478.9H275.8V478.7H276.1V478.5H276.4V477.9H276.8V477.6H277.1V478.1H277.4V477.9H277.7V477.7H278.0V477.0H278.3V476.6H278.6V476.5H278.9V476.8H279.2V476.5H279.5V476.0H279.8V475.6H280.1V475.6H280.4V474.8H280.7V475.1H281.0V476.1H281.3V475.8H281.6V475.1H281.9V475.8H282.2V474.8H282.5V475.5H282.8V475.1H283.1V475.7H283.4V475.0H283.7V474.7H284.0V474.5H284.3V475.2H284.6V473.6H284.9V472.9H285.2V473.0H285.5V474.5H285.8V474.8H286.1V473.2H286.4V472.1H286.7V473.8H287.0V473.3H287.3V472.3H287.6V473.5H287.9V472.9H288.2V474.8H288.5V473.9H288.8V473.2H289.1V474.4H289.5V473.0H289.8V474.5H290.1V473.8H290.4V475.4H290.7V476.0H291.0V475.2H291.3V477.1H291.6V476.3H291.9V476.8H292.2V476.8H292.5V477.3H292.8V477.4H293.1V479.4H293.4V478.3H293.7V478.3H294.0V478.4H294.3V479.6H294.6V479.2H294.9V479.6H295.2V479.5H295.5V480.4H295.8V480.3H296.1V481.5H296.4V480.9H296.7V480.7H297.0V481.0H297.3V482.6H297.6V482.2H297.9V482.4H298.2V482.0H298.5V482.8H298.8V482.9H299.1V483.3H299.4V483.5H299.7V483.3H300.0V483.7H300.3V484.0H300.6V484.4H300.9V484.3H301.2V484.7H301.5V484.7H301.8V484.7H302.2V484.9H302.5V485.2H302.8V485.4H303.1V485.6H303.4V485.7H303.7V485.9H304.0V486.0H304.3V486.0H304.6V486.3H304.9V486.2H305.2V486.4H305.5V486.5H305.8V486.7H306.1V486.6H306.4V486.7H306.7V487.0H307.0V486.8H307.3V487.1H307.6V487.1H307.9V487.2H308.2V487.1H308.5V487.4H308.8V487.2H309.1V487.2H309.4V487.3H309.7V487.4H310.0V487.4H310.3V487.3H310.6V487.3H310.9V487.4H311.2V487.2H311.5V487.2H311.8V487.4H312.1V487.5H312.4V487.3H312.7V487.4H313.0V487.5H313.3V487.4H313.6V487.4H313.9V487.5H314.2V487.5H314.6V487.5H314.9V487.4H315.2V487.4H315.5V487.4H315.8V487.3H316.1V487.2H316.4V487.1H316.7V487.3H317.0V487.2H317.3V487.1H317.6V487.2H317.9V487.0H318.2V486.8H318.5V486.9H318.8V486.6H319.1V486.7H319.4V486.6H319.7V486.4H320.0V486.4H320.3V486.5H320.6V486.5H320.9V486.4H321.2V486.2H321.5V486.1H321.8V485.9H322.1V485.9H322.4V486.2H322.7V485.8H323.0V485.7H323.3V485.7H323.6V485.8H323.9V485.2H324.2V485.5H324.5V485.5H324.8V485.4H325.1V485.2H325.4V485.1H325.7V484.9H326.0V485.2H326.3V485.2H326.6V484.7H326.9V484.7H327.3V484.5H327.6V484.6H327.9V484.4H328.2V484.1H328.5V484.6H328.8V484.6H329.1V484.1H329.4V484.5H329.7V483.9H330.0V484.4H330.3V484.0H330.6V484.4H330.9V484.2H331.2V483.9H331.5V483.7H331.8V484.2H332.1V484.0H332.4V483.8H332.7V484.2H333.0V484.6H333.3V484.4H333.6V484.0H333.9V484.2H334.2V484.2H334.5V484.7H334.8V484.6H335.1V484.7H335.4V484.8H335.7V485.0H336.0V484.5H336.3V484.7H336.6V485.2H336.9V485.0H337.2V485.3H337.5V485.4H337.8V485.2H338.1V485.7H338.4V485.6H338.7V485.8H339.0V485.8H339.3V485.8H339.6V486.0H340.0V486.4H340.3V486.3H340.6V486.4H340.9V486.4H341.2V486.7H341.5V489.0H341.8V489.0H342.1V489Z" fill="#23912a"/>
<path d="M207.2 489V489.0H207.5V489.0H207.8V489.0H208.1V489.0H208.4V489.0H208.7V489.0H209.0V489.0H209.3V489.0H209.6V489.0H209.9V489.0H210.2V489.0H210.5V489.0H210.8V489.0H211.1V489.0H211.4V489.0H211.7V489.0H212.0V489.0H212.3V489.0H212.6V489.0H212.9V489.0H213.2V489.0H213.5V489.0H213.9V489.0H214.2V489.0H214.5V489.0H214.8V489.0H215.1V489.0H215.4V489.0H215.7V489.0H216.0V489.0H216.3V489.0H216.6V489.0H216.9V489.0H217.2V489.0H217.5V489.0H217.8V489.0H218.1V489.0H218.4V489.0H218.7V489.0H219.0V489.0H219.3V489.0H219.6V489.0H219.9V489.0H220.2V489.0H220.5V489.0H220.8V489.0H221.1V489.0H221.4V489.0H221.7V489.0H222.0V489.0H222.3V489.0H222.6V489.0H222.9V489.0H223.2V489.0H223.5V489.0H223.8V489.0H224.1V489.0H224.4V489.0H224.7V489.0H225.0V489.0H225.3V489.0H225.6V489.0H225.9V489.0H226.2V489.0H226.6V489.0H226.9V489.0H227.2V489.0H227.5V489.0H227.8V489.0H228.1V489.0H228.4V489.0H228.7V489.0H229.0V489.0H229.3V489.0H229.6V489.0H229.9V489.0H230.2V489.0H230.5V489.0H230.8V489.0H231.1V489.0H231.4V489.0H231.7V489.0H232.0V489.0H232.3V489.0H232.6V427.4H232.9V430.8H233.2V429.5H233.5V429.7H233.8V428.6H234.1V431.0H234.4V438.6H234.7V441.7H235.0V440.6H235.3V445.2H235.6V446.0H235.9V444.1H236.2V443.8H236.5V442.9H236.8V442.0H237.1V441.5H237.4V443.7H237.7V443.8H238.0V445.8H238.3V447.7H238.6V446.7H239.0V447.0H239.3V449.9H239.6V448.0H239.9V450.8H240.2V450.9H240.5V452.6H240.8V451.6H241.1V452.3H241.4V452.4H241.7V453.7H242.0V453.0H242.3V455.3H242.6V455.1H242.9V453.8H243.2V455.8H243.5V455.6H243.8V455.2H244.1V455.3H244.4V457.8H244.7V457.2H245.0V457.2H245.3V457.0H245.6V458.9H245.9V459.1H246.2V459.5H246.5V460.9H246.8V461.6H247.1V461.1H247.4V463.2H247.7V463.8H248.0V463.5H248.3V464.2H248.6V464.5H248.9V465.8H249.2V465.4H249.5V466.5H249.8V466.3H250.1V468.0H250.4V467.8H250.7V467.7H251.0V468.4H251.3V469.0H251.7V469.2H252.0V470.8H252.3V470.2H252.6V471.0H252.9V471.0H253.2V471.4H253.5V472.0H253.8V472.5H254.1V472.4H254.4V472.7H254.7V473.8H255.0V473.7H255.3V475.0H255.6V475.1H255.9V475.3H256.2V475.9H256.5V475.7H256.8V476.0H257.1V476.4H257.4V476.4H257.7V476.5H258.0V477.4H258.3V477.5H258.6V477.5H258.9V477.9H259.2V478.2H259.5V478.5H259.8V478.8H260.1V478.8H260.4V478.9H260.7V479.4H261.0V479.1H261.3V479.6H261.6V480.0H261.9V480.1H262.2V480.3H262.5V480.4H262.8V480.6H263.1V480.6H263.4V480.9H263.7V481.0H264.0V480.9H264.4V481.5H264.7V481.4H265.0V481.5H265.3V482.0H265.6V482.1H265.9V481.9H266.2V482.4H266.5V482.4H266.8V482.5H267.1V482.4H267.4V482.8H267.7V482.9H268.0V483.1H268.3V483.3H268.6V483.5H268.9V483.5H269.2V483.8H269.5V483.7H269.8V483.9H270.1V484.1H270.4V484.4H270.7V484.4H271.0V484.6H271.3V484.7H271.6V484.6H271.9V484.7H272.2V484.9H272.5V485.0H272.8V485.0H273.1V485.1H273.4V485.2H273.7V485.4H274.0V485.5H274.3V485.6H274.6V485.7H274.9V485.7H275.2V485.7H275.5V485.9H275.8V485.9H276.1V485.9H276.4V486.0H276.8V486.0H277.1V486.2H277.4V486.1H277.7V486.3H278.0V486.3H278.3V486.4H278.6V486.4H278.9V486.6H279.2V486.4H279.5V486.6H279.8V486.7H280.1V486.8H280.4V486.8H280.7V486.8H281.0V486.8H281.3V486.9H281.6V487.0H281.9V487.0H282.2V487.0H282.5V487.0H282.8V487.1H283.1V487.1H283.4V487.2H283.7V487.2H284.0V487.2H284.3V487.3H284.6V487.3H284.9V487.3H285.2V487.4H285.5V487.4H285.8V487.5H286.1V487.5H286.4V487.5H286.7V487.7H287.0V487.6H287.3V487.6H287.6V487.6H287.9V487.6H288.2V487.7H288.5V487.7H288.8V487.7H289.1V487.8H289.5V487.8H289.8V487.9H290.1V487.9H290.4V487.9H290.7V487.9H291.0V487.9H291.3V488.0H291.6V488.0H291.9V488.0H292.2V488.0H292.5V488.0H292.8V488.1H293.1V488.0H293.4V488.1H293.7V488.1H294.0V488.1H294.3V488.1H294.6V488.1H294.9V488.2H295.2V488.2H295.5V488.2H295.8V488.2H296.1V488.2H296.4V488.3H296.7V488.3H297.0V488.3H297.3V488.3H297.6V488.4H297.9V488.3H298.2V488.4H298.5V488.4H298.8V488.4H299.1V488.4H299.4V488.4H299.7V488.4H300.0V488.5H300.3V488.5H300.6V488.5H300.9V488.5H301.2V488.5H301.5V488.6H301.8V488.6H302.2V488.6H302.5V488.6H302.8V488.6H303.1V488.6H303.4V488.6H303.7V488.7H304.0V488.7H304.3V488.7H304.6V488.7H304.9V488.7H305.2V488.7H305.5V488.7H305.8V488.7H306.1V488.8H306.4V488.8H306.7V488.8H307.0V488.8H307.3V488.8H307.6V488.8H307.9V488.8H308.2V488.9H308.5V488.9H308.8V488.9H309.1V488.9H309.4V488.9H309.7V488.9H310.0V488.9H310.3V488.9H310.6V488.9H310.9V488.9H311.2V488.9H311.5V488.9H311.8V488.9H312.1V488.9H312.4V488.9H312.7V488.9H313.0V489.0H313.3V489.0H313.6V489.0H313.9V489.0H314.2V489.0H314.6V489.0H314.9V489.0H315.2V489.0H315.5V489.0H315.8V489.0H316.1V489.0H316.4V489.0H316.7V489.0H317.0V489.0H317.3V489.0H317.6V489.0H317.9V489.0H318.2V489.0H318.5V489.0H318.8V489.0H319.1V489.0H319.4V489.0H319.7V489.0H320.0V489.0H320.3V489.0H320.6V489.0H320.9V489.0H321.2V489.0H321.5V489.0H321.8V489.0H322.1V489.0H322.4V489.0H322.7V489.0H323.0V489.0H323.3V489.0H323.6V489.0H323.9V489.0H324.2V489.0H324.5V489.0H324.8V489.0H325.1V489.0H325.4V489.0H325.7V489.0H326.0V489.0H326.3V489.0H326.6V489.0H326.9V489.0H327.3V489.0H327.6V489.0H327.9V489.0H328.2V489.0H328.5V489.0H328.8V489.0H329.1V489.0H329.4V489.0H329.7V489.0H330.0V489.0H330.3V489.0H330.6V489.0H330.9V489.0H331.2V489.0H331.5V489.0H331.8V489.0H332.1V489.0H332.4V489.0H332.7V489.0H333.0V489.0H333.3V489.0H333.6V489.0H333.9V489.0H334.2V489.0H334.5V489.0H334.8V489.0H335.1V489.0H335.4V489.0H335.7V489.0H336.0V489.0H336.3V489.0H336.6V489.0H336.9V489.0H337.2V489.0H337.5V489.0H337.8V489.0H338.1V489.0H338.4V489.0H338.7V489.0H339.0V489.0H339.3V489.0H339.6V489.0H340.0V489.0H340.3V489.0H340.6V489.0H340.9V489.0H341.2V489.0H341.5V489.0H341.8V489.0H342.1V489Z" fill="#ff7a0c"/>
<path d="M207.2 489V489.0H207.5V489.0H207.8V489.0H208.1V489.0H208.4V489.0H208.7V489.0H209.0V489.0H209.3V489.0H209.6V489.0H209.9V489.0H210.2V489.0H210.5V489.0H210.8V489.0H211.1V489.0H211.4V489.0H211.7V489.0H212.0V489.0H212.3V489.0H212.6V489.0H212.9V489.0H213.2V489.0H213.5V489.0H213.9V489.0H214.2V489.0H214.5V489.0H214.8V489.0H215.1V489.0H215.4V489.0H215.7V489.0H216.0V489.0H216.3V489.0H216.6V489.0H216.9V489.0H217.2V489.0H217.5V489.0H217.8V489.0H218.1V489.0H218.4V489.0H218.7V489.0H219.0V489.0H219.3V489.0H219.6V489.0H219.9V489.0H220.2V489.0H220.5V489.0H220.8V489.0H221.1V489.0H221.4V489.0H221.7V489.0H222.0V489.0H222.3V489.0H222.6V489.0H222.9V489.0H223.2V489.0H223.5V489.0H223.8V489.0H224.1V489.0H224.4V489.0H224.7V489.0H225.0V489.0H225.3V489.0H225.6V489.0H225.9V489.0H226.2V489.0H226.6V489.0H226.9V489.0H227.2V489.0H227.5V489.0H227.8V489.0H228.1V489.0H228.4V489.0H228.7V489.0H229.0V489.0H229.3V489.0H229.6V489.0H229.9V489.0H230.2V489.0H230.5V489.0H230.8V489.0H231.1V489.0H231.4V489.0H231.7V489.0H232.0V489.0H232.3V489.0H232.6V427.4H232.9V430.8H233.2V429.5H233.5V429.7H233.8V432.1H234.1V444.4H234.4V448.1H234.7V450.9H235.0V450.6H235.3V455.7H235.6V456.8H235.9V457.4H236.2V459.4H236.5V460.2H236.8V461.7H237.1V461.1H237.4V463.8H237.7V463.8H238.0V465.6H238.3V466.2H238.6V465.7H239.0V467.6H239.3V468.6H239.6V468.5H239.9V470.0H240.2V469.8H240.5V471.7H240.8V471.8H241.1V472.6H241.4V473.5H241.7V473.0H242.0V474.1H242.3V474.7H242.6V474.7H242.9V475.1H243.2V475.9H243.5V476.4H243.8V476.1H244.1V476.7H244.4V477.8H244.7V477.6H245.0V478.1H245.3V478.2H245.6V478.4H245.9V478.9H246.2V479.2H246.5V479.4H246.8V479.8H247.1V479.3H247.4V480.4H247.7V480.4H248.0V480.8H248.3V481.0H248.6V481.1H248.9V481.8H249.2V481.5H249.5V481.9H249.8V481.6H250.1V482.3H250.4V482.4H250.7V481.9H251.0V482.5H251.3V482.4H251.7V482.9H252.0V483.2H252.3V483.1H252.6V483.3H252.9V483.6H253.2V483.6H253.5V483.7H253.8V483.9H254.1V484.1H254.4V484.1H254.7V484.4H255.0V484.1H255.3V484.5H255.6V484.4H255.9V484.6H256.2V484.7H256.5V484.6H256.8V484.8H257.1V485.0H257.4V485.1H257.7V484.9H258.0V485.2H258.3V485.3H258.6V485.6H258.9V485.5H259.2V485.5H259.5V485.7H259.8V485.7H260.1V485.8H260.4V485.9H260.7V486.0H261.0V486.0H261.3V486.2H261.6V486.3H261.9V486.2H262.2V486.3H262.5V486.4H262.8V486.5H263.1V486.6H263.4V486.7H263.7V486.8H264.0V486.8H264.4V486.8H264.7V486.9H265.0V487.0H265.3V487.0H265.6V487.0H265.9V487.0H266.2V487.2H266.5V487.2H266.8V487.2H267.1V487.3H267.4V487.3H267.7V487.3H268.0V487.4H268.3V487.4H268.6V487.5H268.9V487.5H269.2V487.5H269.5V487.6H269.8V487.6H270.1V487.7H270.4V487.7H270.7V487.7H271.0V487.8H271.3V487.8H271.6V487.9H271.9V487.8H272.2V487.9H272.5V488.0H272.8V488.0H273.1V488.0H273.4V488.1H273.7V488.1H274.0V488.2H274.3V488.2H274.6V488.2H274.9V488.2H275.2V488.2H275.5V488.3H275.8V488.3H276.1V488.3H276.4V488.3H276.8V488.3H277.1V488.4H277.4V488.4H277.7V488.4H278.0V488.4H278.3V488.4H278.6V488.4H278.9V488.5H279.2V488.5H279.5V488.5H279.8V488.5H280.1V488.5H280.4V488.5H280.7V488.5H281.0V488.6H281.3V488.6H281.6V488.6H281.9V488.6H282.2V488.6H282.5V488.6H282.8V488.7H283.1V488.7H283.4V488.7H283.7V488.7H284.0V488.7H284.3V488.7H284.6V488.7H284.9V488.7H285.2V488.8H285.5V488.8H285.8V488.8H286.1V488.8H286.4V488.8H286.7V488.8H287.0V488.8H287.3V488.8H287.6V488.9H287.9V488.9H288.2V488.9H288.5V488.9H288.8V488.9H289.1V488.9H289.5V488.9H289.8V488.9H290.1V488.9H290.4V489.0H290.7V489.0H291.0V489.0H291.3V489.0H291.6V489.0H291.9V489.0H292.2V489.0H292.5V489.0H292.8V489.0H293.1V489.0H293.4V489.0H293.7V489.0H294.0V489.0H294.3V489.0H294.6V489.0H294.9V489.0H295.2V489.0H295.5V489.0H295.8V489.0H296.1V489.0H296.4V489.0H296.7V489.0H297.0V489.0H297.3V489.0H297.6V489.0H297.9V489.0H298.2V489.0H298.5V489.0H298.8V489.0H299.1V489.0H299.4V489.0H299.7V489.0H300.0V489.0H300.3V489.0H300.6V489.0H300.9V489.0H301.2V489.0H301.5V489.0H301.8V489.0H302.2V489.0H302.5V489.0H302.8V489.0H303.1V489.0H303.4V489.0H303.7V489.0H304.0V489.0H304.3V489.0H304.6V489.0H304.9V489.0H305.2V489.0H305.5V489.0H305.8V489.0H306.1V489.0H306.4V489.0H306.7V489.0H307.0V489.0H307.3V489.0H307.6V489.0H307.9V489.0H308.2V489.0H308.5V489.0H308.8V489.0H309.1V489.0H309.4V489.0H309.7V489.0H310.0V489.0H310.3V489.0H310.6V489.0H310.9V489.0H311.2V489.0H311.5V489.0H311.8V489.0H312.1V489.0H312.4V489.0H312.7V489.0H313.0V489.0H313.3V489.0H313.6V489.0H313.9V489.0H314.2V489.0H314.6V489.0H314.9V489.0H315.2V489.0H315.5V489.0H315.8V489.0H316.1V489.0H316.4V489.0H316.7V489.0H317.0V489.0H317.3V489.0H317.6V489.0H317.9V489.0H318.2V489.0H318.5V489.0H318.8V489.0H319.1V489.0H319.4V489.0H319.7V489.0H320.0V489.0H320.3V489.0H320.6V489.0H320.9V489.0H321.2V489.0H321.5V489.0H321.8V489.0H322.1V489.0H322.4V489.0H322.7V489.0H323.0V489.0H323.3V489.0H323.6V489.0H323.9V489.0H324.2V489.0H324.5V489.0H324.8V489.0H325.1V489.0H325.4V489.0H325.7V489.0H326.0V489.0H326.3V489.0H326.6V489.0H326.9V489.0H327.3V489.0H327.6V489.0H327.9V489.0H328.2V489.0H328.5V489.0H328.8V489.0H329.1V489.0H329.4V489.0H329.7V489.0H330.0V489.0H330.3V489.0H330.6V489.0H330.9V489.0H331.2V489.0H331.5V489.0H331.8V489.0H332.1V489.0H332.4V489.0H332.7V489.0H333.0V489.0H333.3V489.0H333.6V489.0H333.9V489.0H334.2V489.0H334.5V489.0H334.8V489.0H335.1V489.0H335.4V489.0H335.7V489.0H336.0V489.0H336.3V489.0H336.6V489.0H336.9V489.0H337.2V489.0H337.5V489.0H337.8V489.0H338.1V489.0H338.4V489.0H338.7V489.0H339.0V489.0H339.3V489.0H339.6V489.0H340.0V489.0H340.3V489.0H340.6V489.0H340.9V489.0H341.2V489.0H341.5V489.0H341.8V489.0H342.1V489Z" fill="#1a6aae"/>
<rect x="232.44" y="421.08" width="1.3" height="7.32" fill="#5d86a6" fill-opacity="1"/>
<rect x="232.44" y="414.51" width="1.3" height="6.56" fill="#a39079" fill-opacity="1"/>
<rect x="232.44" y="412.75" width="1.3" height="1.77" fill="#6fb36f" fill-opacity="1"/>
<rect x="232.39" y="388.2" width="1.4" height="24.54" fill="#b0d0e8" fill-opacity="1"/>
<rect x="232.39" y="382.19" width="1.4" height="6.01" fill="#fad5ab" fill-opacity="1"/>
<rect x="232.39" y="380.1" width="1.4" height="2.1" fill="#b9deb4" fill-opacity="1"/>
<rect x="200.5" y="374.5" width="148" height="115" fill="none" stroke="#858585" stroke-width="0.75"/>
<line x1="213.7" y1="489" x2="213.7" y2="490.3" stroke="#444" stroke-width="0.45"/>
<text transform="translate(213.7 494.6) scale(0.1)" font-size="36" text-anchor="middle" fill="#000" stroke="#000" stroke-width="0.5">−250</text>
<line x1="232.6" y1="489" x2="232.6" y2="490.3" stroke="#444" stroke-width="0.45"/>
<text transform="translate(232.6 494.6) scale(0.1)" font-size="36" text-anchor="middle" fill="#000" stroke="#000" stroke-width="0.5">0</text>
<line x1="251.5" y1="489" x2="251.5" y2="490.3" stroke="#444" stroke-width="0.45"/>
<text transform="translate(251.5 494.6) scale(0.1)" font-size="36" text-anchor="middle" fill="#000" stroke="#000" stroke-width="0.5">250</text>
<line x1="270.4" y1="489" x2="270.4" y2="490.3" stroke="#444" stroke-width="0.45"/>
<text transform="translate(270.4 494.6) scale(0.1)" font-size="36" text-anchor="middle" fill="#000" stroke="#000" stroke-width="0.5">500</text>
<line x1="289.3" y1="489" x2="289.3" y2="490.3" stroke="#444" stroke-width="0.45"/>
<text transform="translate(289.3 494.6) scale(0.1)" font-size="36" text-anchor="middle" fill="#000" stroke="#000" stroke-width="0.5">750</text>
<line x1="308.2" y1="489" x2="308.2" y2="490.3" stroke="#444" stroke-width="0.45"/>
<text transform="translate(308.2 494.6) scale(0.1)" font-size="36" text-anchor="middle" fill="#000" stroke="#000" stroke-width="0.5">1000</text>
<line x1="327.1" y1="489" x2="327.1" y2="490.3" stroke="#444" stroke-width="0.45"/>
<text transform="translate(327.1 494.6) scale(0.1)" font-size="36" text-anchor="middle" fill="#000" stroke="#000" stroke-width="0.5">1250</text>
<line x1="346" y1="489" x2="346" y2="490.3" stroke="#444" stroke-width="0.45"/>
<text transform="translate(346 494.6) scale(0.1)" font-size="36" text-anchor="middle" fill="#000" stroke="#000" stroke-width="0.5">1500</text>
<line x1="198.7" y1="489" x2="200" y2="489" stroke="#444" stroke-width="0.45"/>
<text transform="translate(197.7 490.24) scale(0.1)" font-size="34.5" text-anchor="end" fill="#000" stroke="#000" stroke-width="0.5">0</text>
<line x1="198.7" y1="463.75" x2="200" y2="463.75" stroke="#444" stroke-width="0.45"/>
<text transform="translate(197.7 464.99) scale(0.1)" font-size="34.5" text-anchor="end" fill="#000" stroke="#000" stroke-width="0.5">10000</text>
<line x1="198.7" y1="438.5" x2="200" y2="438.5" stroke="#444" stroke-width="0.45"/>
<text transform="translate(197.7 439.74) scale(0.1)" font-size="34.5" text-anchor="end" fill="#000" stroke="#000" stroke-width="0.5">20000</text>
<line x1="198.7" y1="413.25" x2="200" y2="413.25" stroke="#444" stroke-width="0.45"/>
<text transform="translate(197.7 414.49) scale(0.1)" font-size="34.5" text-anchor="end" fill="#000" stroke="#000" stroke-width="0.5">30000</text>
<line x1="198.7" y1="388" x2="200" y2="388" stroke="#444" stroke-width="0.45"/>
<text transform="translate(197.7 389.24) scale(0.1)" font-size="34.5" text-anchor="end" fill="#000" stroke="#000" stroke-width="0.5">40000</text>
<clipPath id="ct200"><rect x="-100" y="-50" width="3000" height="80"/></clipPath>
<text transform="translate(197.6 372.7) scale(0.1)" font-size="45.7" text-anchor="start" fill="#000" textLength="1532" lengthAdjust="spacingAndGlyphs" stroke="#000" stroke-width="0.5" clip-path="url(#ct200)">Magnesium lab draws and repletion timing relative to pre-repletion lab value</text>
<text transform="translate(274.3 499) scale(0.1)" font-size="36.6" text-anchor="middle" fill="#000" textLength="655" lengthAdjust="spacingAndGlyphs" stroke="#000" stroke-width="0.5">Time since initial lab resulted, in minutes</text>
<text transform="translate(188 431.75) rotate(-90) scale(0.1)" font-size="39" text-anchor="middle" fill="#000" stroke="#000" stroke-width="0.5">Number of occurrences</text>
<rect x="286.4" y="376.3" width="60" height="16.6" fill="#fff" fill-opacity="0.85" stroke="#ccc" stroke-width="0.5" rx="0.9"/>
<rect x="288.5" y="378.2" width="6.1" height="2.3" fill="#1a6aae"/>
<text transform="translate(297.6 380.6) scale(0.1)" font-size="36.9" text-anchor="start" fill="#000" textLength="460" lengthAdjust="spacingAndGlyphs" stroke="#000" stroke-width="0.5">Interval to ordering repletion</text>
<rect x="288.5" y="383.25" width="6.1" height="2.3" fill="#ff7a0c"/>
<text transform="translate(297.6 385.65) scale(0.1)" font-size="36.9" text-anchor="start" fill="#000" textLength="420" lengthAdjust="spacingAndGlyphs" stroke="#000" stroke-width="0.5">Interval to giving repletion</text>
<rect x="288.5" y="388.3" width="6.1" height="2.3" fill="#23912a"/>
<text transform="translate(297.6 390.7) scale(0.1)" font-size="36.7" text-anchor="start" fill="#000" textLength="445" lengthAdjust="spacingAndGlyphs" stroke="#000" stroke-width="0.5">Interval to ordering next lab</text>
<path d="M376.04 488.5V481.4H376.3V482.6H376.6V484.4H376.9V484.7H377.2V483.6H377.5V484.8H377.8V484.5H378.1V485.8H378.4V485.2H378.7V485.6H379.0V486.8H379.2V486.4H379.5V485.7H379.8V487.1H380.1V485.8H380.4V486.4H380.7V486.3H381.0V485.0H381.3V486.3H381.6V484.7H381.9V483.6H382.2V485.2H382.4V485.3H382.7V484.7H383.0V484.6H383.3V485.9H383.6V487.8H383.9V484.0H384.2V484.2H384.5V485.7H384.8V484.8H385.1V485.8H385.4V486.7H385.6V485.6H385.9V485.4H386.2V487.0H386.5V484.5H386.8V486.0H387.1V485.7H387.4V485.7H387.7V483.6H388.0V484.1H388.3V485.2H388.6V484.2H388.9V483.7H389.1V485.4H389.4V483.5H389.7V484.4H390.0V485.5H390.3V484.3H390.6V483.5H390.9V485.9H391.2V482.7H391.5V482.8H391.8V482.9H392.1V482.6H392.3V481.7H392.6V483.6H392.9V480.8H393.2V483.0H393.5V481.9H393.8V486.4H394.1V479.5H394.4V478.1H394.7V474.2H395.0V464.7H395.3V469.3H395.5V471.8H395.8V483.1H396.1V477.3H396.4V474.8H396.7V470.4H397.0V477.0H397.3V464.8H397.6V467.4H397.9V480.7H398.2V482.6H398.5V469.1H398.8V483.0H399.0V464.6H399.3V468.6H399.6V483.0H399.9V450.5H400.2V457.8H400.5V388.1H400.8V402.7H401.1V413.6H401.4V403.1H401.7V413.0H402.0V417.3H402.2V381.4H402.5V395.9H402.8V410.0H403.1V403.7H403.4V425.9H403.7V411.4H404.0V406.6H404.3V430.6H404.6V420.7H404.9V424.9H405.2V426.3H405.5V440.8H405.7V443.2H406.0V439.7H406.3V443.6H406.6V434.3H406.9V441.9H407.2V443.4H407.5V441.6H407.8V441.4H408.1V444.0H408.4V451.9H408.7V437.2H408.9V447.4H409.2V457.8H409.5V448.5H409.8V456.5H410.1V453.9H410.4V453.2H410.7V440.9H411.0V458.2H411.3V450.3H411.6V459.0H411.9V457.3H412.1V458.2H412.4V463.6H412.7V464.9H413.0V460.3H413.3V455.8H413.6V466.7H413.9V473.8H414.2V468.1H414.5V464.8H414.8V469.8H415.1V469.0H415.4V465.7H415.6V462.9H415.9V471.0H416.2V466.7H416.5V476.2H416.8V466.6H417.1V469.3H417.4V470.8H417.7V468.8H418.0V475.3H418.3V471.9H418.6V475.4H418.8V471.0H419.1V477.4H419.4V475.5H419.7V476.6H420.0V476.3H420.3V477.9H420.6V475.9H420.9V476.4H421.2V478.8H421.5V474.5H421.8V471.8H422.0V475.4H422.3V473.9H422.6V472.4H422.9V474.8H423.2V474.9H423.5V473.8H423.8V476.4H424.1V474.7H424.4V480.4H424.7V476.0H425.0V476.2H425.3V476.5H425.5V481.1H425.8V479.2H426.1V474.5H426.4V476.7H426.7V480.5H427.0V472.8H427.3V476.2H427.6V477.0H427.9V475.3H428.2V479.0H428.5V479.9H428.7V479.9H429.0V480.8H429.3V476.9H429.6V476.9H429.9V477.9H430.2V483.1H430.5V472.2H430.8V474.7H431.1V476.9H431.4V481.2H431.7V479.9H431.9V478.1H432.2V486.0H432.5V482.5H432.8V475.3H433.1V479.6H433.4V481.0H433.7V470.2H434.0V481.0H434.3V479.4H434.6V480.3H434.9V483.1H435.2V478.7H435.4V478.0H435.7V480.0H436.0V484.4H436.3V480.1H436.6V479.5H436.9V474.1H437.2V481.0H437.5V481.7H437.8V476.1H438.1V476.9H438.4V481.4H438.6V481.4H438.9V482.5H439.2V482.2H439.5V478.6H439.8V480.0H440.1V477.7H440.4V480.0H440.7V479.4H441.0V473.4H441.3V472.6H441.6V479.8H441.9V479.7H442.1V477.8H442.4V482.7H442.7V481.1H443.0V485.1H443.3V481.6H443.6V479.3H443.9V483.8H444.2V479.0H444.5V480.8H444.8V481.5H445.1V475.2H445.3V481.5H445.6V478.3H445.9V475.0H446.2V480.1H446.5V480.6H446.8V476.6H447.1V476.4H447.4V479.0H447.7V480.5H448.0V487.2H448.3V477.8H448.5V482.8H448.8V479.0H449.1V481.8H449.4V475.5H449.7V475.1H450.0V483.0H450.3V480.7H450.6V485.2H450.9V485.2H451.2V481.9H451.5V485.7H451.8V478.5H452.0V481.3H452.3V480.0H452.6V483.4H452.9V484.7H453.2V482.9H453.5V482.3H453.8V486.0H454.1V476.5H454.4V479.7H454.7V480.7H455.0V485.2H455.2V479.0H455.5V482.1H455.8V482.1H456.1V476.6H456.4V482.4H456.7V480.2H457.0V486.2H457.3V484.3H457.6V487.5H457.9V479.7H458.2V486.1H458.4V484.1H458.7V478.7H459.0V485.3H459.3V480.0H459.6V483.5H459.9V478.3H460.2V480.5H460.5V485.7H460.8V484.2H461.1V485.1H461.4V483.4H461.7V487.0H461.9V486.0H462.2V486.6H462.5V485.1H462.8V482.2H463.1V484.5H463.4V483.9H463.7V484.2H464.0V482.0H464.3V481.5H464.6V484.9H464.9V483.7H465.1V486.9H465.4V486.0H465.7V483.5H466.0V484.8H466.3V486.4H466.6V483.8H466.9V483.7H467.2V485.8H467.5V484.0H467.8V482.7H468.1V486.6H468.3V482.7H468.6V485.9H468.9V485.8H469.2V484.7H469.5V485.4H469.8V485.9H470.1V487.3H470.4V482.3H470.7V484.1H471.0V486.0H471.3V480.8H471.6V482.7H471.8V486.0H472.1V484.2H472.4V487.2H472.7V484.7H473.0V483.8H473.3V484.6H473.6V483.5H473.9V484.0H474.2V485.0H474.5V482.0H474.8V483.3H475.0V487.0H475.3V483.7H475.6V485.3H475.9V482.7H476.2V483.6H476.5V486.1H476.8V482.5H477.1V484.2H477.4V486.0H477.7V484.7H478.0V481.7H478.3V484.8H478.5V485.3H478.8V483.9H479.1V485.2H479.4V483.8H479.7V486.1H480.0V482.4H480.3V486.7H480.6V485.1H480.9V484.8H481.2V484.3H481.5V484.8H481.7V483.2H482.0V483.1H482.3V484.2H482.6V484.0H482.9V484.1H483.2V487.9H483.5V485.8H483.8V484.0H484.1V485.1H484.4V480.8H484.7V488.0H484.9V484.4H485.2V487.3H485.5V483.8H485.8V484.0H486.1V484.7H486.4V485.5H486.7V486.7H487.0V484.1H487.3V482.7H487.6V482.7H487.9V486.3H488.2V486.2H488.4V484.1H488.7V483.6H489.0V483.8H489.3V485.7H489.6V484.2H489.9V478.1H490.2V482.8H490.5V486.2H490.8V480.0H491.1V483.4H491.4V482.9H491.6V484.6H491.9V483.2H492.2V484.4H492.5V481.8H492.8V481.0H493.1V479.4H493.4V483.2H493.7V486.4H494.0V485.4H494.3V484.9H494.6V482.9H494.8V481.0H495.1V482.8H495.4V484.0H495.7V483.3H496.0V483.4H496.3V483.8H496.6V482.7H496.9V487.0H497.2V481.7H497.5V485.8H497.8V485.6H498.1V487.0H498.3V478.6H498.6V483.2H498.9V487.3H499.2V476.9H499.5V482.6H499.8V480.5H500.1V478.6H500.4V484.2H500.7V482.2H501.0V479.6H501.3V477.7H501.5V478.3H501.8V481.3H502.1V479.1H502.4V484.4H502.7V482.2H503.0V488.3H503.3V478.0H503.6V479.7H503.9V474.7H504.2V483.1H504.5V478.0H504.7V480.6H505.0V477.1H505.3V478.5H505.6V488.5H505.9V488.5Z" fill="#23912a"/>
<path d="M376.04 488.5V481.4H376.3V482.6H376.6V484.4H376.9V484.7H377.2V483.6H377.5V484.8H377.8V484.5H378.1V485.8H378.4V485.2H378.7V485.6H379.0V486.8H379.2V486.4H379.5V485.7H379.8V487.1H380.1V485.8H380.4V486.4H380.7V486.3H381.0V485.0H381.3V486.3H381.6V484.7H381.9V483.6H382.2V485.2H382.4V485.3H382.7V484.7H383.0V484.6H383.3V485.9H383.6V487.8H383.9V484.0H384.2V484.2H384.5V485.7H384.8V484.8H385.1V485.8H385.4V486.7H385.6V485.6H385.9V485.4H386.2V487.0H386.5V484.5H386.8V486.0H387.1V485.7H387.4V485.7H387.7V483.6H388.0V484.1H388.3V485.2H388.6V484.2H388.9V483.7H389.1V485.4H389.4V483.5H389.7V484.4H390.0V485.5H390.3V484.3H390.6V483.5H390.9V485.9H391.2V482.7H391.5V482.8H391.8V482.9H392.1V482.6H392.3V481.7H392.6V483.6H392.9V480.8H393.2V483.0H393.5V481.9H393.8V486.4H394.1V479.5H394.4V478.1H394.7V474.2H395.0V464.7H395.3V469.3H395.5V471.8H395.8V483.1H396.1V477.3H396.4V474.8H396.7V470.4H397.0V477.0H397.3V464.8H397.6V467.4H397.9V480.7H398.2V482.6H398.5V469.1H398.8V483.0H399.0V464.6H399.3V468.6H399.6V483.0H399.9V450.5H400.2V457.8H400.5V388.7H400.8V406.1H401.1V415.8H401.4V406.8H401.7V414.4H402.0V419.8H402.2V382.9H402.5V399.3H402.8V413.3H403.1V408.0H403.4V427.8H403.7V413.7H404.0V411.3H404.3V434.6H404.6V425.7H404.9V429.5H405.2V429.0H405.5V444.0H405.7V449.1H406.0V444.7H406.3V446.4H406.6V439.2H406.9V442.8H407.2V450.8H407.5V446.7H407.8V443.1H408.1V448.7H408.4V455.1H408.7V447.9H408.9V451.2H409.2V465.2H409.5V452.6H409.8V459.5H410.1V459.1H410.4V462.5H410.7V458.5H411.0V462.8H411.3V462.4H411.6V463.5H411.9V464.3H412.1V462.0H412.4V465.2H412.7V468.9H413.0V468.8H413.3V470.2H413.6V471.9H413.9V473.8H414.2V473.7H414.5V475.3H414.8V476.1H415.1V476.3H415.4V476.2H415.6V475.3H415.9V477.2H416.2V477.0H416.5V479.2H416.8V477.1H417.1V479.0H417.4V478.7H417.7V480.2H418.0V479.9H418.3V478.8H418.6V479.6H418.8V479.9H419.1V481.1H419.4V479.7H419.7V480.4H420.0V480.8H420.3V481.6H420.6V482.6H420.9V482.8H421.2V482.2H421.5V483.0H421.8V481.2H422.0V482.2H422.3V482.0H422.6V483.3H422.9V483.4H423.2V482.7H423.5V483.5H423.8V482.7H424.1V483.5H424.4V483.9H424.7V483.4H425.0V484.2H425.3V484.1H425.5V484.4H425.8V484.4H426.1V484.5H426.4V484.2H426.7V484.7H427.0V484.7H427.3V484.2H427.6V485.6H427.9V484.9H428.2V484.9H428.5V485.0H428.7V484.8H429.0V485.4H429.3V485.5H429.6V485.4H429.9V485.3H430.2V486.0H430.5V485.4H430.8V485.8H431.1V485.2H431.4V485.7H431.7V486.1H431.9V485.9H432.2V486.0H432.5V486.1H432.8V486.0H433.1V486.0H433.4V486.6H433.7V486.5H434.0V486.6H434.3V486.5H434.6V486.7H434.9V486.9H435.2V486.7H435.4V486.5H435.7V486.8H436.0V487.3H436.3V486.5H436.6V486.8H436.9V486.5H437.2V486.8H437.5V487.1H437.8V487.1H438.1V486.8H438.4V486.8H438.6V486.9H438.9V486.7H439.2V486.8H439.5V487.0H439.8V487.3H440.1V487.0H440.4V487.1H440.7V487.1H441.0V487.2H441.3V487.6H441.6V487.4H441.9V487.6H442.1V487.1H442.4V487.3H442.7V487.5H443.0V487.6H443.3V487.7H443.6V487.5H443.9V487.6H444.2V487.6H444.5V487.7H444.8V487.5H445.1V487.6H445.3V487.7H445.6V487.5H445.9V487.7H446.2V487.7H446.5V487.6H446.8V487.8H447.1V487.5H447.4V487.5H447.7V487.4H448.0V487.7H448.3V487.5H448.5V487.9H448.8V487.6H449.1V487.7H449.4V487.6H449.7V487.7H450.0V487.6H450.3V487.7H450.6V487.8H450.9V487.5H451.2V487.5H451.5V487.7H451.8V487.7H452.0V487.8H452.3V487.6H452.6V487.8H452.9V487.7H453.2V487.5H453.5V487.6H453.8V487.9H454.1V487.5H454.4V487.6H454.7V487.6H455.0V487.5H455.2V487.8H455.5V487.7H455.8V487.7H456.1V487.7H456.4V487.9H456.7V487.6H457.0V487.7H457.3V487.5H457.6V487.5H457.9V487.7H458.2V487.8H458.4V487.7H458.7V487.9H459.0V487.7H459.3V487.9H459.6V487.9H459.9V487.8H460.2V487.8H460.5V487.8H460.8V487.6H461.1V487.8H461.4V487.8H461.7V487.8H461.9V487.6H462.2V487.8H462.5V487.9H462.8V487.7H463.1V487.8H463.4V487.8H463.7V487.6H464.0V487.7H464.3V487.8H464.6V487.7H464.9V487.7H465.1V487.7H465.4V487.8H465.7V487.8H466.0V488.0H466.3V487.8H466.6V487.6H466.9V487.9H467.2V487.8H467.5V487.9H467.8V487.7H468.1V487.9H468.3V487.7H468.6V488.1H468.9V488.0H469.2V487.7H469.5V487.7H469.8V487.7H470.1V487.9H470.4V487.8H470.7V487.9H471.0V488.0H471.3V487.8H471.6V487.9H471.8V487.7H472.1V487.7H472.4V488.1H472.7V487.7H473.0V488.0H473.3V488.1H473.6V487.8H473.9V488.1H474.2V488.0H474.5V487.9H474.8V487.9H475.0V487.8H475.3V487.9H475.6V487.8H475.9V488.0H476.2V487.8H476.5V487.7H476.8V487.7H477.1V487.9H477.4V488.1H477.7V488.0H478.0V487.8H478.3V487.9H478.5V487.9H478.8V488.0H479.1V488.0H479.4V487.9H479.7V487.9H480.0V487.9H480.3V487.9H480.6V488.0H480.9V487.8H481.2V488.1H481.5V487.8H481.7V488.1H482.0V487.9H482.3V488.0H482.6V488.1H482.9V488.1H483.2V487.9H483.5V487.9H483.8V488.1H484.1V488.0H484.4V488.0H484.7V488.0H484.9V487.9H485.2V488.1H485.5V488.0H485.8V487.9H486.1V488.0H486.4V488.0H486.7V487.9H487.0V488.2H487.3V488.0H487.6V488.0H487.9V488.0H488.2V488.0H488.4V488.1H488.7V488.1H489.0V488.1H489.3V487.9H489.6V487.9H489.9V488.1H490.2V488.0H490.5V488.2H490.8V488.0H491.1V488.1H491.4V488.0H491.6V487.9H491.9V488.0H492.2V488.1H492.5V488.0H492.8V487.9H493.1V488.0H493.4V488.1H493.7V488.2H494.0V488.1H494.3V488.1H494.6V488.1H494.8V488.1H495.1V488.2H495.4V488.1H495.7V488.1H496.0V488.1H496.3V488.2H496.6V488.1H496.9V488.2H497.2V488.1H497.5V488.1H497.8V488.2H498.1V488.1H498.3V488.2H498.6V488.2H498.9V488.2H499.2V488.1H499.5V488.2H499.8V488.1H500.1V488.1H500.4V488.1H500.7V488.1H501.0V488.2H501.3V488.1H501.5V488.3H501.8V488.2H502.1V488.2H502.4V488.2H502.7V488.1H503.0V488.3H503.3V488.2H503.6V488.3H503.9V488.2H504.2V488.1H504.5V488.3H504.7V488.2H505.0V488.3H505.3V488.1H505.6V488.5H505.9V488.5Z" fill="#ff7a0c"/>
<path d="M376.04 488.5V481.4H376.3V482.6H376.6V484.4H376.9V484.7H377.2V483.6H377.5V484.8H377.8V484.5H378.1V485.8H378.4V485.2H378.7V485.6H379.0V486.8H379.2V486.4H379.5V485.7H379.8V487.1H380.1V485.8H380.4V486.4H380.7V486.3H381.0V485.0H381.3V486.3H381.6V484.7H381.9V483.6H382.2V485.2H382.4V485.3H382.7V484.7H383.0V484.6H383.3V485.9H383.6V487.8H383.9V484.0H384.2V484.2H384.5V485.7H384.8V484.8H385.1V485.8H385.4V486.7H385.6V485.6H385.9V485.4H386.2V487.0H386.5V484.5H386.8V486.0H387.1V485.7H387.4V485.7H387.7V483.6H388.0V484.1H388.3V485.2H388.6V484.2H388.9V483.7H389.1V485.4H389.4V483.5H389.7V484.4H390.0V485.5H390.3V484.3H390.6V483.5H390.9V485.9H391.2V482.7H391.5V482.8H391.8V482.9H392.1V482.6H392.3V481.7H392.6V483.6H392.9V480.8H393.2V483.0H393.5V481.9H393.8V486.4H394.1V479.5H394.4V478.1H394.7V474.2H395.0V464.7H395.3V469.3H395.5V471.8H395.8V483.1H396.1V477.3H396.4V474.8H396.7V470.4H397.0V477.0H397.3V464.8H397.6V467.4H397.9V480.7H398.2V482.6H398.5V469.1H398.8V483.0H399.0V464.6H399.3V468.6H399.6V483.0H399.9V450.5H400.2V457.8H400.5V426.8H400.8V433.0H401.1V434.7H401.4V428.5H401.7V437.4H402.0V444.7H402.2V412.8H402.5V433.0H402.8V448.8H403.1V445.9H403.4V463.8H403.7V453.0H404.0V457.4H404.3V471.4H404.6V464.6H404.9V463.3H405.2V467.3H405.5V476.2H405.7V475.0H406.0V476.3H406.3V483.4H406.6V469.2H406.9V473.0H407.2V480.5H407.5V477.6H407.8V474.9H408.1V476.8H408.4V481.2H408.7V482.6H408.9V480.4H409.2V487.1H409.5V478.4H409.8V482.4H410.1V482.8H410.4V484.3H410.7V481.3H411.0V486.1H411.3V484.6H411.6V483.7H411.9V485.5H412.1V484.9H412.4V485.5H412.7V485.8H413.0V485.2H413.3V486.0H413.6V486.2H413.9V486.9H414.2V485.8H414.5V487.8H414.8V487.4H415.1V487.6H415.4V487.1H415.6V487.2H415.9V487.3H416.2V487.5H416.5V487.5H416.8V487.4H417.1V487.9H417.4V487.8H417.7V487.8H418.0V487.4H418.3V487.3H418.6V487.2H418.8V487.3H419.1V487.6H419.4V487.7H419.7V487.4H420.0V487.7H420.3V488.2H420.6V487.7H420.9V488.0H421.2V487.8H421.5V487.8H421.8V487.8H422.0V487.8H422.3V488.1H422.6V487.9H422.9V487.8H423.2V487.6H423.5V488.0H423.8V487.4H424.1V487.8H424.4V487.8H424.7V487.9H425.0V487.7H425.3V488.0H425.5V488.1H425.8V487.9H426.1V487.9H426.4V488.0H426.7V488.1H427.0V488.0H427.3V488.0H427.6V488.1H427.9V488.3H428.2V487.9H428.5V487.9H428.7V488.0H429.0V487.9H429.3V488.2H429.6V487.9H429.9V488.0H430.2V487.8H430.5V487.8H430.8V488.0H431.1V487.9H431.4V488.0H431.7V488.0H431.9V487.8H432.2V488.0H432.5V488.0H432.8V487.8H433.1V487.8H433.4V488.1H433.7V487.9H434.0V488.2H434.3V488.0H434.6V488.1H434.9V488.3H435.2V488.1H435.4V488.0H435.7V488.1H436.0V488.3H436.3V487.7H436.6V488.1H436.9V487.7H437.2V488.0H437.5V488.0H437.8V488.1H438.1V487.9H438.4V487.8H438.6V487.9H438.9V487.8H439.2V487.7H439.5V487.9H439.8V488.0H440.1V487.9H440.4V487.8H440.7V487.9H441.0V487.9H441.3V488.3H441.6V488.0H441.9V488.2H442.1V487.7H442.4V487.9H442.7V488.0H443.0V488.1H443.3V488.2H443.6V488.0H443.9V488.0H444.2V488.0H444.5V488.2H444.8V487.9H445.1V488.0H445.3V488.1H445.6V487.9H445.9V488.2H446.2V488.0H446.5V488.0H446.8V488.2H447.1V487.9H447.4V487.9H447.7V487.8H448.0V488.1H448.3V487.8H448.5V488.3H448.8V487.9H449.1V488.1H449.4V488.0H449.7V488.1H450.0V488.0H450.3V488.0H450.6V488.1H450.9V487.9H451.2V487.8H451.5V488.0H451.8V488.1H452.0V488.3H452.3V488.0H452.6V488.2H452.9V488.1H453.2V487.8H453.5V488.0H453.8V488.2H454.1V487.9H454.4V488.0H454.7V487.9H455.0V487.8H455.2V488.2H455.5V488.1H455.8V488.0H456.1V488.1H456.4V488.3H456.7V488.0H457.0V488.0H457.3V487.9H457.6V487.9H457.9V488.0H458.2V488.2H458.4V488.1H458.7V488.3H459.0V488.0H459.3V488.3H459.6V488.2H459.9V488.1H460.2V488.2H460.5V488.1H460.8V488.0H461.1V488.1H461.4V488.1H461.7V488.0H461.9V487.9H462.2V488.1H462.5V488.2H462.8V488.0H463.1V488.2H463.4V488.1H463.7V488.0H464.0V488.1H464.3V488.1H464.6V488.0H464.9V488.0H465.1V488.0H465.4V488.0H465.7V488.1H466.0V488.2H466.3V488.1H466.6V487.9H466.9V488.2H467.2V488.2H467.5V488.3H467.8V488.0H468.1V488.1H468.3V488.0H468.6V488.3H468.9V488.3H469.2V488.0H469.5V488.0H469.8V488.1H470.1V488.2H470.4V488.1H470.7V488.1H471.0V488.2H471.3V488.1H471.6V488.1H471.8V488.0H472.1V488.0H472.4V488.3H472.7V488.0H473.0V488.3H473.3V488.3H473.6V488.1H473.9V488.3H474.2V488.3H474.5V488.1H474.8V488.2H475.0V488.1H475.3V488.2H475.6V488.1H475.9V488.2H476.2V488.1H476.5V488.0H476.8V488.0H477.1V488.2H477.4V488.3H477.7V488.2H478.0V488.2H478.3V488.2H478.5V488.1H478.8V488.2H479.1V488.2H479.4V488.1H479.7V488.1H480.0V488.2H480.3V488.2H480.6V488.2H480.9V488.0H481.2V488.3H481.5V488.0H481.7V488.3H482.0V488.1H482.3V488.2H482.6V488.3H482.9V488.3H483.2V488.1H483.5V488.2H483.8V488.4H484.1V488.2H484.4V488.2H484.7V488.2H484.9V488.1H485.2V488.3H485.5V488.2H485.8V488.1H486.1V488.1H486.4V488.2H486.7V488.2H487.0V488.3H487.3V488.2H487.6V488.3H487.9V488.2H488.2V488.2H488.4V488.3H488.7V488.3H489.0V488.3H489.3V488.1H489.6V488.1H489.9V488.3H490.2V488.2H490.5V488.4H490.8V488.2H491.1V488.3H491.4V488.2H491.6V488.1H491.9V488.2H492.2V488.2H492.5V488.1H492.8V488.1H493.1V488.2H493.4V488.4H493.7V488.4H494.0V488.3H494.3V488.2H494.6V488.3H494.8V488.3H495.1V488.4H495.4V488.3H495.7V488.3H496.0V488.3H496.3V488.4H496.6V488.3H496.9V488.3H497.2V488.3H497.5V488.3H497.8V488.4H498.1V488.2H498.3V488.3H498.6V488.3H498.9V488.3H499.2V488.2H499.5V488.4H499.8V488.2H500.1V488.2H500.4V488.3H500.7V488.2H501.0V488.3H501.3V488.3H501.5V488.4H501.8V488.3H502.1V488.4H502.4V488.3H502.7V488.3H503.0V488.4H503.3V488.3H503.6V488.4H503.9V488.3H504.2V488.3H504.5V488.5H504.7V488.3H505.0V488.4H505.3V488.2H505.6V488.5H505.9V488.5Z" fill="#1a6aae"/>
<rect x="400.61" y="379.92" width="0.8" height="18.1" fill="#ff7a0c" fill-opacity="1"/>
<rect x="369.5" y="375.5" width="142" height="113" fill="none" stroke="#858585" stroke-width="0.75"/>
<line x1="382.3" y1="488.5" x2="382.3" y2="489.8" stroke="#444" stroke-width="0.45"/>
<text transform="translate(382.3 494.1) scale(0.1)" font-size="36" text-anchor="middle" fill="#000" stroke="#000" stroke-width="0.5">−250</text>
<line x1="400.5" y1="488.5" x2="400.5" y2="489.8" stroke="#444" stroke-width="0.45"/>
<text transform="translate(400.5 494.1) scale(0.1)" font-size="36" text-anchor="middle" fill="#000" stroke="#000" stroke-width="0.5">0</text>
<line x1="418.7" y1="488.5" x2="418.7" y2="489.8" stroke="#444" stroke-width="0.45"/>
<text transform="translate(418.7 494.1) scale(0.1)" font-size="36" text-anchor="middle" fill="#000" stroke="#000" stroke-width="0.5">250</text>
<line x1="436.9" y1="488.5" x2="436.9" y2="489.8" stroke="#444" stroke-width="0.45"/>
<text transform="translate(436.9 494.1) scale(0.1)" font-size="36" text-anchor="middle" fill="#000" stroke="#000" stroke-width="0.5">500</text>
<line x1="455.1" y1="488.5" x2="455.1" y2="489.8" stroke="#444" stroke-width="0.45"/>
<text transform="translate(455.1 494.1) scale(0.1)" font-size="36" text-anchor="middle" fill="#000" stroke="#000" stroke-width="0.5">750</text>
<line x1="473.3" y1="488.5" x2="473.3" y2="489.8" stroke="#444" stroke-width="0.45"/>
<text transform="translate(473.3 494.1) scale(0.1)" font-size="36" text-anchor="middle" fill="#000" stroke="#000" stroke-width="0.5">1000</text>
<line x1="491.5" y1="488.5" x2="491.5" y2="489.8" stroke="#444" stroke-width="0.45"/>
<text transform="translate(491.5 494.1) scale(0.1)" font-size="36" text-anchor="middle" fill="#000" stroke="#000" stroke-width="0.5">1250</text>
<line x1="509.7" y1="488.5" x2="509.7" y2="489.8" stroke="#444" stroke-width="0.45"/>
<text transform="translate(509.7 494.1) scale(0.1)" font-size="36" text-anchor="middle" fill="#000" stroke="#000" stroke-width="0.5">1500</text>
<line x1="368.3" y1="488.5" x2="369.6" y2="488.5" stroke="#444" stroke-width="0.45"/>
<text transform="translate(367.3 489.74) scale(0.1)" font-size="34.5" text-anchor="end" fill="#000" stroke="#000" stroke-width="0.5">0</text>
<line x1="368.3" y1="473.42" x2="369.6" y2="473.42" stroke="#444" stroke-width="0.45"/>
<text transform="translate(367.3 474.66) scale(0.1)" font-size="34.5" text-anchor="end" fill="#000" stroke="#000" stroke-width="0.5">25</text>
<line x1="368.3" y1="458.34" x2="369.6" y2="458.34" stroke="#444" stroke-width="0.45"/>
<text transform="translate(367.3 459.58) scale(0.1)" font-size="34.5" text-anchor="end" fill="#000" stroke="#000" stroke-width="0.5">50</text>
<line x1="368.3" y1="443.26" x2="369.6" y2="443.26" stroke="#444" stroke-width="0.45"/>
<text transform="translate(367.3 444.5) scale(0.1)" font-size="34.5" text-anchor="end" fill="#000" stroke="#000" stroke-width="0.5">75</text>
<line x1="368.3" y1="428.18" x2="369.6" y2="428.18" stroke="#444" stroke-width="0.45"/>
<text transform="translate(367.3 429.42) scale(0.1)" font-size="34.5" text-anchor="end" fill="#000" stroke="#000" stroke-width="0.5">100</text>
<line x1="368.3" y1="413.1" x2="369.6" y2="413.1" stroke="#444" stroke-width="0.45"/>
<text transform="translate(367.3 414.34) scale(0.1)" font-size="34.5" text-anchor="end" fill="#000" stroke="#000" stroke-width="0.5">125</text>
<line x1="368.3" y1="398.02" x2="369.6" y2="398.02" stroke="#444" stroke-width="0.45"/>
<text transform="translate(367.3 399.26) scale(0.1)" font-size="34.5" text-anchor="end" fill="#000" stroke="#000" stroke-width="0.5">150</text>
<line x1="368.3" y1="382.94" x2="369.6" y2="382.94" stroke="#444" stroke-width="0.45"/>
<text transform="translate(367.3 384.18) scale(0.1)" font-size="34.5" text-anchor="end" fill="#000" stroke="#000" stroke-width="0.5">175</text>
<clipPath id="ct369"><rect x="-100" y="-14" width="3000" height="44"/></clipPath>
<text transform="translate(370.4 373.6) scale(0.1)" font-size="44.1" text-anchor="start" fill="#000" textLength="1410" lengthAdjust="spacingAndGlyphs" stroke="#000" stroke-width="0.5" clip-path="url(#ct369)">Calcium lab draws and repletion timing relative to pre-repletion lab value</text>
<text transform="translate(440.55 498.5) scale(0.1)" font-size="36.6" text-anchor="middle" fill="#000" textLength="655" lengthAdjust="spacingAndGlyphs" stroke="#000" stroke-width="0.5">Time since initial lab resulted, in minutes</text>
<text transform="translate(359.2 431.95) rotate(-90) scale(0.1)" font-size="39" text-anchor="middle" fill="#000" stroke="#000" stroke-width="0.5">Number of occurrences</text>
<rect x="451" y="376.6" width="59" height="16.4" fill="#fff" fill-opacity="0.85" stroke="#ccc" stroke-width="0.5" rx="0.9"/>
<rect x="453.1" y="378.5" width="6.1" height="2.3" fill="#1a6aae"/>
<text transform="translate(462.2 380.9) scale(0.1)" font-size="36.9" text-anchor="start" fill="#000" textLength="460" lengthAdjust="spacingAndGlyphs" stroke="#000" stroke-width="0.5">Interval to ordering repletion</text>
<rect x="453.1" y="383.55" width="6.1" height="2.3" fill="#ff7a0c"/>
<text transform="translate(462.2 385.95) scale(0.1)" font-size="36.9" text-anchor="start" fill="#000" textLength="420" lengthAdjust="spacingAndGlyphs" stroke="#000" stroke-width="0.5">Interval to giving repletion</text>
<rect x="453.1" y="388.6" width="6.1" height="2.3" fill="#23912a"/>
<text transform="translate(462.2 391) scale(0.1)" font-size="36.7" text-anchor="start" fill="#000" textLength="445" lengthAdjust="spacingAndGlyphs" stroke="#000" stroke-width="0.5">Interval to ordering next lab</text>
<path d="M543.2 488.3V488.2H543.5V487.7H543.8V487.5H544.1V487.3H544.4V487.5H544.7V487.4H545.0V487.5H545.3V487.5H545.6V487.4H545.9V487.5H546.2V487.5H546.5V487.4H546.7V487.5H547.0V487.5H547.3V487.2H547.6V487.6H547.9V487.0H548.2V487.0H548.5V487.2H548.8V487.2H549.1V487.4H549.4V487.2H549.7V487.3H550.0V487.2H550.3V487.3H550.6V487.6H550.9V487.4H551.2V487.2H551.5V487.4H551.8V487.1H552.1V487.5H552.4V487.4H552.6V487.3H552.9V487.7H553.2V487.0H553.5V487.1H553.8V487.1H554.1V487.3H554.4V487.4H554.7V486.9H555.0V486.9H555.3V487.1H555.6V486.9H555.9V487.4H556.2V487.4H556.5V486.7H556.8V486.9H557.1V487.1H557.4V486.9H557.7V486.9H558.0V486.8H558.3V487.3H558.6V486.3H558.8V486.6H559.1V487.8H559.4V487.0H559.7V486.6H560.0V486.1H560.3V487.1H560.6V486.8H560.9V486.4H561.2V486.5H561.5V486.6H561.8V486.2H562.1V487.1H562.4V486.8H562.7V487.0H563.0V486.3H563.3V486.4H563.6V486.7H563.9V486.5H564.2V486.2H564.5V486.9H564.8V487.0H565.0V486.2H565.3V486.8H565.6V486.1H565.9V485.9H566.2V486.4H566.5V485.9H566.8V485.7H567.1V486.6H567.4V485.8H567.7V486.9H568.0V422.0H568.3V422.3H568.6V419.2H568.9V416.8H569.2V424.8H569.5V426.4H569.8V426.3H570.1V432.0H570.4V431.9H570.7V440.9H571.0V440.1H571.2V439.6H571.5V438.8H571.8V443.8H572.1V442.3H572.4V434.9H572.7V438.3H573.0V443.1H573.3V438.6H573.6V441.8H573.9V437.6H574.2V441.4H574.5V441.7H574.8V441.5H575.1V443.8H575.4V446.0H575.7V444.9H576.0V449.0H576.3V442.7H576.6V449.0H576.9V447.1H577.2V448.9H577.4V449.3H577.7V446.4H578.0V444.5H578.3V449.9H578.6V452.4H578.9V451.0H579.2V452.3H579.5V454.4H579.8V449.7H580.1V454.6H580.4V456.5H580.7V453.8H581.0V451.5H581.3V457.5H581.6V456.3H581.9V450.6H582.2V454.9H582.5V451.8H582.8V455.3H583.1V458.1H583.4V459.4H583.6V455.2H583.9V458.1H584.2V458.6H584.5V462.7H584.8V455.4H585.1V461.3H585.4V459.6H585.7V459.3H586.0V461.9H586.3V459.1H586.6V459.7H586.9V457.8H587.2V462.3H587.5V461.3H587.8V462.4H588.1V461.2H588.4V462.3H588.7V464.2H589.0V462.6H589.3V465.6H589.5V467.7H589.8V466.1H590.1V462.9H590.4V466.0H590.7V466.1H591.0V467.8H591.3V467.6H591.6V466.8H591.9V466.5H592.2V470.4H592.5V469.0H592.8V468.9H593.1V470.0H593.4V468.5H593.7V469.8H594.0V467.8H594.3V473.2H594.6V472.7H594.9V472.1H595.2V472.4H595.5V472.9H595.7V472.2H596.0V474.9H596.3V473.5H596.6V473.9H596.9V475.8H597.2V474.2H597.5V474.7H597.8V475.0H598.1V476.6H598.4V476.5H598.7V474.3H599.0V475.7H599.3V475.1H599.6V478.2H599.9V477.9H600.2V477.2H600.5V475.4H600.8V474.8H601.1V477.6H601.4V477.1H601.7V477.3H601.9V475.9H602.2V475.9H602.5V477.7H602.8V478.5H603.1V476.6H603.4V477.9H603.7V474.9H604.0V477.2H604.3V477.6H604.6V479.9H604.9V477.2H605.2V475.9H605.5V479.0H605.8V479.0H606.1V477.7H606.4V478.4H606.7V477.7H607.0V477.8H607.3V476.7H607.6V479.4H607.9V475.8H608.1V478.4H608.4V475.1H608.7V475.9H609.0V476.6H609.3V476.6H609.6V481.3H609.9V476.2H610.2V475.2H610.5V476.3H610.8V475.8H611.1V475.3H611.4V475.8H611.7V477.2H612.0V476.7H612.3V477.0H612.6V475.1H612.9V476.0H613.2V472.0H613.5V473.4H613.8V473.2H614.1V476.5H614.3V476.1H614.6V474.1H614.9V477.0H615.2V477.2H615.5V474.9H615.8V470.5H616.1V473.1H616.4V476.8H616.7V471.3H617.0V475.7H617.3V471.6H617.6V475.3H617.9V469.7H618.2V475.7H618.5V470.0H618.8V469.3H619.1V471.9H619.4V473.7H619.7V476.2H620.0V468.8H620.3V472.8H620.5V474.6H620.8V476.1H621.1V472.9H621.4V472.9H621.7V472.3H622.0V469.6H622.3V478.1H622.6V471.7H622.9V463.6H623.2V474.1H623.5V474.9H623.8V470.6H624.1V476.7H624.4V473.3H624.7V472.6H625.0V472.0H625.3V468.4H625.6V467.3H625.9V470.5H626.2V471.7H626.4V476.7H626.7V469.9H627.0V475.6H627.3V473.2H627.6V474.1H627.9V475.4H628.2V475.6H628.5V472.0H628.8V475.3H629.1V477.6H629.4V480.5H629.7V478.0H630.0V476.9H630.3V476.3H630.6V477.8H630.9V480.5H631.2V478.1H631.5V479.5H631.8V472.4H632.1V477.7H632.4V482.2H632.6V476.8H632.9V479.1H633.2V479.8H633.5V479.6H633.8V480.9H634.1V478.1H634.4V478.5H634.7V481.8H635.0V482.7H635.3V480.2H635.6V481.4H635.9V481.3H636.2V481.7H636.5V480.7H636.8V482.5H637.1V482.9H637.4V483.1H637.7V482.0H638.0V483.6H638.3V481.3H638.6V482.4H638.8V483.6H639.1V483.9H639.4V485.1H639.7V484.5H640.0V482.6H640.3V483.7H640.6V485.1H640.9V484.5H641.2V485.2H641.5V485.1H641.8V485.3H642.1V485.5H642.4V485.4H642.7V483.5H643.0V485.4H643.3V485.1H643.6V485.6H643.9V485.1H644.2V484.6H644.5V485.2H644.8V486.1H645.0V485.8H645.3V484.8H645.6V484.4H645.9V485.6H646.2V485.3H646.5V484.6H646.8V484.7H647.1V485.8H647.4V485.6H647.7V485.5H648.0V486.0H648.3V485.3H648.6V485.2H648.9V485.2H649.2V485.8H649.5V485.2H649.8V485.2H650.1V485.2H650.4V485.0H650.7V485.2H651.0V486.2H651.2V484.6H651.5V485.1H651.8V484.6H652.1V485.0H652.4V485.2H652.7V484.7H653.0V485.4H653.3V485.0H653.6V484.7H653.9V484.8H654.2V485.0H654.5V485.1H654.8V485.2H655.1V485.0H655.4V484.8H655.7V486.7H656.0V485.0H656.3V484.2H656.6V483.9H656.9V484.6H657.2V484.9H657.4V485.2H657.7V483.3H658.0V484.3H658.3V484.7H658.6V485.3H658.9V484.0H659.2V483.9H659.5V484.8H659.8V483.1H660.1V483.9H660.4V483.0H660.7V482.7H661.0V483.9H661.3V483.1H661.6V481.8H661.9V481.7H662.2V483.9H662.5V481.6H662.8V481.5H663.1V483.4H663.3V482.8H663.6V483.4H663.9V482.8H664.2V481.7H664.5V483.2H664.8V482.7H665.1V480.1H665.4V483.4H665.7V479.5H666.0V482.2H666.3V481.5H666.6V481.6H666.9V482.0H667.2V480.2H667.5V480.5H667.8V480.0H668.1V479.9H668.4V482.1H668.7V479.3H669.0V479.6H669.3V480.8H669.5V481.1H669.8V479.0H670.1V480.4H670.4V481.8H670.7V480.4H671.0V481.9H671.3V481.3H671.6V482.4H671.9V483.4H672.2V483.2H672.5V483.5H672.8V481.0H673.1V484.1H673.4V482.9H673.7V484.1H674.0V482.8H674.3V484.5H674.6V488.3H674.9V488.3Z" fill="#23912a"/>
<path d="M543.2 488.3V488.3H543.5V488.3H543.8V488.3H544.1V488.3H544.4V488.3H544.7V488.3H545.0V488.3H545.3V488.3H545.6V488.3H545.9V488.3H546.2V488.3H546.5V488.3H546.7V488.3H547.0V488.3H547.3V488.3H547.6V488.3H547.9V488.3H548.2V488.3H548.5V488.3H548.8V488.3H549.1V488.3H549.4V488.3H549.7V488.3H550.0V488.3H550.3V488.3H550.6V488.3H550.9V488.3H551.2V488.3H551.5V488.3H551.8V488.3H552.1V488.3H552.4V488.3H552.6V488.3H552.9V488.3H553.2V488.3H553.5V488.3H553.8V488.3H554.1V488.3H554.4V488.3H554.7V488.3H555.0V488.3H555.3V488.3H555.6V488.3H555.9V488.3H556.2V488.3H556.5V488.3H556.8V488.3H557.1V488.3H557.4V488.3H557.7V488.3H558.0V488.3H558.3V488.3H558.6V488.3H558.8V488.3H559.1V488.3H559.4V488.3H559.7V488.3H560.0V488.3H560.3V488.3H560.6V488.3H560.9V488.3H561.2V488.3H561.5V488.3H561.8V488.3H562.1V488.3H562.4V488.3H562.7V488.3H563.0V488.3H563.3V488.3H563.6V488.3H563.9V488.3H564.2V488.3H564.5V488.3H564.8V488.3H565.0V488.3H565.3V488.3H565.6V488.3H565.9V488.3H566.2V488.3H566.5V488.3H566.8V488.3H567.1V488.3H567.4V488.3H567.7V488.3H568.0V423.1H568.3V423.3H568.6V419.7H568.9V418.2H569.2V428.0H569.5V432.1H569.8V432.4H570.1V438.5H570.4V436.6H570.7V443.2H571.0V442.7H571.2V442.8H571.5V443.3H571.8V447.9H572.1V449.1H572.4V442.8H572.7V446.5H573.0V448.9H573.3V444.3H573.6V447.4H573.9V443.5H574.2V447.7H574.5V447.7H574.8V445.5H575.1V447.2H575.4V449.8H575.7V448.8H576.0V452.0H576.3V446.4H576.6V452.9H576.9V451.3H577.2V452.0H577.4V453.5H577.7V450.8H578.0V448.7H578.3V453.9H578.6V456.3H578.9V454.3H579.2V455.7H579.5V457.6H579.8V453.1H580.1V457.0H580.4V459.9H580.7V456.5H581.0V454.8H581.3V459.1H581.6V459.1H581.9V454.1H582.2V457.7H582.5V454.5H582.8V459.0H583.1V461.3H583.4V462.8H583.6V458.9H583.9V461.3H584.2V462.9H584.5V465.7H584.8V458.3H585.1V464.0H585.4V463.6H585.7V463.8H586.0V465.4H586.3V463.2H586.6V464.2H586.9V462.6H587.2V466.1H587.5V466.2H587.8V466.3H588.1V464.8H588.4V466.9H588.7V468.2H589.0V465.6H589.3V469.0H589.5V471.8H589.8V470.5H590.1V467.5H590.4V469.6H590.7V469.7H591.0V471.9H591.3V471.5H591.6V470.9H591.9V470.0H592.2V474.4H592.5V471.4H592.8V471.9H593.1V473.6H593.4V471.1H593.7V472.5H594.0V471.9H594.3V475.6H594.6V475.8H594.9V475.3H595.2V476.2H595.5V475.2H595.7V476.7H596.0V477.4H596.3V476.2H596.6V478.2H596.9V479.3H597.2V477.8H597.5V478.1H597.8V478.3H598.1V479.2H598.4V478.2H598.7V478.0H599.0V478.2H599.3V478.0H599.6V480.7H599.9V479.9H600.2V480.0H600.5V479.6H600.8V479.2H601.1V480.0H601.4V480.7H601.7V481.0H601.9V480.7H602.2V481.4H602.5V481.9H602.8V482.6H603.1V481.8H603.4V480.8H603.7V480.8H604.0V481.7H604.3V481.4H604.6V483.1H604.9V482.0H605.2V482.4H605.5V483.6H605.8V482.6H606.1V483.3H606.4V482.3H606.7V483.0H607.0V482.8H607.3V483.0H607.6V483.1H607.9V483.0H608.1V483.9H608.4V483.4H608.7V483.3H609.0V483.2H609.3V484.0H609.6V484.4H609.9V483.0H610.2V483.4H610.5V484.0H610.8V483.5H611.1V483.4H611.4V484.9H611.7V484.0H612.0V484.3H612.3V484.0H612.6V484.6H612.9V484.2H613.2V484.0H613.5V484.5H613.8V484.9H614.1V484.8H614.3V485.1H614.6V485.6H614.9V484.5H615.2V485.2H615.5V485.2H615.8V485.0H616.1V485.0H616.4V485.3H616.7V485.5H617.0V485.5H617.3V485.7H617.6V485.6H617.9V485.8H618.2V485.6H618.5V485.4H618.8V485.6H619.1V485.6H619.4V485.7H619.7V485.4H620.0V486.0H620.3V486.0H620.5V486.3H620.8V485.7H621.1V486.4H621.4V486.0H621.7V486.4H622.0V486.0H622.3V486.7H622.6V486.4H622.9V486.2H623.2V486.4H623.5V486.3H623.8V486.2H624.1V486.5H624.4V486.6H624.7V486.7H625.0V486.2H625.3V486.7H625.6V486.8H625.9V486.6H626.2V486.4H626.4V486.6H626.7V487.0H627.0V486.8H627.3V486.9H627.6V486.9H627.9V486.7H628.2V486.7H628.5V486.8H628.8V486.9H629.1V486.8H629.4V486.8H629.7V487.1H630.0V487.1H630.3V487.1H630.6V487.2H630.9V487.2H631.2V487.1H631.5V487.3H631.8V487.1H632.1V487.4H632.4V487.4H632.6V487.4H632.9V487.3H633.2V487.3H633.5V487.3H633.8V487.4H634.1V487.2H634.4V487.2H634.7V487.4H635.0V487.4H635.3V487.2H635.6V487.4H635.9V487.3H636.2V487.3H636.5V487.5H636.8V487.4H637.1V487.5H637.4V487.4H637.7V487.4H638.0V487.5H638.3V487.5H638.6V487.5H638.8V487.6H639.1V487.6H639.4V487.5H639.7V487.6H640.0V487.6H640.3V487.6H640.6V487.6H640.9V487.6H641.2V487.6H641.5V487.6H641.8V487.6H642.1V487.6H642.4V487.6H642.7V487.7H643.0V487.7H643.3V487.7H643.6V487.8H643.9V487.6H644.2V487.7H644.5V487.7H644.8V487.7H645.0V487.8H645.3V487.7H645.6V487.6H645.9V487.6H646.2V487.7H646.5V487.8H646.8V487.7H647.1V487.7H647.4V487.6H647.7V487.7H648.0V487.8H648.3V487.7H648.6V487.7H648.9V487.8H649.2V487.8H649.5V487.7H649.8V487.8H650.1V487.8H650.4V487.7H650.7V487.7H651.0V487.8H651.2V487.8H651.5V487.8H651.8V487.8H652.1V487.8H652.4V487.8H652.7V487.8H653.0V487.8H653.3V487.8H653.6V487.9H653.9V487.7H654.2V487.8H654.5V487.8H654.8V487.9H655.1V487.8H655.4V487.8H655.7V487.9H656.0V487.8H656.3V487.9H656.6V487.8H656.9V487.7H657.2V487.8H657.4V487.9H657.7V487.9H658.0V487.9H658.3V487.8H658.6V487.9H658.9V487.8H659.2V487.8H659.5V487.9H659.8V487.9H660.1V487.7H660.4V487.8H660.7V487.9H661.0V487.9H661.3V487.8H661.6V487.9H661.9V487.9H662.2V487.8H662.5V487.9H662.8V487.9H663.1V487.9H663.3V487.9H663.6V487.8H663.9V487.9H664.2V487.9H664.5V487.9H664.8V487.8H665.1V487.9H665.4V488.0H665.7V487.9H666.0V487.9H666.3V487.9H666.6V487.8H666.9V487.9H667.2V487.9H667.5V487.9H667.8V488.0H668.1V487.9H668.4V488.0H668.7V487.9H669.0V488.0H669.3V488.0H669.5V487.8H669.8V487.9H670.1V488.0H670.4V488.0H670.7V488.0H671.0V488.0H671.3V488.0H671.6V487.9H671.9V487.9H672.2V488.0H672.5V487.9H672.8V487.9H673.1V488.0H673.4V488.0H673.7V487.9H674.0V487.9H674.3V487.9H674.6V488.3H674.9V488.3Z" fill="#ff7a0c"/>
<path d="M543.2 488.3V488.3H543.5V488.3H543.8V488.3H544.1V488.3H544.4V488.3H544.7V488.3H545.0V488.3H545.3V488.3H545.6V488.3H545.9V488.3H546.2V488.3H546.5V488.3H546.7V488.3H547.0V488.3H547.3V488.3H547.6V488.3H547.9V488.3H548.2V488.3H548.5V488.3H548.8V488.3H549.1V488.3H549.4V488.3H549.7V488.3H550.0V488.3H550.3V488.3H550.6V488.3H550.9V488.3H551.2V488.3H551.5V488.3H551.8V488.3H552.1V488.3H552.4V488.3H552.6V488.3H552.9V488.3H553.2V488.3H553.5V488.3H553.8V488.3H554.1V488.3H554.4V488.3H554.7V488.3H555.0V488.3H555.3V488.3H555.6V488.3H555.9V488.3H556.2V488.3H556.5V488.3H556.8V488.3H557.1V488.3H557.4V488.3H557.7V488.3H558.0V488.3H558.3V488.3H558.6V488.3H558.8V488.3H559.1V488.3H559.4V488.3H559.7V488.3H560.0V488.3H560.3V488.3H560.6V488.3H560.9V488.3H561.2V488.3H561.5V488.3H561.8V488.3H562.1V488.3H562.4V488.3H562.7V488.3H563.0V488.3H563.3V488.3H563.6V488.3H563.9V488.3H564.2V488.3H564.5V488.3H564.8V488.3H565.0V488.3H565.3V488.3H565.6V488.3H565.9V488.3H566.2V488.3H566.5V488.3H566.8V488.3H567.1V488.3H567.4V488.3H567.7V488.3H568.0V423.9H568.3V424.1H568.6V420.5H568.9V425.2H569.2V443.4H569.5V447.9H569.8V445.8H570.1V447.3H570.4V447.0H570.7V451.8H571.0V453.6H571.2V454.2H571.5V458.5H571.8V459.8H572.1V459.2H572.4V457.1H572.7V459.7H573.0V463.8H573.3V461.0H573.6V464.5H573.9V463.7H574.2V465.4H574.5V466.0H574.8V465.3H575.1V468.3H575.4V467.5H575.7V468.8H576.0V469.6H576.3V470.8H576.6V472.2H576.9V471.0H577.2V472.3H577.4V473.1H577.7V474.7H578.0V473.6H578.3V475.6H578.6V475.4H578.9V475.2H579.2V476.3H579.5V475.8H579.8V475.8H580.1V476.5H580.4V478.1H580.7V477.0H581.0V477.5H581.3V478.9H581.6V478.1H581.9V477.8H582.2V478.6H582.5V479.0H582.8V479.5H583.1V479.2H583.4V479.9H583.6V480.2H583.9V480.6H584.2V480.6H584.5V480.7H584.8V480.4H585.1V481.0H585.4V480.8H585.7V480.3H586.0V481.0H586.3V480.9H586.6V481.9H586.9V481.0H587.2V481.7H587.5V481.9H587.8V481.8H588.1V482.0H588.4V482.3H588.7V482.4H589.0V482.2H589.3V483.5H589.5V483.1H589.8V483.1H590.1V482.7H590.4V483.4H590.7V483.2H591.0V483.4H591.3V483.3H591.6V484.1H591.9V484.1H592.2V484.3H592.5V484.1H592.8V484.1H593.1V484.1H593.4V484.3H593.7V484.3H594.0V484.5H594.3V485.1H594.6V484.7H594.9V484.9H595.2V485.0H595.5V485.1H595.7V485.0H596.0V485.3H596.3V485.0H596.6V485.4H596.9V485.4H597.2V485.5H597.5V485.7H597.8V485.9H598.1V485.9H598.4V485.9H598.7V486.1H599.0V486.2H599.3V486.2H599.6V486.2H599.9V486.4H600.2V486.2H600.5V486.4H600.8V486.4H601.1V486.3H601.4V486.4H601.7V486.6H601.9V486.6H602.2V486.5H602.5V486.7H602.8V486.6H603.1V486.6H603.4V486.6H603.7V486.7H604.0V486.6H604.3V486.8H604.6V486.8H604.9V486.7H605.2V487.0H605.5V487.0H605.8V487.0H606.1V487.0H606.4V487.0H606.7V487.0H607.0V487.0H607.3V487.2H607.6V487.1H607.9V487.2H608.1V487.2H608.4V487.3H608.7V487.2H609.0V487.3H609.3V487.2H609.6V487.2H609.9V487.4H610.2V487.3H610.5V487.4H610.8V487.4H611.1V487.5H611.4V487.4H611.7V487.6H612.0V487.5H612.3V487.5H612.6V487.6H612.9V487.6H613.2V487.6H613.5V487.5H613.8V487.6H614.1V487.5H614.3V487.6H614.6V487.6H614.9V487.6H615.2V487.7H615.5V487.6H615.8V487.6H616.1V487.7H616.4V487.7H616.7V487.6H617.0V487.6H617.3V487.7H617.6V487.7H617.9V487.7H618.2V487.8H618.5V487.7H618.8V487.7H619.1V487.7H619.4V487.8H619.7V487.8H620.0V487.9H620.3V487.8H620.5V487.8H620.8V487.8H621.1V487.9H621.4V487.9H621.7V487.9H622.0V487.9H622.3V487.9H622.6V487.9H622.9V487.9H623.2V487.9H623.5V487.9H623.8V487.9H624.1V488.0H624.4V488.0H624.7V488.0H625.0V488.0H625.3V488.0H625.6V488.0H625.9V488.0H626.2V488.0H626.4V488.0H626.7V488.0H627.0V488.0H627.3V488.0H627.6V488.0H627.9V488.0H628.2V488.0H628.5V488.0H628.8V488.0H629.1V488.0H629.4V488.0H629.7V488.1H630.0V488.0H630.3V488.1H630.6V488.0H630.9V488.1H631.2V488.1H631.5V488.1H631.8V488.1H632.1V488.1H632.4V488.1H632.6V488.1H632.9V488.1H633.2V488.1H633.5V488.1H633.8V488.1H634.1V488.1H634.4V488.1H634.7V488.1H635.0V488.1H635.3V488.1H635.6V488.1H635.9V488.1H636.2V488.1H636.5V488.1H636.8V488.1H637.1V488.1H637.4V488.2H637.7V488.1H638.0V488.2H638.3V488.2H638.6V488.2H638.8V488.2H639.1V488.2H639.4V488.2H639.7V488.2H640.0V488.2H640.3V488.2H640.6V488.2H640.9V488.2H641.2V488.2H641.5V488.2H641.8V488.2H642.1V488.2H642.4V488.2H642.7V488.2H643.0V488.2H643.3V488.2H643.6V488.2H643.9V488.2H644.2V488.2H644.5V488.2H644.8V488.2H645.0V488.2H645.3V488.2H645.6V488.2H645.9V488.2H646.2V488.2H646.5V488.2H646.8V488.2H647.1V488.2H647.4V488.2H647.7V488.2H648.0V488.2H648.3V488.2H648.6V488.2H648.9V488.2H649.2V488.2H649.5V488.2H649.8V488.2H650.1V488.2H650.4V488.2H650.7V488.2H651.0V488.2H651.2V488.2H651.5V488.2H651.8V488.2H652.1V488.2H652.4V488.2H652.7V488.2H653.0V488.2H653.3V488.2H653.6V488.2H653.9V488.2H654.2V488.2H654.5V488.2H654.8V488.2H655.1V488.2H655.4V488.2H655.7V488.2H656.0V488.2H656.3V488.2H656.6V488.2H656.9V488.2H657.2V488.2H657.4V488.2H657.7V488.2H658.0V488.2H658.3V488.2H658.6V488.2H658.9V488.2H659.2V488.2H659.5V488.2H659.8V488.2H660.1V488.2H660.4V488.2H660.7V488.2H661.0V488.2H661.3V488.2H661.6V488.2H661.9V488.2H662.2V488.2H662.5V488.2H662.8V488.2H663.1V488.2H663.3V488.2H663.6V488.2H663.9V488.2H664.2V488.2H664.5V488.2H664.8V488.2H665.1V488.2H665.4V488.2H665.7V488.2H666.0V488.2H666.3V488.2H666.6V488.2H666.9V488.2H667.2V488.2H667.5V488.2H667.8V488.2H668.1V488.2H668.4V488.2H668.7V488.2H669.0V488.2H669.3V488.2H669.5V488.2H669.8V488.2H670.1V488.2H670.4V488.3H670.7V488.2H671.0V488.2H671.3V488.2H671.6V488.2H671.9V488.3H672.2V488.2H672.5V488.2H672.8V488.2H673.1V488.2H673.4V488.3H673.7V488.3H674.0V488.3H674.3V488.3H674.6V488.3H674.9V488.3Z" fill="#1a6aae"/>
<rect x="567.87" y="383.95" width="1.3" height="38.37" fill="#4f8fc6" fill-opacity="1"/>
<rect x="567.87" y="380.59" width="1.3" height="3.37" fill="#e8a05a" fill-opacity="1"/>
<rect x="567.87" y="378.57" width="1.3" height="2.02" fill="#5aa55a" fill-opacity="1"/>
<rect x="567.87" y="397.42" width="1.3" height="3.37" fill="#7aa070" fill-opacity="1"/>
<rect x="536.5" y="374.5" width="145" height="114" fill="none" stroke="#858585" stroke-width="0.75"/>
<line x1="549.55" y1="488.3" x2="549.55" y2="489.6" stroke="#444" stroke-width="0.45"/>
<text transform="translate(549.55 493.9) scale(0.1)" font-size="36" text-anchor="middle" fill="#000" stroke="#000" stroke-width="0.5">−250</text>
<line x1="568" y1="488.3" x2="568" y2="489.6" stroke="#444" stroke-width="0.45"/>
<text transform="translate(568 493.9) scale(0.1)" font-size="36" text-anchor="middle" fill="#000" stroke="#000" stroke-width="0.5">0</text>
<line x1="586.45" y1="488.3" x2="586.45" y2="489.6" stroke="#444" stroke-width="0.45"/>
<text transform="translate(586.45 493.9) scale(0.1)" font-size="36" text-anchor="middle" fill="#000" stroke="#000" stroke-width="0.5">250</text>
<line x1="604.9" y1="488.3" x2="604.9" y2="489.6" stroke="#444" stroke-width="0.45"/>
<text transform="translate(604.9 493.9) scale(0.1)" font-size="36" text-anchor="middle" fill="#000" stroke="#000" stroke-width="0.5">500</text>
<line x1="623.35" y1="488.3" x2="623.35" y2="489.6" stroke="#444" stroke-width="0.45"/>
<text transform="translate(623.35 493.9) scale(0.1)" font-size="36" text-anchor="middle" fill="#000" stroke="#000" stroke-width="0.5">750</text>
<line x1="641.8" y1="488.3" x2="641.8" y2="489.6" stroke="#444" stroke-width="0.45"/>
<text transform="translate(641.8 493.9) scale(0.1)" font-size="36" text-anchor="middle" fill="#000" stroke="#000" stroke-width="0.5">1000</text>
<line x1="660.25" y1="488.3" x2="660.25" y2="489.6" stroke="#444" stroke-width="0.45"/>
<text transform="translate(660.25 493.9) scale(0.1)" font-size="36" text-anchor="middle" fill="#000" stroke="#000" stroke-width="0.5">1250</text>
<line x1="678.7" y1="488.3" x2="678.7" y2="489.6" stroke="#444" stroke-width="0.45"/>
<text transform="translate(678.7 493.9) scale(0.1)" font-size="36" text-anchor="middle" fill="#000" stroke="#000" stroke-width="0.5">1500</text>
<line x1="535.2" y1="488.3" x2="536.5" y2="488.3" stroke="#444" stroke-width="0.45"/>
<text transform="translate(534.2 489.54) scale(0.1)" font-size="34.5" text-anchor="end" fill="#000" stroke="#000" stroke-width="0.5">0</text>
<line x1="535.2" y1="471.47" x2="536.5" y2="471.47" stroke="#444" stroke-width="0.45"/>
<text transform="translate(534.2 472.71) scale(0.1)" font-size="34.5" text-anchor="end" fill="#000" stroke="#000" stroke-width="0.5">100</text>
<line x1="535.2" y1="454.64" x2="536.5" y2="454.64" stroke="#444" stroke-width="0.45"/>
<text transform="translate(534.2 455.88) scale(0.1)" font-size="34.5" text-anchor="end" fill="#000" stroke="#000" stroke-width="0.5">200</text>
<line x1="535.2" y1="437.81" x2="536.5" y2="437.81" stroke="#444" stroke-width="0.45"/>
<text transform="translate(534.2 439.05) scale(0.1)" font-size="34.5" text-anchor="end" fill="#000" stroke="#000" stroke-width="0.5">300</text>
<line x1="535.2" y1="420.98" x2="536.5" y2="420.98" stroke="#444" stroke-width="0.45"/>
<text transform="translate(534.2 422.22) scale(0.1)" font-size="34.5" text-anchor="end" fill="#000" stroke="#000" stroke-width="0.5">400</text>
<line x1="535.2" y1="404.15" x2="536.5" y2="404.15" stroke="#444" stroke-width="0.45"/>
<text transform="translate(534.2 405.39) scale(0.1)" font-size="34.5" text-anchor="end" fill="#000" stroke="#000" stroke-width="0.5">500</text>
<line x1="535.2" y1="387.32" x2="536.5" y2="387.32" stroke="#444" stroke-width="0.45"/>
<text transform="translate(534.2 388.56) scale(0.1)" font-size="34.5" text-anchor="end" fill="#000" stroke="#000" stroke-width="0.5">600</text>
<clipPath id="ct536"><rect x="-100" y="-23" width="3000" height="53"/></clipPath>
<text transform="translate(535.3 371.2) scale(0.1)" font-size="44.2" text-anchor="start" fill="#000" textLength="1464" lengthAdjust="spacingAndGlyphs" stroke="#000" stroke-width="0.5" clip-path="url(#ct536)">Phosphate lab draws and repletion timing relative to pre-repletion lab value</text>
<text transform="translate(608.85 498.3) scale(0.1)" font-size="36.6" text-anchor="middle" fill="#000" textLength="655" lengthAdjust="spacingAndGlyphs" stroke="#000" stroke-width="0.5">Time since initial lab resulted, in minutes</text>
<text transform="translate(525.7 431.2) rotate(-90) scale(0.1)" font-size="39" text-anchor="middle" fill="#000" stroke="#000" stroke-width="0.5">Number of occurrences</text>
<rect x="620.5" y="374.9" width="58.3" height="16.2" fill="#fff" fill-opacity="0.85" stroke="#ccc" stroke-width="0.5" rx="0.9"/>
<rect x="622.6" y="376.8" width="6.1" height="2.3" fill="#1a6aae"/>
<text transform="translate(631.7 379.2) scale(0.1)" font-size="36.9" text-anchor="start" fill="#000" textLength="460" lengthAdjust="spacingAndGlyphs" stroke="#000" stroke-width="0.5">Interval to ordering repletion</text>
<rect x="622.6" y="381.85" width="6.1" height="2.3" fill="#ff7a0c"/>
<text transform="translate(631.7 384.25) scale(0.1)" font-size="36.9" text-anchor="start" fill="#000" textLength="420" lengthAdjust="spacingAndGlyphs" stroke="#000" stroke-width="0.5">Interval to giving repletion</text>
<rect x="622.6" y="386.9" width="6.1" height="2.3" fill="#23912a"/>
<text transform="translate(631.7 389.3) scale(0.1)" font-size="36.7" text-anchor="start" fill="#000" textLength="445" lengthAdjust="spacingAndGlyphs" stroke="#000" stroke-width="0.5">Interval to ordering next lab</text>
<text transform="translate(0.7,21.8) scale(0.86,1)" font-size="23.6" font-weight="bold" fill="#000">A</text>
<text transform="translate(-0.4,140.2) scale(0.85,1)" font-size="23.6" font-weight="bold" fill="#000">B</text>
<text transform="translate(2.9,255.3) scale(0.85,1)" font-size="23.6" font-weight="bold" fill="#000">C</text>
<text transform="translate(0.5,384.4) scale(1.0,1)" font-size="23.6" font-weight="bold" fill="#000">D</text>
</svg>
</body></html>
